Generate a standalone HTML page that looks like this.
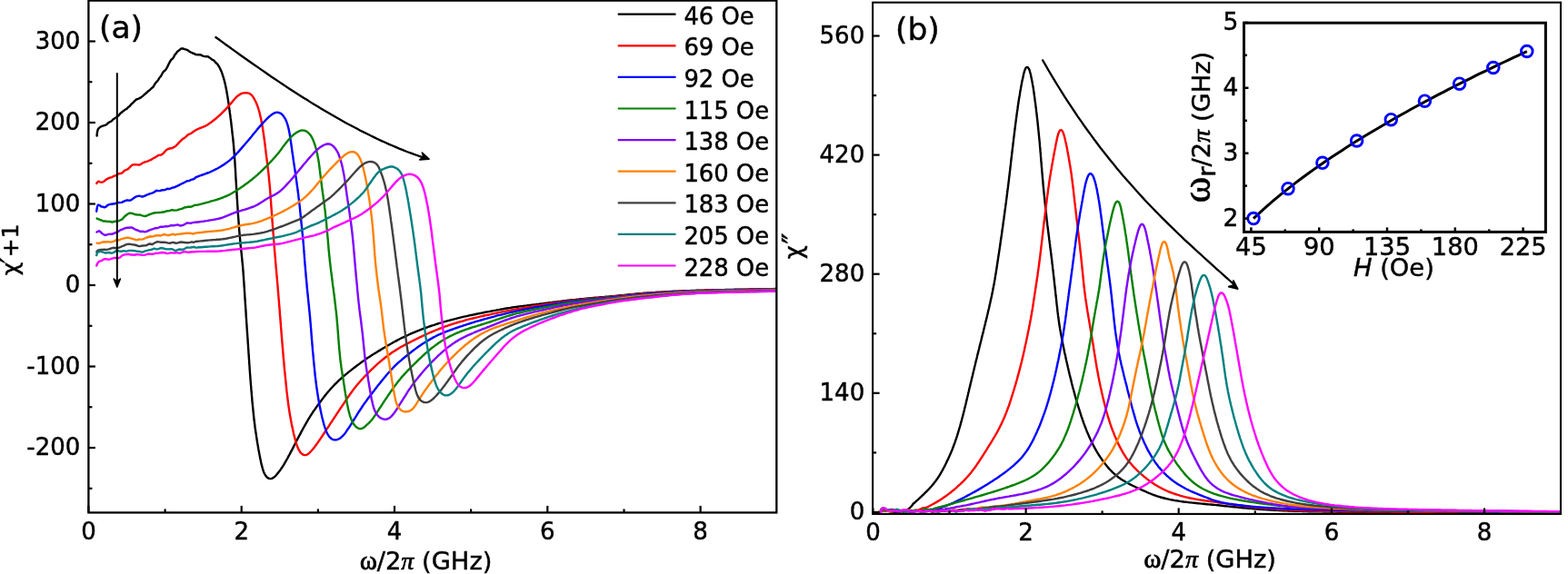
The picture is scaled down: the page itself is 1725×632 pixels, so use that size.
<!DOCTYPE html>
<html><head><meta charset="utf-8"><title>Susceptibility spectra</title>
<style>html,body{margin:0;padding:0;background:#fff;overflow:hidden}svg{display:block}text{fill:#000;stroke:#000;stroke-width:0.45px}</style>
</head><body>
<svg width="1725" height="632" viewBox="0 0 1725 632" font-family="'DejaVu Sans', Verdana, sans-serif">
<rect width="1725" height="632" fill="#fff"/>
<path d="M106.6,149.6 106.7,148.1 106.9,146.1 107.3,144.2 107.8,142.3 108.8,141.1 110.2,139.9 112.0,139.0 113.8,138.3 115.6,137.8 117.4,137.0 119.2,135.1 120.9,134.2 122.6,133.5 124.3,131.6 125.9,130.6 127.5,129.4 129.1,128.3 130.7,127.0 132.2,125.0 133.8,123.7 135.3,122.5 136.7,121.5 138.2,120.4 139.7,119.6 141.1,118.0 142.6,117.0 144.0,115.2 145.5,113.8 147.0,112.4 148.5,110.9 150.1,109.5 151.8,108.9 153.6,108.1 155.3,107.1 156.9,105.9 158.6,104.3 160.2,103.0 161.7,101.6 163.3,100.1 164.7,99.3 166.1,97.8 167.3,96.7 168.5,95.8 169.7,93.7 170.8,91.8 171.9,90.6 173.1,89.3 174.3,87.6 175.5,85.5 176.8,84.2 178.0,82.0 179.2,79.8 180.4,78.4 181.6,77.6 182.7,76.2 183.8,74.4 184.9,71.9 185.9,70.0 187.0,67.9 188.0,66.1 189.0,65.3 190.1,64.4 191.2,62.6 192.3,60.4 193.6,59.0 194.8,57.2 196.2,56.0 197.7,54.9 199.4,53.5 201.3,53.5 203.1,54.1 204.9,54.6 206.7,55.4 208.4,56.7 210.1,57.6 211.9,58.5 213.7,59.1 215.5,60.1 217.4,60.2 219.3,60.3 221.3,60.5 223.2,61.7 225.1,62.1 227.0,62.3 228.8,62.3 230.5,63.4 232.1,64.6 233.6,65.9 235.1,66.3 236.5,68.0 237.9,69.6 239.1,70.4 240.2,72.2 241.2,73.8 242.1,75.5 242.9,77.3 243.7,79.1 244.4,80.9 245.0,82.8 245.6,84.7 246.2,86.6 246.7,88.5 247.2,90.4 247.7,92.4 248.1,94.3 248.5,96.3 248.9,98.2 249.3,100.2 249.6,102.2 249.9,104.1 250.3,106.1 250.6,108.1 250.9,110.1 251.2,112.0 251.5,114.0 251.7,116.0 252.0,118.0 252.3,120.0 252.6,121.9 252.8,123.9 253.1,125.9 253.4,127.9 253.6,129.9 253.9,131.9 254.1,133.8 254.4,135.8 254.6,137.8 254.8,139.8 255.1,141.8 255.3,143.8 255.5,145.8 255.7,147.7 256.0,149.7 256.2,151.7 256.4,153.7 256.6,155.7 256.8,157.7 257.0,159.7 257.1,161.7 257.3,163.7 257.5,165.7 257.6,167.7 257.8,169.6 257.9,171.6 258.1,173.6 258.2,175.6 258.4,177.6 258.5,179.6 258.6,181.6 258.7,183.6 258.9,185.6 259.0,187.6 259.1,189.6 259.2,191.6 259.3,193.6 259.4,195.6 259.5,197.6 259.7,199.6 259.8,201.6 259.9,203.6 260.0,205.6 260.1,207.6 260.3,209.6 260.4,211.6 260.5,213.6 260.6,215.6 260.7,217.6 260.9,219.5 261.0,221.5 261.1,223.5 261.2,225.5 261.4,227.5 261.5,229.5 261.6,231.5 261.8,233.5 261.9,235.5 262.0,237.5 262.2,239.5 262.3,241.5 262.5,243.5 262.6,245.5 262.8,247.5 262.9,249.5 263.1,251.5 263.2,253.5 263.4,255.5 263.6,257.5 263.7,259.4 263.9,261.4 264.1,263.4 264.3,265.4 264.4,267.4 264.6,269.4 264.8,271.4 265.0,273.4 265.3,275.4 265.5,277.4 265.7,279.3 265.9,281.3 266.1,283.3 266.3,285.3 266.5,287.3 266.7,289.3 266.9,291.3 267.1,293.3 267.2,295.3 267.4,297.3 267.6,299.3 267.7,301.2 267.8,303.2 268.0,305.2 268.1,307.2 268.2,309.2 268.4,311.2 268.5,313.2 268.6,315.2 268.8,317.2 268.9,319.2 269.0,321.2 269.2,323.2 269.3,325.2 269.4,327.2 269.5,329.2 269.7,331.2 269.8,333.2 269.9,335.2 270.1,337.2 270.2,339.2 270.3,341.2 270.5,343.2 270.6,345.2 270.7,347.1 270.8,349.1 271.0,351.1 271.1,353.1 271.2,355.1 271.4,357.1 271.5,359.1 271.6,361.1 271.8,363.1 271.9,365.1 272.0,367.1 272.2,369.1 272.3,371.1 272.5,373.1 272.6,375.1 272.7,377.1 272.9,379.1 273.0,381.1 273.1,383.1 273.3,385.1 273.4,387.1 273.5,389.1 273.7,391.0 273.8,393.0 273.9,395.0 274.1,397.0 274.2,399.0 274.3,401.0 274.5,403.0 274.6,405.0 274.7,407.0 274.9,409.0 275.0,411.0 275.2,413.0 275.3,415.0 275.5,417.0 275.6,419.0 275.8,421.0 275.9,423.0 276.1,425.0 276.3,427.0 276.4,428.9 276.6,430.9 276.8,432.9 276.9,434.9 277.1,436.9 277.3,438.9 277.4,440.9 277.6,442.9 277.8,444.9 278.0,446.9 278.2,448.9 278.4,450.9 278.6,452.9 278.8,454.8 279.0,456.8 279.2,458.8 279.4,460.8 279.6,462.8 279.9,464.8 280.1,466.8 280.4,468.7 280.6,470.7 280.9,472.7 281.2,474.7 281.5,476.7 281.8,478.6 282.1,480.6 282.4,482.6 282.7,484.6 283.0,486.5 283.3,488.5 283.7,490.5 284.0,492.5 284.3,494.4 284.7,496.4 285.1,498.4 285.4,500.3 285.8,502.3 286.2,504.3 286.6,506.2 287.0,508.2 287.4,510.1 287.9,512.1 288.4,514.0 288.9,515.9 289.5,517.8 290.1,519.7 291.0,521.5 291.9,523.2 293.1,524.8 294.5,526.1 296.1,526.9 297.7,527.1 299.4,526.8 301.0,525.8 302.5,524.6 303.8,523.2 305.1,521.6 306.4,520.1 307.6,518.5 308.8,516.9 309.9,515.2 311.0,513.6 312.1,511.9 313.1,510.2 314.1,508.4 315.1,506.7 316.1,505.0 317.0,503.2 318.0,501.4 318.9,499.7 319.8,497.9 320.8,496.1 321.7,494.4 322.6,492.6 323.5,490.8 324.4,489.0 325.3,487.2 326.2,485.5 327.2,483.7 328.1,481.9 329.0,480.1 330.0,478.4 330.9,476.6 331.8,474.8 332.8,473.1 333.7,471.3 334.7,469.6 335.7,467.8 336.7,466.1 337.7,464.4 338.7,462.6 339.7,460.9 340.8,459.2 341.8,457.5 342.9,455.9 344.0,454.2 345.1,452.5 346.3,450.9 347.4,449.3 348.6,447.6 349.7,446.0 350.9,444.4 352.1,442.8 353.3,441.2 354.5,439.6 355.7,438.0 356.9,436.4 358.2,434.9 359.4,433.3 360.7,431.8 362.0,430.3 363.3,428.7 364.6,427.3 366.0,425.8 367.4,424.3 368.7,422.9 370.2,421.5 371.6,420.1 373.0,418.7 374.5,417.4 376.0,416.0 377.5,414.7 379.0,413.4 380.5,412.1 382.1,410.9 383.6,409.6 385.2,408.4 386.8,407.1 388.3,405.9 389.9,404.7 391.5,403.5 393.1,402.3 394.7,401.1 396.3,399.9 397.9,398.7 399.6,397.5 401.2,396.4 402.8,395.2 404.5,394.1 406.2,393.0 407.8,391.9 409.5,390.8 411.2,389.8 412.9,388.7 414.6,387.7 416.3,386.6 418.0,385.6 419.7,384.6 421.4,383.5 423.2,382.5 424.9,381.5 426.6,380.5 428.3,379.5 430.1,378.5 431.8,377.5 433.5,376.5 435.3,375.6 437.1,374.6 438.8,373.7 440.6,372.8 442.4,371.9 444.2,371.1 446.0,370.2 447.8,369.4 449.7,368.5 451.5,367.7 453.3,366.9 455.2,366.1 457.0,365.4 458.8,364.6 460.7,363.9 462.6,363.1 464.4,362.4 466.3,361.7 468.2,361.0 470.0,360.3 471.9,359.7 473.8,359.0 475.7,358.4 477.6,357.8 479.5,357.1 481.4,356.5 483.3,355.9 485.2,355.4 487.2,354.8 489.1,354.2 491.0,353.7 492.9,353.1 494.9,352.6 496.8,352.1 498.7,351.6 500.7,351.1 502.6,350.6 504.5,350.1 506.5,349.6 508.4,349.2 510.4,348.7 512.3,348.3 514.3,347.9 516.2,347.4 518.2,347.0 520.1,346.6 522.1,346.2 524.1,345.8 526.0,345.4 528.0,345.0 529.9,344.6 531.9,344.2 533.9,343.8 535.8,343.4 537.8,343.1 539.8,342.7 541.7,342.3 543.7,341.9 545.7,341.6 547.6,341.2 549.6,340.9 551.6,340.5 553.5,340.2 555.5,339.8 557.5,339.5 559.4,339.2 561.4,338.9 563.4,338.5 565.4,338.2 567.3,338.0 569.3,337.7 571.3,337.4 573.3,337.1 575.3,336.9 577.3,336.6 579.2,336.4 581.2,336.1 583.2,335.9 585.2,335.6 587.2,335.4 589.2,335.2 591.2,334.9 593.1,334.7 595.1,334.4 597.1,334.2 599.1,333.9 601.1,333.7 603.1,333.5 605.0,333.2 607.0,333.0 609.0,332.7 611.0,332.4 613.0,332.2 615.0,331.9 617.0,331.7 618.9,331.4 620.9,331.2 622.9,331.0 624.9,330.7 626.9,330.5 628.9,330.3 630.9,330.1 632.8,329.9 634.8,329.6 636.8,329.5 638.8,329.3 640.8,329.1 642.8,328.9 644.8,328.7 646.8,328.5 648.8,328.4 650.8,328.2 652.8,328.0 654.7,327.8 656.7,327.6 658.7,327.5 660.7,327.3 662.7,327.1 664.7,327.0 666.7,326.8 668.7,326.6 670.7,326.4 672.7,326.2 674.7,326.1 676.7,325.9 678.7,325.7 680.6,325.5 682.6,325.3 684.6,325.1 686.6,324.9 688.6,324.7 690.6,324.5 692.6,324.3 694.6,324.1 696.6,323.9 698.6,323.7 700.5,323.5 702.5,323.3 704.5,323.1 706.5,323.0 708.5,322.8 710.5,322.7 712.5,322.5 714.5,322.4 716.5,322.2 718.5,322.1 720.5,322.0 722.5,321.8 724.5,321.7 726.5,321.6 728.5,321.5 730.5,321.4 732.5,321.2 734.5,321.1 736.5,321.0 738.4,320.9 740.4,320.8 742.4,320.7 744.4,320.6 746.4,320.6 748.4,320.5 750.4,320.4 752.4,320.3 754.4,320.2 756.4,320.1 758.4,320.1 760.4,320.0 762.4,319.9 764.4,319.9 766.4,319.8 768.4,319.7 770.4,319.7 772.4,319.6 774.4,319.6 776.4,319.5 778.4,319.5 780.4,319.4 782.4,319.4 784.4,319.3 786.4,319.3 788.4,319.2 790.4,319.2 792.4,319.1 794.4,319.1 796.4,319.1 798.4,319.0 800.4,319.0 802.4,318.9 804.4,318.9 806.4,318.9 808.4,318.8 810.4,318.8 812.4,318.7 814.4,318.7 816.4,318.7 818.4,318.6 820.4,318.6 822.4,318.6 824.4,318.5 826.4,318.5 828.4,318.5 830.4,318.4 832.4,318.4 834.4,318.3 836.4,318.3 838.4,318.3 840.4,318.2 842.4,318.2 844.4,318.2 846.4,318.1 848.4,318.1 850.4,318.1 852.2,318.0 852.9,318.0" stroke="#000000" stroke-width="2.4" fill="none" stroke-linejoin="round" stroke-linecap="round"/>
<path d="M106.3,201.9 107.1,200.6 108.3,199.7 109.9,200.4 111.5,200.6 113.0,200.5 114.3,199.8 115.8,198.5 117.4,197.3 119.3,196.4 121.2,195.5 123.2,195.1 125.1,193.9 126.9,193.4 128.8,192.5 130.5,191.3 132.3,191.0 134.0,190.7 135.7,189.0 137.5,187.5 139.1,186.9 140.8,186.2 142.3,184.7 143.8,183.1 145.5,181.6 147.2,181.3 149.1,181.2 151.0,181.4 153.0,181.5 155.0,180.8 156.9,179.5 158.8,178.7 160.6,178.1 162.3,177.6 164.1,176.7 165.8,176.2 167.5,175.0 169.2,174.0 171.0,173.2 172.8,171.9 174.5,170.8 176.3,170.9 178.0,170.1 179.8,168.7 181.5,166.7 183.2,165.0 185.0,164.0 186.7,163.5 188.4,163.3 190.1,162.6 191.8,161.8 193.4,160.8 195.0,159.1 196.6,157.4 198.1,155.8 199.6,154.3 201.1,152.9 202.6,152.1 204.2,150.9 205.8,149.3 207.4,148.0 209.0,147.4 210.7,146.7 212.4,145.2 214.1,144.0 215.8,143.0 217.6,142.1 219.4,141.3 221.3,140.6 223.2,139.9 225.0,139.1 226.8,138.2 228.5,137.2 230.2,136.1 231.8,135.0 233.4,133.8 235.0,132.5 236.6,131.3 238.1,130.0 239.6,128.7 241.1,127.3 242.6,126.0 244.0,124.6 245.4,123.2 246.8,121.8 248.2,120.4 249.6,118.9 251.0,117.4 252.3,115.9 253.6,114.4 254.9,112.9 256.2,111.3 257.5,109.8 258.8,108.3 260.1,106.9 261.6,105.5 263.2,104.4 264.9,103.4 266.7,102.7 268.6,102.3 270.5,102.2 272.4,102.4 274.2,102.9 275.8,103.8 277.2,105.1 278.3,106.6 279.4,108.3 280.3,110.1 281.2,111.8 282.1,113.7 282.8,115.5 283.5,117.4 284.2,119.2 284.7,121.1 285.3,123.1 285.8,125.0 286.2,126.9 286.6,128.9 287.1,130.8 287.5,132.8 287.8,134.8 288.2,136.7 288.6,138.7 288.9,140.7 289.2,142.6 289.5,144.6 289.8,146.6 290.1,148.6 290.4,150.5 290.6,152.5 290.9,154.5 291.2,156.5 291.4,158.5 291.7,160.5 291.9,162.4 292.2,164.4 292.4,166.4 292.6,168.4 292.9,170.4 293.1,172.4 293.4,174.4 293.6,176.3 293.9,178.3 294.1,180.3 294.4,182.3 294.6,184.3 294.8,186.3 295.1,188.3 295.3,190.2 295.5,192.2 295.7,194.2 295.9,196.2 296.1,198.2 296.3,200.2 296.5,202.2 296.7,204.2 296.9,206.2 297.0,208.2 297.2,210.1 297.3,212.1 297.5,214.1 297.6,216.1 297.8,218.1 297.9,220.1 298.1,222.1 298.2,224.1 298.3,226.1 298.5,228.1 298.6,230.1 298.8,232.1 298.9,234.1 299.1,236.1 299.2,238.1 299.3,240.1 299.5,242.1 299.6,244.1 299.8,246.1 299.9,248.0 300.1,250.0 300.2,252.0 300.4,254.0 300.5,256.0 300.7,258.0 300.9,260.0 301.0,262.0 301.2,264.0 301.3,266.0 301.5,268.0 301.7,270.0 301.8,272.0 302.0,274.0 302.1,276.0 302.3,278.0 302.5,279.9 302.6,281.9 302.8,283.9 303.0,285.9 303.1,287.9 303.3,289.9 303.5,291.9 303.6,293.9 303.8,295.9 304.0,297.9 304.2,299.9 304.3,301.9 304.5,303.9 304.7,305.9 304.9,307.8 305.0,309.8 305.2,311.8 305.4,313.8 305.6,315.8 305.7,317.8 305.9,319.8 306.1,321.8 306.2,323.8 306.4,325.8 306.5,327.8 306.7,329.8 306.9,331.8 307.0,333.8 307.2,335.7 307.3,337.7 307.5,339.7 307.6,341.7 307.8,343.7 307.9,345.7 308.1,347.7 308.3,349.7 308.4,351.7 308.6,353.7 308.7,355.7 308.9,357.7 309.0,359.7 309.2,361.7 309.4,363.7 309.5,365.7 309.7,367.7 309.8,369.6 310.0,371.6 310.2,373.6 310.3,375.6 310.5,377.6 310.7,379.6 310.8,381.6 311.0,383.6 311.2,385.6 311.3,387.6 311.5,389.6 311.7,391.6 311.8,393.6 312.0,395.6 312.2,397.5 312.4,399.5 312.5,401.5 312.7,403.5 312.9,405.5 313.1,407.5 313.3,409.5 313.5,411.5 313.7,413.5 313.9,415.5 314.1,417.5 314.3,419.4 314.5,421.4 314.7,423.4 314.9,425.4 315.1,427.4 315.3,429.4 315.5,431.4 315.8,433.4 316.0,435.4 316.2,437.3 316.5,439.3 316.7,441.3 317.0,443.3 317.2,445.3 317.5,447.3 317.8,449.2 318.1,451.2 318.4,453.2 318.7,455.2 319.0,457.1 319.4,459.1 319.7,461.1 320.1,463.0 320.5,465.0 320.8,467.0 321.2,468.9 321.7,470.9 322.1,472.8 322.5,474.8 322.9,476.7 323.4,478.7 323.9,480.6 324.4,482.6 324.9,484.5 325.4,486.4 326.0,488.3 326.6,490.2 327.3,492.1 328.1,493.9 329.0,495.7 330.0,497.4 331.2,498.9 332.6,500.1 334.2,500.9 335.9,501.1 337.6,500.6 339.2,499.7 340.7,498.4 342.0,497.0 343.4,495.5 344.6,494.0 345.9,492.4 347.1,490.8 348.2,489.2 349.4,487.6 350.6,485.9 351.7,484.3 352.8,482.6 353.9,481.0 355.0,479.3 356.1,477.7 357.2,476.0 358.3,474.3 359.4,472.6 360.5,471.0 361.6,469.3 362.7,467.6 363.8,465.9 364.9,464.3 366.0,462.6 367.1,460.9 368.2,459.3 369.3,457.6 370.4,455.9 371.5,454.3 372.6,452.6 373.7,450.9 374.8,449.3 376.0,447.6 377.1,445.9 378.2,444.3 379.3,442.6 380.4,440.9 381.5,439.3 382.6,437.6 383.8,436.0 384.9,434.3 386.1,432.7 387.2,431.1 388.4,429.5 389.6,427.9 390.9,426.3 392.1,424.8 393.4,423.3 394.7,421.7 396.0,420.2 397.3,418.7 398.7,417.3 400.0,415.8 401.4,414.3 402.8,412.9 404.2,411.5 405.6,410.0 407.0,408.6 408.4,407.2 409.9,405.8 411.3,404.4 412.8,403.1 414.2,401.7 415.7,400.4 417.2,399.1 418.8,397.8 420.3,396.5 421.8,395.3 423.4,394.0 425.0,392.8 426.6,391.6 428.2,390.4 429.8,389.3 431.5,388.1 433.1,387.0 434.8,385.9 436.5,384.9 438.2,383.8 439.9,382.8 441.6,381.8 443.4,380.9 445.1,379.9 446.9,379.0 448.7,378.0 450.4,377.1 452.2,376.2 454.0,375.3 455.8,374.4 457.6,373.5 459.4,372.6 461.2,371.7 463.0,370.9 464.8,370.0 466.6,369.2 468.4,368.3 470.2,367.5 472.0,366.7 473.9,365.9 475.7,365.1 477.5,364.3 479.4,363.5 481.2,362.8 483.1,362.0 485.0,361.3 486.8,360.6 488.7,359.9 490.6,359.2 492.5,358.6 494.4,357.9 496.3,357.3 498.2,356.7 500.1,356.1 502.0,355.5 503.9,354.9 505.8,354.3 507.7,353.8 509.7,353.3 511.6,352.7 513.5,352.2 515.4,351.7 517.4,351.2 519.3,350.7 521.3,350.3 523.2,349.8 525.2,349.3 527.1,348.9 529.1,348.4 531.0,348.0 533.0,347.5 534.9,347.1 536.9,346.7 538.8,346.3 540.8,345.8 542.7,345.4 544.7,345.0 546.6,344.6 548.6,344.2 550.6,343.8 552.5,343.4 554.5,343.0 556.4,342.6 558.4,342.3 560.4,341.9 562.3,341.5 564.3,341.1 566.3,340.8 568.2,340.4 570.2,340.0 572.2,339.7 574.1,339.3 576.1,339.0 578.1,338.6 580.1,338.3 582.0,338.0 584.0,337.7 586.0,337.3 587.9,337.0 589.9,336.7 591.9,336.4 593.9,336.1 595.8,335.8 597.8,335.5 599.8,335.2 601.8,334.9 603.8,334.6 605.7,334.3 607.7,334.0 609.7,333.7 611.7,333.4 613.7,333.1 615.6,332.8 617.6,332.6 619.6,332.3 621.6,332.0 623.6,331.8 625.5,331.5 627.5,331.3 629.5,331.0 631.5,330.8 633.5,330.6 635.5,330.4 637.5,330.1 639.5,329.9 641.4,329.7 643.4,329.5 645.4,329.3 647.4,329.2 649.4,329.0 651.4,328.8 653.4,328.6 655.4,328.4 657.4,328.2 659.4,328.0 661.4,327.8 663.3,327.7 665.3,327.5 667.3,327.3 669.3,327.1 671.3,326.9 673.3,326.7 675.3,326.5 677.3,326.3 679.3,326.1 681.3,325.9 683.2,325.7 685.2,325.5 687.2,325.3 689.2,325.1 691.2,324.9 693.2,324.7 695.2,324.5 697.2,324.3 699.2,324.1 701.2,323.9 703.1,323.7 705.1,323.5 707.1,323.4 709.1,323.2 711.1,323.0 713.1,322.9 715.1,322.7 717.1,322.6 719.1,322.4 721.1,322.3 723.1,322.2 725.1,322.0 727.1,321.9 729.1,321.8 731.1,321.7 733.1,321.6 735.1,321.4 737.1,321.3 739.1,321.2 741.1,321.1 743.0,321.0 745.0,320.9 747.0,320.8 749.0,320.7 751.0,320.6 753.0,320.6 755.0,320.5 757.0,320.4 759.0,320.3 761.0,320.2 763.0,320.2 765.0,320.1 767.0,320.0 769.0,320.0 771.0,319.9 773.0,319.9 775.0,319.8 777.0,319.7 779.0,319.7 781.0,319.6 783.0,319.6 785.0,319.5 787.0,319.5 789.0,319.4 791.0,319.4 793.0,319.4 795.0,319.3 797.0,319.3 799.0,319.2 801.0,319.2 803.0,319.2 805.0,319.1 807.0,319.1 809.0,319.0 811.0,319.0 813.0,319.0 815.0,318.9 817.0,318.9 819.0,318.8 821.0,318.8 823.0,318.8 825.0,318.7 827.0,318.7 829.0,318.7 831.0,318.6 833.0,318.6 835.0,318.6 837.0,318.5 839.0,318.5 841.0,318.5 843.0,318.4 845.0,318.4 847.0,318.3 849.0,318.3 850.9,318.3 852.5,318.2" stroke="#ff0000" stroke-width="2.4" fill="none" stroke-linejoin="round" stroke-linecap="round"/>
<path d="M106.2,232.7 106.4,231.2 106.7,229.2 107.1,227.3 107.8,225.8 108.9,225.7 110.1,226.4 111.4,227.5 113.0,227.6 114.8,228.4 116.6,227.7 118.4,225.8 120.3,225.1 122.3,224.7 124.2,224.5 126.2,224.4 128.1,223.5 130.1,223.0 132.0,223.1 133.9,222.9 135.9,221.9 137.8,221.1 139.7,220.3 141.6,220.7 143.5,220.6 145.4,219.4 147.3,218.0 149.2,216.7 151.1,216.2 153.0,215.7 155.0,216.2 156.9,216.5 158.9,215.9 160.8,214.9 162.7,214.2 164.7,213.3 166.5,212.8 168.4,212.2 170.3,211.1 172.2,209.8 174.1,210.1 176.1,210.0 178.1,209.3 180.0,209.3 182.0,208.9 184.0,207.8 185.9,208.1 187.9,207.4 189.8,206.6 191.7,206.3 193.6,205.4 195.4,204.6 197.3,203.6 199.1,202.7 200.9,201.8 202.7,201.0 204.5,200.0 206.2,199.2 208.0,199.1 209.8,198.2 211.6,197.5 213.4,197.1 215.2,195.4 217.0,194.6 218.9,193.8 220.8,193.2 222.7,192.5 224.6,191.9 226.4,191.2 228.3,190.5 230.2,189.8 232.0,189.0 233.8,188.2 235.6,187.3 237.4,186.4 239.2,185.5 240.9,184.5 242.6,183.5 244.3,182.4 246.0,181.4 247.7,180.2 249.3,179.1 250.9,177.9 252.5,176.7 254.0,175.4 255.5,174.0 257.0,172.7 258.4,171.2 259.8,169.8 261.1,168.3 262.5,166.9 263.8,165.4 265.1,163.9 266.4,162.4 267.8,160.8 269.1,159.3 270.4,157.8 271.7,156.3 273.0,154.8 274.3,153.3 275.5,151.7 276.8,150.2 278.1,148.6 279.3,147.1 280.6,145.5 281.9,144.0 283.1,142.4 284.4,140.9 285.7,139.4 287.0,137.9 288.4,136.4 289.7,134.9 291.1,133.5 292.5,132.0 293.9,130.6 295.4,129.2 296.8,127.9 298.4,126.6 300.0,125.5 301.7,124.5 303.5,123.9 305.3,123.8 307.1,124.1 308.8,124.8 310.3,126.0 311.6,127.5 312.7,129.1 313.8,130.8 314.6,132.6 315.4,134.4 316.0,136.3 316.6,138.2 317.1,140.1 317.6,142.1 318.0,144.0 318.4,146.0 318.7,147.9 319.0,149.9 319.3,151.9 319.6,153.9 319.9,155.8 320.2,157.8 320.5,159.8 320.8,161.8 321.1,163.8 321.3,165.7 321.6,167.7 321.9,169.7 322.2,171.7 322.5,173.7 322.7,175.6 323.0,177.6 323.3,179.6 323.6,181.6 323.9,183.6 324.2,185.5 324.5,187.5 324.8,189.5 325.1,191.5 325.3,193.4 325.6,195.4 325.9,197.4 326.2,199.4 326.5,201.4 326.7,203.3 327.0,205.3 327.3,207.3 327.5,209.3 327.8,211.3 328.1,213.3 328.3,215.2 328.5,217.2 328.8,219.2 329.0,221.2 329.2,223.2 329.5,225.2 329.7,227.2 329.9,229.2 330.1,231.1 330.3,233.1 330.5,235.1 330.7,237.1 330.9,239.1 331.1,241.1 331.3,243.1 331.5,245.1 331.7,247.1 331.9,249.0 332.1,251.0 332.3,253.0 332.5,255.0 332.7,257.0 332.9,259.0 333.1,261.0 333.3,263.0 333.5,265.0 333.7,267.0 333.8,269.0 334.0,271.0 334.2,272.9 334.3,274.9 334.5,276.9 334.6,278.9 334.8,280.9 334.9,282.9 335.1,284.9 335.2,286.9 335.4,288.9 335.5,290.9 335.7,292.9 335.9,294.9 336.0,296.9 336.2,298.9 336.4,300.9 336.5,302.8 336.7,304.8 336.9,306.8 337.1,308.8 337.3,310.8 337.5,312.8 337.6,314.8 337.8,316.8 338.0,318.8 338.2,320.8 338.4,322.8 338.6,324.7 338.8,326.7 339.0,328.7 339.2,330.7 339.4,332.7 339.6,334.7 339.8,336.7 340.0,338.7 340.2,340.7 340.4,342.7 340.6,344.6 340.8,346.6 341.0,348.6 341.2,350.6 341.3,352.6 341.5,354.6 341.7,356.6 341.8,358.6 342.0,360.6 342.2,362.6 342.3,364.6 342.5,366.6 342.6,368.6 342.8,370.6 342.9,372.5 343.1,374.5 343.3,376.5 343.4,378.5 343.6,380.5 343.8,382.5 343.9,384.5 344.1,386.5 344.3,388.5 344.5,390.5 344.7,392.5 344.8,394.5 345.0,396.5 345.2,398.4 345.4,400.4 345.6,402.4 345.8,404.4 346.0,406.4 346.2,408.4 346.4,410.4 346.6,412.4 346.8,414.4 347.1,416.4 347.3,418.3 347.5,420.3 347.8,422.3 348.0,424.3 348.3,426.3 348.6,428.3 348.9,430.2 349.2,432.2 349.5,434.2 349.8,436.2 350.1,438.1 350.4,440.1 350.8,442.1 351.1,444.0 351.5,446.0 351.9,448.0 352.3,449.9 352.7,451.9 353.1,453.8 353.5,455.8 354.0,457.7 354.4,459.7 354.9,461.6 355.4,463.6 355.9,465.5 356.4,467.4 357.0,469.3 357.6,471.2 358.3,473.1 359.0,475.0 359.8,476.8 360.8,478.6 361.8,480.2 363.1,481.7 364.5,483.0 366.1,483.9 367.8,484.4 369.7,484.3 371.5,483.8 373.3,483.0 374.9,481.9 376.4,480.6 377.8,479.2 379.1,477.7 380.3,476.1 381.4,474.4 382.5,472.8 383.7,471.1 384.8,469.4 385.8,467.8 386.9,466.1 388.0,464.4 389.0,462.7 390.1,461.0 391.1,459.3 392.2,457.6 393.2,455.9 394.3,454.2 395.4,452.5 396.5,450.8 397.6,449.2 398.7,447.5 399.8,445.9 400.9,444.2 402.1,442.6 403.3,441.0 404.4,439.4 405.6,437.8 406.8,436.2 408.1,434.6 409.3,433.0 410.5,431.4 411.7,429.9 412.9,428.3 414.1,426.7 415.4,425.1 416.6,423.6 417.9,422.0 419.1,420.4 420.4,418.9 421.6,417.3 422.9,415.8 424.2,414.2 425.4,412.7 426.7,411.2 428.0,409.7 429.4,408.2 430.7,406.7 432.1,405.3 433.5,403.8 434.9,402.4 436.3,401.1 437.8,399.7 439.3,398.4 440.8,397.1 442.3,395.8 443.8,394.5 445.4,393.2 446.9,392.0 448.5,390.7 450.0,389.5 451.6,388.2 453.2,387.0 454.8,385.8 456.4,384.6 458.0,383.4 459.6,382.2 461.2,381.1 462.9,379.9 464.5,378.8 466.2,377.7 467.9,376.7 469.6,375.6 471.3,374.6 473.0,373.6 474.8,372.6 476.5,371.6 478.3,370.7 480.1,369.8 481.8,368.9 483.7,368.1 485.5,367.3 487.3,366.5 489.2,365.8 491.0,365.0 492.9,364.3 494.8,363.6 496.6,363.0 498.5,362.3 500.4,361.6 502.3,361.0 504.2,360.3 506.1,359.7 508.0,359.1 509.9,358.4 511.8,357.8 513.7,357.2 515.6,356.6 517.5,356.0 519.4,355.4 521.3,354.8 523.2,354.2 525.1,353.6 527.1,353.1 529.0,352.5 530.9,352.0 532.8,351.4 534.8,350.9 536.7,350.3 538.6,349.8 540.5,349.3 542.5,348.8 544.4,348.3 546.3,347.7 548.3,347.2 550.2,346.8 552.2,346.3 554.1,345.8 556.0,345.3 558.0,344.8 559.9,344.4 561.9,343.9 563.8,343.5 565.8,343.1 567.7,342.6 569.7,342.2 571.6,341.8 573.6,341.4 575.6,341.0 577.5,340.6 579.5,340.2 581.4,339.8 583.4,339.4 585.4,339.1 587.3,338.7 589.3,338.3 591.3,338.0 593.2,337.6 595.2,337.3 597.2,336.9 599.1,336.6 601.1,336.2 603.1,335.9 605.1,335.6 607.0,335.2 609.0,334.9 611.0,334.6 613.0,334.3 614.9,334.0 616.9,333.6 618.9,333.3 620.9,333.0 622.8,332.7 624.8,332.5 626.8,332.2 628.8,331.9 630.8,331.7 632.7,331.5 634.7,331.2 636.7,331.0 638.7,330.8 640.7,330.6 642.7,330.4 644.7,330.2 646.7,329.9 648.7,329.7 650.6,329.6 652.6,329.4 654.6,329.2 656.6,329.0 658.6,328.8 660.6,328.6 662.6,328.4 664.6,328.2 666.6,328.0 668.6,327.8 670.6,327.6 672.5,327.4 674.5,327.2 676.5,327.0 678.5,326.8 680.5,326.6 682.5,326.4 684.5,326.2 686.5,326.0 688.5,325.8 690.4,325.6 692.4,325.3 694.4,325.1 696.4,324.9 698.4,324.7 700.4,324.5 702.4,324.3 704.4,324.1 706.4,323.9 708.4,323.8 710.3,323.6 712.3,323.4 714.3,323.3 716.3,323.1 718.3,323.0 720.3,322.8 722.3,322.7 724.3,322.6 726.3,322.4 728.3,322.3 730.3,322.2 732.3,322.0 734.3,321.9 736.3,321.8 738.3,321.7 740.3,321.5 742.3,321.4 744.3,321.3 746.3,321.2 748.3,321.1 750.3,321.0 752.3,320.9 754.3,320.8 756.3,320.8 758.3,320.7 760.3,320.6 762.2,320.5 764.2,320.4 766.2,320.4 768.2,320.3 770.2,320.2 772.2,320.2 774.2,320.1 776.2,320.1 778.2,320.0 780.2,319.9 782.2,319.9 784.2,319.8 786.2,319.8 788.2,319.7 790.2,319.7 792.2,319.7 794.2,319.6 796.2,319.6 798.2,319.5 800.2,319.5 802.2,319.4 804.2,319.4 806.2,319.4 808.2,319.3 810.2,319.3 812.2,319.2 814.2,319.2 816.2,319.2 818.2,319.1 820.2,319.1 822.2,319.1 824.2,319.0 826.2,319.0 828.2,318.9 830.2,318.9 832.2,318.9 834.2,318.8 836.2,318.8 838.2,318.8 840.2,318.7 842.2,318.7 844.2,318.7 846.2,318.6 848.2,318.6 850.2,318.5 852.0,318.5 852.7,318.5" stroke="#0000ff" stroke-width="2.4" fill="none" stroke-linejoin="round" stroke-linecap="round"/>
<path d="M106.6,240.6 108.0,241.2 109.8,241.9 111.6,242.5 113.5,243.5 115.4,243.4 117.4,243.8 119.3,244.0 121.3,244.0 123.3,244.7 125.3,244.0 127.3,243.6 129.2,243.6 131.0,243.2 132.7,242.1 134.3,241.6 135.8,239.8 137.2,238.2 138.7,237.0 140.4,235.8 142.2,234.7 144.2,234.6 146.2,235.2 148.1,236.0 150.0,236.3 151.8,236.6 153.6,236.4 155.6,237.1 157.5,237.6 159.5,238.0 161.5,237.5 163.4,236.5 165.3,235.8 167.3,235.1 169.2,234.5 171.2,234.3 173.2,234.1 175.2,234.0 177.2,233.9 179.1,233.5 181.1,233.3 183.1,232.4 185.1,232.3 187.0,231.9 189.0,231.1 191.0,231.5 192.9,231.6 194.9,231.4 196.9,230.6 198.8,230.2 200.8,229.6 202.7,228.5 204.7,228.3 206.7,227.6 208.6,227.7 210.6,227.6 212.5,226.7 214.4,225.7 216.4,225.9 218.3,225.4 220.3,224.9 222.2,224.4 224.1,223.8 226.1,223.3 228.0,222.8 229.9,222.3 231.8,221.7 233.8,221.2 235.7,220.7 237.6,220.1 239.5,219.5 241.4,218.9 243.3,218.2 245.2,217.5 247.0,216.7 248.9,216.0 250.7,215.1 252.5,214.3 254.3,213.3 256.0,212.3 257.7,211.3 259.4,210.2 261.1,209.2 262.8,208.1 264.4,207.0 266.1,205.8 267.7,204.7 269.3,203.5 271.0,202.3 272.6,201.2 274.2,199.9 275.7,198.7 277.3,197.5 278.8,196.2 280.4,194.9 281.9,193.6 283.4,192.3 284.8,190.9 286.3,189.6 287.8,188.2 289.2,186.8 290.6,185.4 292.1,184.0 293.5,182.6 294.9,181.1 296.2,179.7 297.6,178.2 299.0,176.8 300.4,175.3 301.7,173.8 303.0,172.4 304.3,170.8 305.6,169.3 306.9,167.7 308.1,166.1 309.3,164.5 310.4,162.9 311.6,161.3 312.8,159.7 314.0,158.1 315.3,156.6 316.5,155.0 317.8,153.5 319.1,152.0 320.5,150.5 321.9,149.2 323.5,147.9 325.1,146.7 326.7,145.6 328.5,144.7 330.3,143.9 332.1,143.5 334.0,143.6 335.8,144.0 337.5,144.9 339.0,146.1 340.4,147.5 341.7,149.0 342.8,150.7 343.7,152.4 344.5,154.2 345.2,156.1 345.9,158.0 346.6,159.9 347.1,161.8 347.7,163.7 348.2,165.6 348.6,167.6 349.1,169.5 349.4,171.5 349.8,173.4 350.2,175.4 350.5,177.4 350.8,179.3 351.1,181.3 351.3,183.3 351.6,185.3 351.8,187.2 352.1,189.2 352.3,191.2 352.6,193.2 352.8,195.2 353.0,197.2 353.3,199.2 353.5,201.1 353.8,203.1 354.0,205.1 354.3,207.1 354.6,209.1 354.8,211.1 355.1,213.0 355.4,215.0 355.7,217.0 355.9,219.0 356.2,221.0 356.5,222.9 356.7,224.9 357.0,226.9 357.2,228.9 357.5,230.9 357.7,232.9 357.9,234.9 358.1,236.8 358.3,238.8 358.6,240.8 358.8,242.8 359.0,244.8 359.2,246.8 359.3,248.8 359.5,250.8 359.7,252.8 359.9,254.8 360.1,256.7 360.2,258.7 360.4,260.7 360.6,262.7 360.8,264.7 360.9,266.7 361.1,268.7 361.3,270.7 361.4,272.7 361.6,274.7 361.8,276.7 362.0,278.7 362.2,280.7 362.4,282.6 362.6,284.6 362.8,286.6 363.0,288.6 363.3,290.6 363.5,292.6 363.7,294.6 364.0,296.6 364.2,298.5 364.5,300.5 364.7,302.5 365.0,304.5 365.2,306.5 365.5,308.5 365.7,310.4 366.0,312.4 366.2,314.4 366.5,316.4 366.8,318.4 367.0,320.4 367.3,322.3 367.5,324.3 367.8,326.3 368.0,328.3 368.3,330.3 368.5,332.3 368.7,334.3 369.0,336.2 369.2,338.2 369.4,340.2 369.7,342.2 369.9,344.2 370.1,346.2 370.3,348.2 370.5,350.2 370.7,352.1 370.8,354.1 371.0,356.1 371.2,358.1 371.4,360.1 371.5,362.1 371.7,364.1 371.8,366.1 372.0,368.1 372.1,370.1 372.3,372.1 372.4,374.1 372.6,376.1 372.7,378.1 372.9,380.1 373.1,382.0 373.2,384.0 373.4,386.0 373.6,388.0 373.8,390.0 374.0,392.0 374.2,394.0 374.4,396.0 374.6,398.0 374.9,399.9 375.2,401.9 375.4,403.9 375.7,405.9 376.0,407.9 376.3,409.8 376.6,411.8 376.9,413.8 377.2,415.8 377.6,417.7 377.9,419.7 378.2,421.7 378.5,423.7 378.8,425.6 379.1,427.6 379.4,429.6 379.7,431.6 380.0,433.5 380.4,435.5 380.7,437.5 381.0,439.5 381.4,441.4 381.7,443.4 382.1,445.4 382.5,447.3 382.9,449.3 383.3,451.2 383.8,453.2 384.3,455.1 384.8,457.0 385.4,458.9 386.1,460.8 386.8,462.6 387.7,464.5 388.6,466.2 389.8,467.8 391.0,469.3 392.5,470.6 394.1,471.6 395.8,472.1 397.6,472.0 399.2,471.4 400.8,470.3 402.3,469.0 403.7,467.6 405.2,466.3 406.6,465.0 408.0,463.5 409.3,462.0 410.5,460.4 411.6,458.8 412.8,457.1 413.9,455.5 414.9,453.8 416.0,452.1 417.1,450.4 418.2,448.8 419.3,447.1 420.4,445.4 421.5,443.7 422.5,442.1 423.6,440.4 424.8,438.7 425.9,437.1 427.0,435.4 428.1,433.8 429.2,432.1 430.4,430.5 431.5,428.8 432.7,427.2 433.9,425.6 435.1,424.0 436.3,422.4 437.5,420.8 438.7,419.2 440.0,417.7 441.2,416.1 442.5,414.6 443.9,413.1 445.2,411.6 446.6,410.2 447.9,408.7 449.3,407.3 450.7,405.9 452.1,404.4 453.5,403.0 454.9,401.6 456.4,400.2 457.8,398.8 459.2,397.4 460.6,396.0 462.1,394.6 463.5,393.3 465.0,391.9 466.5,390.5 468.0,389.2 469.5,387.9 471.0,386.6 472.5,385.3 474.0,384.0 475.6,382.8 477.2,381.6 478.8,380.4 480.4,379.2 482.0,378.0 483.6,376.9 485.3,375.8 487.0,374.8 488.7,373.8 490.4,372.8 492.2,371.8 493.9,370.9 495.7,369.9 497.5,369.1 499.3,368.2 501.1,367.4 502.9,366.5 504.8,365.8 506.6,365.0 508.5,364.3 510.3,363.6 512.2,362.9 514.1,362.3 516.0,361.6 517.9,361.0 519.8,360.4 521.7,359.8 523.6,359.3 525.6,358.7 527.5,358.1 529.4,357.5 531.3,356.9 533.2,356.3 535.1,355.7 537.0,355.1 538.9,354.5 540.8,353.8 542.7,353.2 544.6,352.6 546.5,351.9 548.4,351.3 550.3,350.6 552.2,350.0 554.1,349.4 556.0,348.8 557.9,348.2 559.8,347.6 561.7,347.0 563.6,346.5 565.5,345.9 567.5,345.4 569.4,344.9 571.4,344.5 573.3,344.0 575.2,343.5 577.2,343.1 579.2,342.7 581.1,342.2 583.1,341.8 585.0,341.4 587.0,341.0 588.9,340.6 590.9,340.2 592.8,339.8 594.8,339.4 596.8,339.0 598.7,338.6 600.7,338.2 602.6,337.8 604.6,337.4 606.6,337.0 608.5,336.6 610.5,336.3 612.5,335.9 614.4,335.5 616.4,335.2 618.4,334.8 620.3,334.5 622.3,334.2 624.3,333.8 626.3,333.5 628.2,333.2 630.2,333.0 632.2,332.7 634.2,332.4 636.2,332.2 638.1,331.9 640.1,331.7 642.1,331.4 644.1,331.2 646.1,331.0 648.1,330.7 650.1,330.5 652.1,330.3 654.0,330.1 656.0,329.8 658.0,329.6 660.0,329.4 662.0,329.2 664.0,329.0 666.0,328.7 668.0,328.5 669.9,328.3 671.9,328.1 673.9,327.9 675.9,327.6 677.9,327.4 679.9,327.2 681.9,327.0 683.9,326.7 685.8,326.5 687.8,326.3 689.8,326.1 691.8,325.9 693.8,325.6 695.8,325.4 697.8,325.2 699.8,325.0 701.7,324.8 703.7,324.6 705.7,324.4 707.7,324.3 709.7,324.1 711.7,323.9 713.7,323.7 715.7,323.6 717.7,323.4 719.7,323.3 721.7,323.1 723.7,323.0 725.7,322.8 727.7,322.7 729.7,322.6 731.7,322.4 733.6,322.3 735.6,322.2 737.6,322.0 739.6,321.9 741.6,321.8 743.6,321.7 745.6,321.6 747.6,321.5 749.6,321.3 751.6,321.2 753.6,321.2 755.6,321.1 757.6,321.0 759.6,320.9 761.6,320.8 763.6,320.7 765.6,320.6 767.6,320.6 769.6,320.5 771.6,320.4 773.6,320.4 775.6,320.3 777.6,320.3 779.6,320.2 781.6,320.1 783.6,320.1 785.6,320.0 787.6,320.0 789.6,319.9 791.6,319.9 793.6,319.9 795.6,319.8 797.6,319.8 799.6,319.7 801.6,319.7 803.6,319.6 805.6,319.6 807.6,319.6 809.6,319.5 811.6,319.5 813.6,319.4 815.6,319.4 817.6,319.4 819.6,319.3 821.6,319.3 823.6,319.2 825.6,319.2 827.6,319.2 829.6,319.1 831.6,319.1 833.6,319.1 835.6,319.0 837.6,319.0 839.6,319.0 841.6,318.9 843.6,318.9 845.6,318.8 847.6,318.8 849.6,318.8 851.5,318.7 853.1,318.7" stroke="#008000" stroke-width="2.4" fill="none" stroke-linejoin="round" stroke-linecap="round"/>
<path d="M106.5,255.5 107.7,254.7 109.3,254.3 110.7,255.5 112.2,256.9 113.8,258.1 115.7,259.0 117.7,258.4 119.6,257.9 121.6,257.7 123.6,257.7 125.5,256.8 127.3,256.1 129.1,255.6 130.8,254.5 132.5,253.1 134.3,252.8 136.1,251.8 137.9,251.1 139.9,250.7 141.8,250.8 143.8,250.4 145.7,250.7 147.6,251.9 149.4,253.0 151.3,253.5 153.1,254.4 155.0,255.0 157.0,254.7 158.9,255.3 160.9,255.1 162.8,254.1 164.7,253.3 166.6,252.7 168.5,252.2 170.3,251.3 172.3,251.2 174.2,250.8 176.2,249.7 178.2,249.8 180.2,249.6 182.2,249.3 184.1,249.3 186.1,248.8 188.1,248.1 190.1,248.2 192.1,248.2 194.1,247.6 196.1,247.5 198.0,248.5 200.0,248.3 202.0,247.6 204.0,246.5 205.9,245.4 207.9,245.6 209.9,245.8 211.9,245.2 213.8,244.8 215.8,244.8 217.8,244.5 219.8,244.2 221.8,243.9 223.7,243.7 225.7,243.4 227.7,243.1 229.7,242.7 231.7,242.4 233.6,242.1 235.6,241.8 237.6,241.4 239.5,241.0 241.5,240.5 243.4,240.0 245.3,239.4 247.2,238.7 249.0,237.9 250.9,237.2 252.7,236.4 254.6,235.6 256.4,234.9 258.3,234.2 260.2,233.5 262.1,232.9 264.0,232.3 265.9,231.7 267.8,231.1 269.7,230.6 271.6,230.0 273.5,229.4 275.4,228.7 277.3,228.0 279.2,227.3 281.0,226.5 282.8,225.6 284.5,224.6 286.2,223.6 287.9,222.5 289.6,221.4 291.3,220.3 293.0,219.3 294.7,218.3 296.5,217.3 298.2,216.4 300.0,215.5 301.8,214.6 303.5,213.6 305.2,212.6 306.9,211.4 308.4,210.2 309.9,208.9 311.4,207.5 312.8,206.1 314.2,204.6 315.5,203.1 316.9,201.7 318.2,200.2 319.6,198.7 320.9,197.2 322.2,195.7 323.4,194.1 324.7,192.6 326.0,191.0 327.2,189.5 328.5,188.0 329.8,186.4 331.1,184.9 332.4,183.3 333.6,181.8 334.9,180.2 336.2,178.7 337.5,177.2 338.7,175.6 340.1,174.2 341.4,172.7 342.7,171.2 344.1,169.7 345.4,168.2 346.8,166.8 348.3,165.4 349.8,164.1 351.3,162.8 352.9,161.7 354.6,160.6 356.4,159.7 358.2,159.0 360.0,158.5 361.9,158.5 363.6,159.0 365.3,159.9 366.8,161.1 368.1,162.6 369.3,164.1 370.4,165.8 371.4,167.5 372.2,169.3 373.0,171.2 373.6,173.1 374.2,174.9 374.8,176.9 375.4,178.8 375.9,180.7 376.4,182.6 376.8,184.6 377.2,186.5 377.6,188.5 378.0,190.5 378.4,192.4 378.7,194.4 379.0,196.4 379.4,198.3 379.7,200.3 379.9,202.3 380.2,204.3 380.5,206.3 380.7,208.2 381.0,210.2 381.3,212.2 381.5,214.2 381.8,216.2 382.1,218.1 382.4,220.1 382.7,222.1 383.0,224.1 383.3,226.1 383.6,228.0 383.9,230.0 384.2,232.0 384.5,234.0 384.8,235.9 385.0,237.9 385.3,239.9 385.6,241.9 385.9,243.9 386.1,245.8 386.4,247.8 386.7,249.8 386.9,251.8 387.1,253.8 387.4,255.8 387.6,257.8 387.8,259.7 388.0,261.7 388.2,263.7 388.4,265.7 388.6,267.7 388.8,269.7 389.0,271.7 389.1,273.7 389.3,275.7 389.5,277.7 389.6,279.7 389.8,281.6 390.0,283.6 390.2,285.6 390.3,287.6 390.5,289.6 390.7,291.6 390.8,293.6 391.0,295.6 391.2,297.6 391.4,299.6 391.6,301.6 391.7,303.6 391.9,305.6 392.1,307.5 392.3,309.5 392.5,311.5 392.7,313.5 392.9,315.5 393.0,317.5 393.2,319.5 393.4,321.5 393.6,323.5 393.8,325.5 394.0,327.5 394.2,329.4 394.4,331.4 394.6,333.4 394.9,335.4 395.1,337.4 395.3,339.4 395.5,341.4 395.8,343.4 396.0,345.3 396.3,347.3 396.6,349.3 396.8,351.3 397.1,353.3 397.3,355.3 397.6,357.2 397.8,359.2 398.1,361.2 398.3,363.2 398.6,365.2 398.8,367.2 399.0,369.2 399.2,371.1 399.4,373.1 399.6,375.1 399.8,377.1 400.0,379.1 400.2,381.1 400.4,383.1 400.6,385.1 400.8,387.1 401.0,389.1 401.2,391.0 401.4,393.0 401.7,395.0 401.9,397.0 402.2,399.0 402.5,401.0 402.7,402.9 403.0,404.9 403.3,406.9 403.6,408.9 404.0,410.8 404.3,412.8 404.6,414.8 404.9,416.8 405.2,418.7 405.6,420.7 405.9,422.7 406.2,424.7 406.5,426.6 406.9,428.6 407.2,430.6 407.6,432.5 407.9,434.5 408.3,436.5 408.6,438.4 409.0,440.4 409.5,442.3 409.9,444.3 410.4,446.2 410.9,448.1 411.5,450.0 412.2,451.9 413.1,453.7 414.0,455.4 415.2,457.0 416.5,458.5 418.0,459.7 419.7,460.7 421.4,461.4 423.3,461.7 425.2,461.6 426.9,461.0 428.6,460.1 430.1,458.9 431.5,457.4 432.8,455.9 434.0,454.3 435.1,452.7 436.2,451.0 437.3,449.3 438.3,447.6 439.4,445.9 440.5,444.2 441.5,442.5 442.6,440.8 443.7,439.1 444.7,437.5 445.8,435.8 446.9,434.1 447.9,432.4 449.0,430.7 450.1,429.0 451.3,427.4 452.4,425.7 453.5,424.1 454.7,422.5 455.9,420.9 457.1,419.3 458.3,417.7 459.6,416.2 460.8,414.6 462.1,413.1 463.4,411.6 464.7,410.0 466.0,408.5 467.3,407.0 468.6,405.5 470.0,404.0 471.3,402.6 472.7,401.1 474.1,399.6 475.4,398.2 476.8,396.8 478.3,395.4 479.7,394.0 481.1,392.6 482.6,391.2 484.1,389.9 485.6,388.5 487.1,387.2 488.6,385.9 490.1,384.6 491.6,383.4 493.2,382.1 494.8,380.9 496.4,379.8 498.0,378.6 499.7,377.5 501.3,376.4 503.0,375.4 504.7,374.3 506.5,373.4 508.2,372.4 510.0,371.5 511.8,370.6 513.6,369.7 515.4,368.9 517.2,368.1 519.0,367.3 520.9,366.5 522.7,365.7 524.6,365.0 526.4,364.2 528.3,363.5 530.1,362.7 532.0,362.0 533.9,361.3 535.7,360.5 537.6,359.8 539.4,359.1 541.3,358.3 543.2,357.6 545.0,356.8 546.9,356.1 548.7,355.4 550.6,354.6 552.5,353.9 554.3,353.2 556.2,352.5 558.1,351.8 560.0,351.2 561.9,350.5 563.7,349.9 565.7,349.3 567.6,348.7 569.5,348.1 571.4,347.6 573.3,347.1 575.3,346.6 577.2,346.1 579.1,345.6 581.1,345.1 583.0,344.6 585.0,344.2 586.9,343.7 588.9,343.2 590.8,342.8 592.8,342.3 594.7,341.9 596.7,341.5 598.6,341.0 600.6,340.6 602.5,340.1 604.5,339.7 606.4,339.3 608.4,338.9 610.3,338.4 612.3,338.0 614.2,337.6 616.2,337.2 618.2,336.8 620.1,336.4 622.1,336.0 624.0,335.7 626.0,335.3 628.0,335.0 630.0,334.6 631.9,334.3 633.9,334.0 635.9,333.7 637.9,333.4 639.8,333.1 641.8,332.8 643.8,332.5 645.8,332.3 647.8,332.0 649.7,331.7 651.7,331.5 653.7,331.2 655.7,330.9 657.7,330.7 659.6,330.4 661.6,330.1 663.6,329.9 665.6,329.6 667.6,329.4 669.6,329.1 671.6,328.9 673.5,328.6 675.5,328.4 677.5,328.1 679.5,327.9 681.5,327.6 683.5,327.4 685.4,327.1 687.4,326.9 689.4,326.7 691.4,326.4 693.4,326.2 695.4,326.0 697.4,325.8 699.4,325.6 701.3,325.4 703.3,325.2 705.3,325.0 707.3,324.8 709.3,324.6 711.3,324.5 713.3,324.3 715.3,324.1 717.3,323.9 719.3,323.8 721.3,323.6 723.3,323.5 725.3,323.3 727.2,323.2 729.2,323.0 731.2,322.9 733.2,322.7 735.2,322.6 737.2,322.5 739.2,322.3 741.2,322.2 743.2,322.1 745.2,322.0 747.2,321.8 749.2,321.7 751.2,321.6 753.2,321.5 755.2,321.4 757.2,321.3 759.2,321.2 761.2,321.1 763.2,321.1 765.2,321.0 767.2,320.9 769.2,320.8 771.2,320.8 773.2,320.7 775.2,320.6 777.2,320.6 779.2,320.5 781.2,320.4 783.2,320.4 785.2,320.3 787.2,320.3 789.2,320.2 791.2,320.2 793.2,320.1 795.2,320.1 797.2,320.1 799.2,320.0 801.2,320.0 803.2,319.9 805.2,319.9 807.2,319.8 809.2,319.8 811.2,319.8 813.2,319.7 815.2,319.7 817.2,319.6 819.2,319.6 821.2,319.6 823.2,319.5 825.2,319.5 827.2,319.4 829.2,319.4 831.2,319.4 833.2,319.3 835.2,319.3 837.2,319.3 839.2,319.2 841.2,319.2 843.2,319.2 845.2,319.1 847.2,319.1 849.1,319.0 851.1,319.0 852.6,319.0" stroke="#8000ff" stroke-width="2.4" fill="none" stroke-linejoin="round" stroke-linecap="round"/>
<path d="M106.6,267.6 108.1,267.9 110.0,267.7 112.0,266.7 113.9,266.3 115.9,266.5 117.9,266.2 119.9,266.4 121.9,266.5 123.9,266.1 125.9,265.4 127.9,264.3 129.8,264.6 131.8,264.0 133.7,263.2 135.6,262.7 137.6,262.1 139.6,261.8 141.6,261.8 143.6,262.4 145.5,262.8 147.5,263.4 149.5,264.2 151.5,264.0 153.4,263.4 155.4,263.6 157.3,263.4 159.2,262.5 161.1,261.7 163.1,261.0 165.0,260.3 166.9,260.5 168.9,260.1 170.9,259.5 172.9,259.2 174.8,259.2 176.8,259.5 178.8,258.7 180.8,258.0 182.8,258.6 184.8,259.0 186.8,258.8 188.8,258.1 190.8,257.8 192.8,258.6 194.8,257.9 196.8,257.8 198.8,257.6 200.8,257.2 202.8,257.0 204.8,256.7 206.8,256.6 208.8,256.7 210.8,257.1 212.8,257.5 214.8,256.6 216.7,256.4 218.7,256.2 220.7,256.0 222.7,255.8 224.7,255.5 226.7,255.3 228.7,255.1 230.7,254.9 232.7,254.7 234.7,254.6 236.7,254.4 238.6,254.2 240.6,254.0 242.6,253.8 244.6,253.5 246.6,253.1 248.5,252.7 250.5,252.3 252.4,251.8 254.3,251.2 256.2,250.7 258.2,250.1 260.1,249.5 262.0,249.0 263.9,248.5 265.9,248.0 267.8,247.6 269.8,247.3 271.8,247.0 273.8,246.7 275.8,246.4 277.7,246.1 279.7,245.6 281.6,245.1 283.5,244.6 285.4,243.9 287.3,243.3 289.2,242.6 291.0,241.8 292.9,241.1 294.8,240.4 296.6,239.6 298.5,238.8 300.3,238.0 302.1,237.2 303.9,236.4 305.7,235.5 307.5,234.7 309.3,233.8 311.1,232.9 312.9,231.9 314.6,231.0 316.4,230.0 318.1,229.0 319.8,228.0 321.6,227.0 323.3,225.9 325.0,224.9 326.7,223.8 328.3,222.7 330.0,221.6 331.6,220.4 333.2,219.2 334.7,217.9 336.2,216.6 337.7,215.2 339.1,213.8 340.5,212.4 341.9,210.9 343.2,209.5 344.6,208.0 345.9,206.5 347.2,204.9 348.4,203.4 349.7,201.8 351.0,200.3 352.3,198.8 353.5,197.2 354.8,195.7 356.1,194.2 357.5,192.7 358.8,191.2 360.1,189.7 361.4,188.2 362.8,186.7 364.2,185.3 365.6,183.9 367.0,182.5 368.4,181.0 369.8,179.6 371.2,178.2 372.7,176.8 374.1,175.4 375.5,174.0 377.0,172.7 378.5,171.3 380.0,170.1 381.7,169.0 383.4,168.1 385.2,167.4 387.1,167.1 388.9,167.2 390.7,167.9 392.2,168.9 393.5,170.3 394.6,171.9 395.6,173.6 396.5,175.4 397.2,177.3 397.9,179.2 398.5,181.1 399.1,183.0 399.6,184.9 400.1,186.8 400.5,188.8 401.0,190.7 401.4,192.7 401.8,194.6 402.2,196.6 402.6,198.5 403.0,200.5 403.4,202.5 403.7,204.4 404.1,206.4 404.4,208.4 404.8,210.3 405.1,212.3 405.4,214.3 405.8,216.3 406.1,218.2 406.4,220.2 406.7,222.2 407.0,224.2 407.2,226.2 407.5,228.1 407.8,230.1 408.0,232.1 408.3,234.1 408.5,236.1 408.8,238.1 409.0,240.0 409.2,242.0 409.4,244.0 409.6,246.0 409.8,248.0 410.0,250.0 410.2,252.0 410.3,254.0 410.5,256.0 410.7,258.0 410.8,260.0 411.0,261.9 411.1,263.9 411.3,265.9 411.4,267.9 411.6,269.9 411.7,271.9 411.8,273.9 412.0,275.9 412.1,277.9 412.3,279.9 412.4,281.9 412.6,283.9 412.8,285.9 412.9,287.9 413.1,289.9 413.3,291.9 413.5,293.8 413.7,295.8 413.9,297.8 414.2,299.8 414.4,301.8 414.6,303.8 414.8,305.8 415.1,307.8 415.3,309.7 415.6,311.7 415.8,313.7 416.1,315.7 416.3,317.7 416.6,319.6 416.9,321.6 417.2,323.6 417.5,325.6 417.8,327.6 418.1,329.5 418.4,331.5 418.7,333.5 418.9,335.5 419.2,337.5 419.5,339.4 419.7,341.4 420.0,343.4 420.2,345.4 420.4,347.4 420.7,349.4 420.9,351.3 421.1,353.3 421.3,355.3 421.6,357.3 421.8,359.3 422.0,361.3 422.3,363.3 422.6,365.2 422.9,367.2 423.1,369.2 423.5,371.2 423.8,373.2 424.1,375.1 424.4,377.1 424.7,379.1 425.1,381.0 425.4,383.0 425.7,385.0 426.1,387.0 426.4,388.9 426.7,390.9 427.1,392.9 427.4,394.8 427.7,396.8 428.1,398.8 428.4,400.8 428.7,402.7 429.0,404.7 429.3,406.7 429.7,408.7 430.0,410.6 430.3,412.6 430.6,414.6 430.9,416.6 431.2,418.5 431.5,420.5 431.9,422.5 432.2,424.5 432.5,426.4 432.8,428.4 433.2,430.4 433.5,432.3 433.9,434.3 434.2,436.3 434.7,438.2 435.1,440.2 435.6,442.1 436.2,444.0 436.9,445.8 437.8,447.6 438.9,449.3 440.2,450.7 441.6,451.9 443.3,452.8 445.1,453.2 447.1,453.3 449.0,453.0 450.8,452.4 452.4,451.4 453.9,450.2 455.3,448.7 456.4,447.1 457.6,445.5 458.6,443.8 459.7,442.1 460.7,440.4 461.7,438.7 462.8,437.0 463.9,435.3 465.0,433.6 466.1,432.0 467.2,430.3 468.4,428.7 469.6,427.1 470.7,425.5 471.9,423.9 473.1,422.3 474.3,420.7 475.5,419.1 476.8,417.5 478.0,415.9 479.2,414.3 480.4,412.7 481.7,411.2 482.9,409.6 484.2,408.0 485.4,406.5 486.7,405.0 488.0,403.5 489.3,402.0 490.7,400.5 492.0,399.0 493.4,397.6 494.8,396.1 496.2,394.7 497.6,393.3 499.0,391.9 500.4,390.5 501.9,389.1 503.3,387.7 504.8,386.3 506.2,385.0 507.7,383.6 509.2,382.3 510.7,381.0 512.2,379.7 513.8,378.5 515.4,377.2 516.9,376.0 518.5,374.8 520.2,373.7 521.8,372.5 523.5,371.4 525.2,370.4 526.9,369.3 528.6,368.3 530.3,367.3 532.1,366.4 533.8,365.5 535.6,364.6 537.4,363.7 539.2,362.9 541.1,362.2 542.9,361.4 544.8,360.7 546.7,360.0 548.6,359.4 550.4,358.7 552.3,358.1 554.2,357.5 556.1,356.9 558.0,356.2 559.9,355.6 561.9,355.0 563.8,354.4 565.7,353.8 567.6,353.2 569.5,352.6 571.4,351.9 573.3,351.3 575.2,350.7 577.1,350.1 579.0,349.5 580.9,348.9 582.8,348.3 584.7,347.8 586.6,347.2 588.6,346.7 590.5,346.1 592.4,345.6 594.4,345.1 596.3,344.6 598.2,344.1 600.2,343.6 602.1,343.1 604.1,342.7 606.0,342.2 607.9,341.7 609.9,341.3 611.8,340.8 613.8,340.3 615.7,339.9 617.7,339.4 619.6,339.0 621.6,338.6 623.5,338.1 625.5,337.7 627.4,337.3 629.4,337.0 631.4,336.6 633.3,336.2 635.3,335.9 637.3,335.5 639.2,335.2 641.2,334.9 643.2,334.5 645.2,334.2 647.1,333.9 649.1,333.6 651.1,333.3 653.1,332.9 655.0,332.6 657.0,332.3 659.0,332.0 661.0,331.7 662.9,331.4 664.9,331.1 666.9,330.8 668.9,330.5 670.9,330.2 672.8,330.0 674.8,329.7 676.8,329.4 678.8,329.1 680.8,328.8 682.7,328.6 684.7,328.3 686.7,328.0 688.7,327.8 690.7,327.5 692.7,327.3 694.6,327.1 696.6,326.8 698.6,326.6 700.6,326.4 702.6,326.2 704.6,326.0 706.6,325.8 708.6,325.6 710.6,325.4 712.6,325.3 714.5,325.1 716.5,324.9 718.5,324.7 720.5,324.6 722.5,324.4 724.5,324.2 726.5,324.0 728.5,323.9 730.5,323.7 732.5,323.6 734.5,323.4 736.5,323.2 738.5,323.1 740.5,323.0 742.5,322.8 744.4,322.7 746.4,322.5 748.4,322.4 750.4,322.3 752.4,322.2 754.4,322.1 756.4,322.0 758.4,321.9 760.4,321.8 762.4,321.7 764.4,321.6 766.4,321.5 768.4,321.4 770.4,321.3 772.4,321.3 774.4,321.2 776.4,321.1 778.4,321.1 780.4,321.0 782.4,320.9 784.4,320.9 786.4,320.8 788.4,320.8 790.4,320.7 792.4,320.7 794.4,320.6 796.4,320.6 798.4,320.5 800.4,320.5 802.4,320.4 804.4,320.4 806.4,320.3 808.4,320.3 810.4,320.3 812.4,320.2 814.4,320.2 816.4,320.1 818.4,320.1 820.4,320.1 822.4,320.0 824.4,320.0 826.4,319.9 828.4,319.9 830.4,319.9 832.4,319.8 834.4,319.8 836.4,319.8 838.4,319.7 840.4,319.7 842.4,319.6 844.4,319.6 846.4,319.6 848.4,319.5 850.4,319.5 852.2,319.4 852.9,319.4" stroke="#ff8000" stroke-width="2.4" fill="none" stroke-linejoin="round" stroke-linecap="round"/>
<path d="M106.3,277.3 107.1,276.1 108.7,275.4 110.6,275.0 112.5,275.0 114.5,274.6 116.5,275.0 118.5,274.6 120.5,274.1 122.5,273.3 124.5,272.8 126.4,273.0 128.4,273.2 130.3,272.8 132.2,272.2 134.1,271.2 136.0,270.6 137.9,269.7 139.8,268.9 141.8,268.8 143.8,268.9 145.7,269.4 147.7,269.5 149.7,270.0 151.6,270.7 153.6,271.1 155.6,270.8 157.5,270.5 159.5,270.4 161.5,270.0 163.4,268.8 165.3,268.5 167.2,269.2 169.2,268.0 171.1,267.0 173.1,266.1 175.1,266.4 177.1,266.7 179.1,266.6 181.1,266.8 183.1,267.1 185.1,267.6 187.1,267.8 189.1,267.0 191.1,267.0 193.1,267.7 195.1,267.6 197.1,266.9 199.1,266.5 201.1,266.7 203.1,267.0 205.1,267.3 207.1,267.3 209.0,266.9 211.0,266.3 213.0,266.9 215.0,266.0 217.0,265.8 219.0,265.6 221.0,265.4 223.0,265.2 225.0,265.0 227.0,264.8 229.0,264.6 230.9,264.4 232.9,264.3 234.9,264.1 236.9,264.0 238.9,263.8 240.9,263.7 242.9,263.5 244.9,263.3 246.9,263.0 248.8,262.7 250.8,262.3 252.8,261.9 254.7,261.5 256.7,261.0 258.6,260.6 260.6,260.1 262.5,259.7 264.5,259.4 266.5,259.1 268.5,258.8 270.4,258.6 272.4,258.4 274.4,258.3 276.4,258.1 278.4,257.9 280.4,257.6 282.4,257.3 284.3,257.0 286.3,256.6 288.3,256.2 290.2,255.8 292.2,255.3 294.1,254.8 296.0,254.2 297.9,253.6 299.8,253.0 301.7,252.3 303.6,251.6 305.5,250.9 307.3,250.2 309.2,249.5 311.1,248.8 312.9,248.1 314.8,247.3 316.6,246.6 318.5,245.8 320.3,245.1 322.2,244.3 324.1,243.6 325.9,242.9 327.8,242.2 329.6,241.4 331.4,240.4 333.1,239.4 334.7,238.2 336.3,237.1 337.9,235.9 339.5,234.7 341.1,233.5 342.7,232.3 344.4,231.1 346.0,230.0 347.6,228.8 349.2,227.6 350.9,226.5 352.5,225.3 354.1,224.1 355.7,223.0 357.4,221.8 359.0,220.6 360.6,219.5 362.2,218.3 363.8,217.1 365.3,215.7 366.8,214.4 368.2,213.0 369.6,211.6 371.1,210.2 372.5,208.8 373.9,207.4 375.3,206.0 376.7,204.5 378.1,203.1 379.5,201.7 380.9,200.2 382.3,198.8 383.6,197.3 385.0,195.8 386.2,194.3 387.6,192.8 388.9,191.3 390.3,189.8 391.6,188.3 392.9,186.9 394.3,185.4 395.7,184.0 397.2,182.7 398.8,181.4 400.4,180.3 402.1,179.3 403.9,178.6 405.8,178.1 407.7,178.0 409.7,178.2 411.5,178.8 413.1,179.7 414.5,181.0 415.7,182.5 416.7,184.2 417.5,186.0 418.3,187.8 419.0,189.7 419.7,191.6 420.4,193.4 421.0,195.3 421.6,197.2 422.2,199.2 422.8,201.1 423.3,203.0 423.8,204.9 424.2,206.9 424.7,208.8 425.1,210.8 425.5,212.7 425.9,214.7 426.2,216.7 426.6,218.6 426.9,220.6 427.2,222.6 427.5,224.6 427.8,226.5 428.1,228.5 428.4,230.5 428.7,232.5 428.9,234.5 429.2,236.4 429.5,238.4 429.8,240.4 430.0,242.4 430.3,244.4 430.6,246.3 430.9,248.3 431.1,250.3 431.4,252.3 431.7,254.3 431.9,256.2 432.2,258.2 432.5,260.2 432.7,262.2 433.0,264.2 433.2,266.2 433.5,268.1 433.7,270.1 434.0,272.1 434.2,274.1 434.5,276.1 434.7,278.1 435.0,280.1 435.2,282.0 435.5,284.0 435.7,286.0 436.0,288.0 436.2,290.0 436.5,292.0 436.7,293.9 437.0,295.9 437.3,297.9 437.5,299.9 437.8,301.9 438.0,303.9 438.3,305.8 438.6,307.8 438.8,309.8 439.1,311.8 439.4,313.8 439.6,315.8 439.9,317.7 440.1,319.7 440.4,321.7 440.6,323.7 440.9,325.7 441.1,327.7 441.4,329.6 441.6,331.6 441.8,333.6 442.1,335.6 442.3,337.6 442.5,339.6 442.8,341.6 443.0,343.5 443.2,345.5 443.4,347.5 443.7,349.5 443.9,351.5 444.1,353.5 444.4,355.5 444.6,357.5 444.8,359.4 445.1,361.4 445.3,363.4 445.6,365.4 445.8,367.4 446.1,369.4 446.3,371.3 446.6,373.3 446.9,375.3 447.1,377.3 447.4,379.3 447.7,381.2 448.0,383.2 448.3,385.2 448.6,387.2 448.9,389.2 449.3,391.1 449.6,393.1 449.9,395.1 450.3,397.0 450.7,399.0 451.0,401.0 451.4,402.9 451.8,404.9 452.2,406.9 452.6,408.8 453.0,410.8 453.4,412.7 453.8,414.7 454.2,416.6 454.6,418.6 455.1,420.6 455.5,422.5 456.0,424.4 456.4,426.4 456.9,428.3 457.4,430.3 458.0,432.2 458.6,434.0 459.4,435.9 460.3,437.7 461.4,439.3 462.6,440.8 464.1,441.9 465.8,442.8 467.6,443.1 469.5,443.1 471.3,442.6 473.0,441.7 474.7,440.6 476.2,439.3 477.6,438.0 479.1,436.5 480.4,435.1 481.7,433.6 483.0,432.1 484.3,430.5 485.6,429.0 486.8,427.4 488.0,425.8 489.2,424.2 490.4,422.6 491.6,421.0 492.8,419.4 493.9,417.7 495.1,416.1 496.2,414.5 497.4,412.9 498.5,411.2 499.7,409.6 500.9,408.0 502.0,406.3 503.2,404.7 504.4,403.1 505.6,401.6 506.9,400.0 508.1,398.4 509.4,396.9 510.7,395.4 512.0,393.9 513.3,392.4 514.7,390.9 516.1,389.5 517.4,388.0 518.8,386.6 520.2,385.1 521.6,383.7 523.0,382.3 524.5,381.0 526.0,379.6 527.4,378.3 529.0,377.0 530.5,375.7 532.1,374.5 533.7,373.3 535.3,372.2 536.9,371.1 538.6,370.0 540.3,369.0 542.0,368.0 543.8,367.0 545.6,366.1 547.3,365.2 549.1,364.3 550.9,363.5 552.7,362.6 554.5,361.8 556.3,360.9 558.2,360.1 560.0,359.3 561.8,358.5 563.7,357.8 565.5,357.0 567.4,356.3 569.3,355.6 571.1,354.9 573.0,354.3 574.9,353.6 576.8,353.0 578.7,352.4 580.6,351.8 582.5,351.2 584.4,350.6 586.4,350.0 588.3,349.4 590.2,348.9 592.1,348.3 594.0,347.8 596.0,347.2 597.9,346.7 599.8,346.2 601.7,345.6 603.7,345.1 605.6,344.6 607.5,344.1 609.5,343.5 611.4,343.0 613.3,342.5 615.3,342.0 617.2,341.5 619.1,341.0 621.1,340.6 623.0,340.1 625.0,339.7 626.9,339.2 628.9,338.8 630.8,338.4 632.8,338.0 634.8,337.6 636.7,337.2 638.7,336.9 640.7,336.5 642.6,336.2 644.6,335.8 646.6,335.5 648.5,335.1 650.5,334.8 652.5,334.4 654.4,334.1 656.4,333.8 658.4,333.5 660.4,333.1 662.3,332.8 664.3,332.5 666.3,332.2 668.3,331.8 670.2,331.5 672.2,331.2 674.2,330.9 676.2,330.6 678.1,330.3 680.1,330.0 682.1,329.7 684.1,329.5 686.1,329.2 688.0,328.9 690.0,328.7 692.0,328.4 694.0,328.2 696.0,327.9 698.0,327.7 700.0,327.5 701.9,327.3 703.9,327.1 705.9,326.8 707.9,326.6 709.9,326.5 711.9,326.3 713.9,326.1 715.9,325.9 717.9,325.7 719.9,325.5 721.8,325.3 723.8,325.1 725.8,324.9 727.8,324.7 729.8,324.6 731.8,324.4 733.8,324.2 735.8,324.0 737.8,323.9 739.8,323.7 741.8,323.6 743.8,323.4 745.8,323.3 747.8,323.1 749.7,323.0 751.7,322.8 753.7,322.7 755.7,322.6 757.7,322.5 759.7,322.4 761.7,322.3 763.7,322.2 765.7,322.1 767.7,322.0 769.7,321.9 771.7,321.8 773.7,321.8 775.7,321.7 777.7,321.6 779.7,321.5 781.7,321.5 783.7,321.4 785.7,321.4 787.7,321.3 789.7,321.3 791.7,321.2 793.7,321.1 795.7,321.1 797.7,321.0 799.7,321.0 801.7,321.0 803.7,320.9 805.7,320.9 807.7,320.8 809.7,320.8 811.7,320.7 813.7,320.7 815.7,320.6 817.7,320.6 819.7,320.6 821.7,320.5 823.7,320.5 825.7,320.4 827.7,320.4 829.7,320.4 831.7,320.3 833.7,320.3 835.7,320.2 837.7,320.2 839.7,320.2 841.7,320.1 843.7,320.1 845.7,320.1 847.7,320.0 849.7,320.0 851.6,319.9 853.2,319.9" stroke="#404040" stroke-width="2.4" fill="none" stroke-linejoin="round" stroke-linecap="round"/>
<path d="M106.2,281.1 106.6,279.6 107.3,277.9 108.7,277.4 110.5,276.6 112.3,277.3 114.3,277.9 116.2,278.7 118.2,278.2 120.2,278.0 122.2,278.7 124.2,278.4 126.2,277.2 128.1,276.1 130.1,276.1 132.1,276.8 134.1,276.7 136.1,276.1 138.1,276.7 140.1,276.4 142.1,275.9 144.1,275.9 146.1,276.0 148.1,276.1 150.0,276.7 152.0,276.8 154.0,277.1 156.0,277.6 158.0,277.2 159.9,276.2 161.9,275.9 163.8,275.3 165.7,275.1 167.6,274.5 169.5,273.7 171.5,274.2 173.5,274.4 175.5,273.7 177.5,273.0 179.5,273.4 181.5,274.0 183.4,274.3 185.4,274.4 187.4,274.1 189.4,274.3 191.4,275.3 193.4,276.0 195.4,275.1 197.4,274.5 199.4,274.7 201.4,274.8 203.4,273.7 205.4,272.4 207.4,272.6 209.3,272.6 211.3,272.2 213.3,271.9 215.3,272.6 217.3,272.5 219.3,272.3 221.3,272.2 223.3,272.0 225.3,271.8 227.3,271.7 229.3,271.6 231.3,271.4 233.3,271.3 235.3,271.3 237.3,271.1 239.3,271.0 241.2,270.7 243.2,270.5 245.2,270.2 247.2,269.9 249.2,269.6 251.1,269.3 253.1,269.0 255.1,268.7 257.1,268.4 259.1,268.1 261.0,267.9 263.0,267.7 265.0,267.5 267.0,267.4 269.0,267.2 271.0,267.0 273.0,266.9 275.0,266.7 277.0,266.5 279.0,266.3 281.0,266.0 282.9,265.7 284.9,265.3 286.8,264.9 288.8,264.5 290.8,264.1 292.7,263.6 294.7,263.2 296.6,262.8 298.6,262.5 300.6,262.1 302.5,261.7 304.5,261.3 306.4,260.9 308.4,260.5 310.3,260.1 312.3,259.6 314.2,259.2 316.2,258.7 318.1,258.2 320.1,257.7 322.0,257.1 323.9,256.5 325.7,255.8 327.6,255.0 329.4,254.2 331.2,253.4 333.1,252.6 334.9,251.8 336.7,251.0 338.6,250.1 340.4,249.3 342.2,248.5 344.1,247.8 345.9,247.1 347.8,246.4 349.7,245.6 351.5,244.8 353.3,243.9 355.1,243.0 356.9,242.2 358.7,241.3 360.4,240.3 362.2,239.4 364.0,238.5 365.7,237.5 367.5,236.6 369.2,235.6 371.0,234.7 372.8,233.7 374.5,232.7 376.2,231.7 377.9,230.6 379.5,229.5 381.2,228.3 382.8,227.1 384.3,225.9 385.9,224.6 387.5,223.4 389.0,222.1 390.5,220.8 392.0,219.5 393.5,218.1 395.0,216.8 396.4,215.4 397.8,213.9 399.2,212.5 400.5,211.0 401.7,209.4 402.9,207.8 404.1,206.2 405.1,204.4 406.2,202.8 407.4,201.2 408.5,199.6 409.7,197.9 410.8,196.3 412.0,194.7 413.2,193.1 414.4,191.6 415.8,190.1 417.2,188.8 418.8,187.6 420.5,186.6 422.3,185.8 424.1,185.1 426.0,184.4 427.9,183.8 429.7,183.5 431.6,183.5 433.5,184.0 435.2,184.8 436.9,185.8 438.4,187.0 439.8,188.5 440.9,190.1 441.8,191.8 442.6,193.6 443.3,195.5 443.9,197.4 444.4,199.3 444.9,201.2 445.4,203.2 445.9,205.1 446.3,207.1 446.7,209.0 447.1,211.0 447.5,213.0 447.8,214.9 448.2,216.9 448.6,218.8 448.9,220.8 449.3,222.8 449.6,224.8 449.9,226.7 450.3,228.7 450.6,230.7 450.9,232.6 451.2,234.6 451.5,236.6 451.9,238.6 452.2,240.5 452.5,242.5 452.8,244.5 453.1,246.5 453.4,248.5 453.7,250.4 454.0,252.4 454.3,254.4 454.6,256.4 454.8,258.3 455.1,260.3 455.4,262.3 455.7,264.3 455.9,266.3 456.2,268.3 456.5,270.2 456.7,272.2 457.0,274.2 457.2,276.2 457.5,278.2 457.7,280.2 458.0,282.1 458.2,284.1 458.5,286.1 458.7,288.1 459.0,290.1 459.2,292.1 459.5,294.0 459.7,296.0 460.0,298.0 460.3,300.0 460.5,302.0 460.8,304.0 461.1,305.9 461.4,307.9 461.6,309.9 461.9,311.9 462.1,313.9 462.4,315.8 462.6,317.8 462.8,319.8 463.1,321.8 463.3,323.8 463.5,325.8 463.6,327.8 463.8,329.8 464.0,331.8 464.2,333.8 464.3,335.7 464.5,337.7 464.7,339.7 464.9,341.7 465.1,343.7 465.3,345.7 465.5,347.7 465.7,349.7 465.9,351.7 466.2,353.6 466.4,355.6 466.7,357.6 466.9,359.6 467.1,361.6 467.4,363.6 467.7,365.6 467.9,367.5 468.2,369.5 468.5,371.5 468.8,373.5 469.1,375.5 469.4,377.4 469.7,379.4 470.0,381.4 470.3,383.3 470.7,385.3 471.0,387.3 471.4,389.3 471.8,391.2 472.1,393.2 472.5,395.1 472.9,397.1 473.3,399.1 473.7,401.0 474.2,403.0 474.6,404.9 475.0,406.9 475.5,408.8 475.9,410.8 476.4,412.7 476.9,414.6 477.4,416.6 478.0,418.5 478.6,420.4 479.2,422.3 479.9,424.1 480.7,426.0 481.6,427.8 482.6,429.5 483.8,431.1 485.1,432.5 486.5,433.8 488.2,434.8 489.9,435.3 491.8,435.4 493.6,435.0 495.3,434.1 496.9,433.0 498.4,431.7 499.8,430.3 501.1,428.8 502.3,427.2 503.5,425.6 504.7,424.0 505.9,422.4 507.0,420.8 508.2,419.1 509.3,417.5 510.5,415.9 511.7,414.3 512.9,412.7 514.2,411.1 515.4,409.6 516.7,408.1 518.0,406.5 519.3,405.0 520.6,403.5 521.9,402.0 523.2,400.5 524.6,399.0 526.0,397.6 527.3,396.1 528.7,394.7 530.1,393.2 531.5,391.8 532.9,390.3 534.3,388.9 535.7,387.5 537.1,386.1 538.5,384.7 539.9,383.3 541.3,381.9 542.8,380.5 544.2,379.1 545.7,377.7 547.2,376.4 548.7,375.1 550.2,373.8 551.7,372.5 553.3,371.3 554.9,370.1 556.5,369.0 558.1,367.9 559.8,366.8 561.5,365.8 563.3,364.8 565.0,363.9 566.8,363.0 568.6,362.2 570.4,361.4 572.3,360.6 574.1,359.8 575.9,359.0 577.8,358.3 579.7,357.6 581.5,356.8 583.4,356.1 585.2,355.4 587.1,354.7 589.0,354.0 590.9,353.3 592.7,352.6 594.6,351.9 596.5,351.3 598.4,350.6 600.3,350.0 602.2,349.3 604.1,348.7 606.0,348.1 607.9,347.5 609.8,346.9 611.7,346.3 613.6,345.7 615.6,345.2 617.5,344.6 619.4,344.1 621.3,343.6 623.3,343.1 625.2,342.6 627.1,342.1 629.1,341.6 631.0,341.1 633.0,340.6 634.9,340.1 636.8,339.7 638.8,339.2 640.7,338.8 642.7,338.3 644.6,337.9 646.6,337.5 648.6,337.1 650.5,336.7 652.5,336.3 654.4,335.9 656.4,335.5 658.4,335.2 660.3,334.8 662.3,334.5 664.3,334.1 666.3,333.8 668.2,333.5 670.2,333.1 672.2,332.8 674.1,332.5 676.1,332.2 678.1,331.9 680.1,331.6 682.1,331.3 684.0,331.1 686.0,330.8 688.0,330.5 690.0,330.2 692.0,330.0 694.0,329.7 695.9,329.5 697.9,329.2 699.9,329.0 701.9,328.8 703.9,328.5 705.9,328.3 707.9,328.1 709.8,327.9 711.8,327.6 713.8,327.4 715.8,327.2 717.8,327.0 719.8,326.8 721.8,326.6 723.8,326.4 725.7,326.1 727.7,325.9 729.7,325.7 731.7,325.5 733.7,325.3 735.7,325.1 737.7,324.9 739.7,324.8 741.7,324.6 743.7,324.4 745.7,324.2 747.6,324.1 749.6,323.9 751.6,323.8 753.6,323.6 755.6,323.5 757.6,323.4 759.6,323.2 761.6,323.1 763.6,323.0 765.6,322.9 767.6,322.8 769.6,322.7 771.6,322.6 773.6,322.5 775.6,322.5 777.6,322.4 779.6,322.3 781.6,322.2 783.6,322.2 785.6,322.1 787.6,322.1 789.6,322.0 791.6,321.9 793.6,321.9 795.6,321.8 797.6,321.8 799.6,321.7 801.6,321.7 803.6,321.6 805.6,321.6 807.6,321.5 809.6,321.5 811.6,321.4 813.6,321.4 815.6,321.4 817.6,321.3 819.6,321.3 821.6,321.2 823.6,321.2 825.6,321.1 827.6,321.1 829.6,321.1 831.6,321.0 833.6,321.0 835.6,321.0 837.6,320.9 839.6,320.9 841.6,320.8 843.6,320.8 845.6,320.8 847.6,320.7 849.6,320.7 851.5,320.6 853.1,320.6" stroke="#008080" stroke-width="2.4" fill="none" stroke-linejoin="round" stroke-linecap="round"/>
<path d="M106.3,292.5 106.7,291.1 107.6,289.4 109.0,287.9 110.7,287.3 112.6,286.6 114.5,285.2 116.4,285.1 118.4,285.5 120.4,285.7 122.4,284.7 124.3,284.4 126.3,283.9 128.3,284.1 130.2,284.3 132.2,283.3 134.1,281.5 136.0,280.7 138.0,280.2 139.9,280.0 141.9,279.8 143.8,280.5 145.8,280.4 147.8,280.7 149.8,280.3 151.8,280.2 153.8,280.4 155.8,280.7 157.8,280.9 159.8,280.6 161.7,279.9 163.7,279.5 165.7,279.7 167.7,279.8 169.7,279.3 171.6,278.7 173.6,278.9 175.6,278.4 177.6,278.0 179.6,278.3 181.6,278.3 183.6,279.1 185.6,278.9 187.6,278.4 189.6,278.4 191.6,278.6 193.6,278.3 195.6,278.4 197.6,278.9 199.6,278.2 201.6,277.4 203.6,277.0 205.6,277.6 207.6,277.8 209.6,277.5 211.6,277.2 213.6,277.4 215.6,277.0 217.6,277.0 219.6,276.9 221.6,276.9 223.6,276.9 225.6,276.9 227.6,276.8 229.6,276.8 231.6,276.8 233.6,276.8 235.6,276.8 237.6,276.7 239.6,276.6 241.6,276.5 243.5,276.3 245.5,276.1 247.5,275.9 249.5,275.6 251.5,275.4 253.5,275.2 255.5,275.0 257.5,274.8 259.5,274.6 261.4,274.4 263.4,274.2 265.4,274.0 267.4,273.8 269.4,273.7 271.4,273.5 273.4,273.3 275.4,273.1 277.4,272.9 279.4,272.7 281.3,272.4 283.3,272.0 285.3,271.6 287.2,271.2 289.2,270.8 291.1,270.4 293.1,270.0 295.1,269.7 297.1,269.5 299.1,269.3 301.0,269.1 303.0,268.9 305.0,268.7 307.0,268.5 309.0,268.2 310.9,267.8 312.9,267.3 314.8,266.9 316.8,266.4 318.7,265.9 320.6,265.3 322.6,264.8 324.5,264.3 326.4,263.9 328.4,263.4 330.3,262.9 332.3,262.4 334.2,261.9 336.1,261.4 338.1,260.9 340.0,260.5 342.0,260.0 343.9,259.6 345.9,259.1 347.8,258.5 349.7,257.9 351.6,257.3 353.5,256.6 355.4,255.9 357.2,255.2 359.1,254.5 360.9,253.6 362.6,252.7 364.4,251.7 366.2,250.8 368.0,249.9 369.8,249.1 371.6,248.3 373.5,247.5 375.3,246.7 377.1,245.9 378.9,245.1 380.7,244.2 382.5,243.4 384.4,242.5 386.2,241.7 388.0,240.8 389.8,240.0 391.6,239.1 393.4,238.2 395.1,237.2 396.9,236.2 398.6,235.2 400.2,234.1 401.9,233.0 403.5,231.8 405.1,230.6 406.7,229.4 408.3,228.2 409.9,227.0 411.4,225.7 413.0,224.4 414.5,223.1 416.0,221.8 417.5,220.4 418.9,219.1 420.4,217.7 421.8,216.3 423.1,214.8 424.5,213.3 425.6,211.7 426.9,210.2 428.3,208.7 429.6,207.2 430.9,205.6 432.2,204.1 433.5,202.6 434.8,201.1 436.2,199.7 437.6,198.3 439.1,196.9 440.6,195.7 442.3,194.6 444.0,193.6 445.8,192.8 447.7,192.2 449.6,191.8 451.5,191.8 453.4,192.1 455.3,192.7 457.0,193.6 458.6,194.7 460.0,196.0 461.3,197.5 462.4,199.2 463.3,200.9 464.2,202.7 464.9,204.6 465.6,206.5 466.2,208.3 466.7,210.3 467.3,212.2 467.7,214.1 468.2,216.1 468.6,218.0 469.0,220.0 469.4,221.9 469.8,223.9 470.2,225.8 470.6,227.8 470.9,229.8 471.3,231.7 471.6,233.7 471.9,235.7 472.2,237.7 472.6,239.6 472.8,241.6 473.1,243.6 473.4,245.6 473.7,247.6 474.0,249.5 474.2,251.5 474.5,253.5 474.8,255.5 475.0,257.5 475.3,259.5 475.5,261.4 475.8,263.4 476.0,265.4 476.3,267.4 476.5,269.4 476.8,271.4 477.0,273.3 477.3,275.3 477.5,277.3 477.8,279.3 478.0,281.3 478.3,283.3 478.5,285.3 478.8,287.2 479.0,289.2 479.3,291.2 479.6,293.2 479.8,295.2 480.1,297.2 480.4,299.1 480.6,301.1 480.9,303.1 481.2,305.1 481.4,307.1 481.7,309.0 482.0,311.0 482.2,313.0 482.5,315.0 482.7,317.0 482.9,319.0 483.2,320.9 483.4,322.9 483.6,324.9 483.8,326.9 483.9,328.9 484.1,330.9 484.3,332.9 484.5,334.9 484.6,336.9 484.8,338.9 485.0,340.9 485.2,342.8 485.4,344.8 485.6,346.8 485.8,348.8 486.0,350.8 486.2,352.8 486.5,354.8 486.7,356.8 486.9,358.7 487.2,360.7 487.4,362.7 487.7,364.7 487.9,366.7 488.2,368.7 488.4,370.7 488.7,372.6 489.0,374.6 489.3,376.6 489.6,378.6 489.9,380.5 490.3,382.5 490.6,384.5 491.0,386.4 491.5,388.4 491.9,390.3 492.4,392.2 492.9,394.2 493.4,396.1 494.0,398.0 494.5,400.0 495.1,401.9 495.6,403.8 496.2,405.7 496.8,407.6 497.5,409.5 498.1,411.4 498.8,413.3 499.5,415.1 500.3,416.9 501.2,418.8 502.1,420.5 503.1,422.2 504.3,423.8 505.6,425.2 507.2,426.2 508.9,426.9 510.8,427.1 512.7,426.8 514.5,426.1 516.2,425.2 517.7,424.0 519.2,422.7 520.5,421.2 521.9,419.7 523.2,418.2 524.4,416.6 525.7,415.1 527.0,413.6 528.3,412.0 529.5,410.5 530.8,408.9 532.1,407.4 533.4,405.9 534.7,404.3 536.0,402.8 537.3,401.3 538.6,399.8 539.9,398.3 541.2,396.8 542.5,395.3 543.8,393.8 545.1,392.2 546.4,390.7 547.7,389.2 549.0,387.7 550.4,386.2 551.7,384.7 553.0,383.2 554.3,381.7 555.7,380.3 557.1,378.8 558.5,377.4 559.9,376.1 561.4,374.7 562.9,373.4 564.4,372.1 566.0,370.9 567.6,369.7 569.2,368.6 570.9,367.5 572.5,366.4 574.2,365.4 576.0,364.4 577.7,363.5 579.5,362.6 581.3,361.7 583.1,360.8 584.9,359.9 586.7,359.1 588.5,358.3 590.3,357.5 592.2,356.7 594.0,355.9 595.9,355.1 597.7,354.3 599.5,353.6 601.4,352.8 603.3,352.1 605.1,351.4 607.0,350.7 608.9,350.0 610.7,349.3 612.6,348.6 614.5,347.9 616.4,347.2 618.3,346.6 620.2,346.0 622.1,345.3 624.0,344.7 625.9,344.1 627.8,343.5 629.7,342.9 631.6,342.4 633.5,341.8 635.5,341.3 637.4,340.7 639.3,340.2 641.3,339.7 643.2,339.3 645.1,338.8 647.1,338.4 649.0,337.9 651.0,337.5 653.0,337.1 654.9,336.7 656.9,336.3 658.8,336.0 660.8,335.6 662.8,335.2 664.7,334.8 666.7,334.4 668.7,334.1 670.6,333.7 672.6,333.3 674.6,333.0 676.5,332.6 678.5,332.3 680.5,332.0 682.4,331.6 684.4,331.3 686.4,331.1 688.4,330.8 690.4,330.5 692.3,330.2 694.3,330.0 696.3,329.7 698.3,329.5 700.3,329.2 702.3,329.0 704.3,328.8 706.2,328.5 708.2,328.3 710.2,328.1 712.2,327.9 714.2,327.6 716.2,327.4 718.2,327.2 720.2,327.0 722.1,326.8 724.1,326.5 726.1,326.3 728.1,326.1 730.1,325.9 732.1,325.7 734.1,325.5 736.1,325.3 738.1,325.1 740.0,324.9 742.0,324.7 744.0,324.6 746.0,324.4 748.0,324.2 750.0,324.1 752.0,323.9 754.0,323.8 756.0,323.6 758.0,323.5 760.0,323.4 762.0,323.3 764.0,323.2 766.0,323.0 768.0,322.9 770.0,322.9 772.0,322.8 774.0,322.7 776.0,322.6 778.0,322.5 780.0,322.4 782.0,322.4 784.0,322.3 786.0,322.3 788.0,322.2 790.0,322.1 792.0,322.1 794.0,322.0 796.0,322.0 798.0,321.9 799.9,321.9 801.9,321.8 803.9,321.8 805.9,321.7 807.9,321.7 809.9,321.6 811.9,321.6 813.9,321.5 815.9,321.5 817.9,321.4 819.9,321.4 821.9,321.4 823.9,321.3 825.9,321.3 827.9,321.2 829.9,321.2 831.9,321.2 833.9,321.1 835.9,321.1 837.9,321.0 839.9,321.0 841.9,321.0 843.9,320.9 845.9,320.9 847.9,320.8 849.9,320.8 851.7,320.7 852.4,320.7" stroke="#ff00ff" stroke-width="2.4" fill="none" stroke-linejoin="round" stroke-linecap="round"/>
<rect x="97.4" y="0.6" width="756.9" height="563.8" fill="none" stroke="#000" stroke-width="2.3"/>
<line x1="97.4" y1="45.5" x2="104.9" y2="45.5" stroke="#000" stroke-width="2.2"/>
<text x="88.3" y="53.5" text-anchor="end" font-size="26" >300</text>
<line x1="97.4" y1="135.0" x2="104.9" y2="135.0" stroke="#000" stroke-width="2.2"/>
<text x="88.3" y="143.0" text-anchor="end" font-size="26" >200</text>
<line x1="97.4" y1="224.5" x2="104.9" y2="224.5" stroke="#000" stroke-width="2.2"/>
<text x="88.3" y="232.5" text-anchor="end" font-size="26" >100</text>
<line x1="97.4" y1="314.0" x2="104.9" y2="314.0" stroke="#000" stroke-width="2.2"/>
<text x="88.3" y="322.0" text-anchor="end" font-size="26" >0</text>
<line x1="97.4" y1="403.5" x2="104.9" y2="403.5" stroke="#000" stroke-width="2.2"/>
<text x="88.3" y="411.5" text-anchor="end" font-size="26" >-100</text>
<line x1="97.4" y1="493.0" x2="104.9" y2="493.0" stroke="#000" stroke-width="2.2"/>
<text x="88.3" y="501.0" text-anchor="end" font-size="26" >-200</text>
<line x1="97.4" y1="90.2" x2="101.4" y2="90.2" stroke="#000" stroke-width="2.2"/>
<line x1="97.4" y1="179.8" x2="101.4" y2="179.8" stroke="#000" stroke-width="2.2"/>
<line x1="97.4" y1="269.2" x2="101.4" y2="269.2" stroke="#000" stroke-width="2.2"/>
<line x1="97.4" y1="358.8" x2="101.4" y2="358.8" stroke="#000" stroke-width="2.2"/>
<line x1="97.4" y1="448.2" x2="101.4" y2="448.2" stroke="#000" stroke-width="2.2"/>
<line x1="97.4" y1="537.8" x2="101.4" y2="537.8" stroke="#000" stroke-width="2.2"/>
<line x1="97.4" y1="564.4" x2="97.4" y2="556.9" stroke="#000" stroke-width="2.2"/>
<text x="97.4" y="594.0" text-anchor="middle" font-size="26" >0</text>
<line x1="265.7" y1="564.4" x2="265.7" y2="556.9" stroke="#000" stroke-width="2.2"/>
<text x="265.7" y="594.0" text-anchor="middle" font-size="26" >2</text>
<line x1="434.0" y1="564.4" x2="434.0" y2="556.9" stroke="#000" stroke-width="2.2"/>
<text x="434.0" y="594.0" text-anchor="middle" font-size="26" >4</text>
<line x1="602.3" y1="564.4" x2="602.3" y2="556.9" stroke="#000" stroke-width="2.2"/>
<text x="602.3" y="594.0" text-anchor="middle" font-size="26" >6</text>
<line x1="770.6" y1="564.4" x2="770.6" y2="556.9" stroke="#000" stroke-width="2.2"/>
<text x="770.6" y="594.0" text-anchor="middle" font-size="26" >8</text>
<line x1="181.6" y1="564.4" x2="181.6" y2="560.4" stroke="#000" stroke-width="2.2"/>
<line x1="349.9" y1="564.4" x2="349.9" y2="560.4" stroke="#000" stroke-width="2.2"/>
<line x1="518.1" y1="564.4" x2="518.1" y2="560.4" stroke="#000" stroke-width="2.2"/>
<line x1="686.5" y1="564.4" x2="686.5" y2="560.4" stroke="#000" stroke-width="2.2"/>
<text x="109.0" y="41.8" text-anchor="start" font-size="34.5" >(a)</text>
<text x="396" y="627" font-size="27.3"><tspan font-family="'Liberation Serif', serif" font-size="28.5" style="stroke-width:0.9px">ω</tspan>/2<tspan font-family="'Liberation Serif', serif" font-style="italic" font-size="28" style="stroke-width:0.7px">π</tspan> (GHz)</text>
<text transform="translate(20.3,303.3) rotate(-90)" font-size="25.2">χ<tspan font-size="28" dx="-1.2" dy="1">′</tspan><tspan dy="-1">+1</tspan></text>
<line x1="128.8" y1="80.2" x2="128.8" y2="310.0" stroke="#000" stroke-width="2"/>
<polygon points="128.8,316.0 125.2,307.0 128.8,310.0 132.4,307.0" fill="#000" stroke="#000" stroke-width="1.6" stroke-linejoin="round"/>
<path d="M236.6,40.5 240.5,43.3 244.4,46.2 248.3,49.0 252.2,51.8 256.1,54.6 260.0,57.4 263.9,60.2 267.8,63.0 271.7,65.7 275.6,68.5 279.5,71.2 283.4,73.9 287.3,76.6 291.2,79.3 295.0,82.0 298.9,84.7 302.8,87.3 306.7,89.9 310.6,92.5 314.5,95.1 318.4,97.7 322.3,100.2 326.2,102.7 330.1,105.2 334.0,107.7 337.9,110.1 341.8,112.6 345.7,115.0 349.6,117.3 353.5,119.7 357.4,122.0 361.3,124.3 365.2,126.6 369.1,128.8 373.0,131.0 376.9,133.2 380.8,135.4 384.7,137.5 388.6,139.6 392.5,141.6 396.4,143.7 400.3,145.6 404.2,147.6 408.1,149.5 411.9,151.4 415.8,153.3 419.7,155.1 423.6,156.8 427.5,158.6 431.4,160.3 435.3,161.9 439.2,163.6 443.1,165.1 447.0,166.7 450.9,168.2 454.8,169.6 458.7,171.0 462.6,172.4 466.5,173.7" stroke="#000" stroke-width="2.3" fill="none"/>
<polygon points="472.0,175.1 461.7,176.0 465.9,173.0 464.4,168.1" fill="#000" stroke="#000" stroke-width="1.6" stroke-linejoin="round"/>
<line x1="679.7" y1="15.7" x2="743.5" y2="15.7" stroke="#000000" stroke-width="2.2"/>
<text x="752.4" y="26.7" text-anchor="start" font-size="25.8" >46 Oe</text>
<line x1="679.7" y1="50.3" x2="743.5" y2="50.3" stroke="#ff0000" stroke-width="2.2"/>
<text x="752.4" y="61.3" text-anchor="start" font-size="25.8" >69 Oe</text>
<line x1="679.7" y1="84.9" x2="743.5" y2="84.9" stroke="#0000ff" stroke-width="2.2"/>
<text x="752.4" y="95.9" text-anchor="start" font-size="25.8" >92 Oe</text>
<line x1="679.7" y1="119.5" x2="743.5" y2="119.5" stroke="#008000" stroke-width="2.2"/>
<text x="752.4" y="130.5" text-anchor="start" font-size="25.8" >115 Oe</text>
<line x1="679.7" y1="154.1" x2="743.5" y2="154.1" stroke="#8000ff" stroke-width="2.2"/>
<text x="752.4" y="165.1" text-anchor="start" font-size="25.8" >138 Oe</text>
<line x1="679.7" y1="188.7" x2="743.5" y2="188.7" stroke="#ff8000" stroke-width="2.2"/>
<text x="752.4" y="199.7" text-anchor="start" font-size="25.8" >160 Oe</text>
<line x1="679.7" y1="223.3" x2="743.5" y2="223.3" stroke="#404040" stroke-width="2.2"/>
<text x="752.4" y="234.3" text-anchor="start" font-size="25.8" >183 Oe</text>
<line x1="679.7" y1="257.9" x2="743.5" y2="257.9" stroke="#008080" stroke-width="2.2"/>
<text x="752.4" y="268.9" text-anchor="start" font-size="25.8" >205 Oe</text>
<line x1="679.7" y1="292.5" x2="743.5" y2="292.5" stroke="#ff00ff" stroke-width="2.2"/>
<text x="752.4" y="303.5" text-anchor="start" font-size="25.8" >228 Oe</text>
<path d="M969.2,562.6 970.5,562.5 972.3,562.6 974.3,562.6 976.2,562.4 978.2,563.1 980.2,563.4 982.2,563.5 984.2,563.7 986.2,564.1 988.2,564.3 990.2,563.4 992.2,563.4 994.2,563.5 996.0,562.2 997.7,561.5 999.3,560.4 1000.7,559.4 1002.1,558.0 1003.4,556.5 1004.6,554.7 1006.1,553.5 1007.6,552.2 1009.0,550.9 1010.5,549.6 1012.0,548.2 1013.4,546.9 1014.8,545.5 1016.3,544.1 1017.7,542.7 1019.1,541.3 1020.5,539.9 1021.9,538.5 1023.2,537.0 1024.6,535.5 1025.9,534.0 1027.1,532.5 1028.3,530.9 1029.5,529.4 1030.7,527.8 1031.8,526.1 1032.9,524.5 1033.9,522.8 1034.9,521.1 1035.9,519.3 1036.9,517.6 1037.8,515.8 1038.8,514.1 1039.7,512.3 1040.6,510.5 1041.4,508.7 1042.3,506.9 1043.2,505.1 1044.0,503.3 1044.8,501.5 1045.6,499.7 1046.4,497.8 1047.2,496.0 1047.9,494.1 1048.6,492.3 1049.3,490.4 1050.0,488.5 1050.7,486.6 1051.3,484.7 1052.0,482.9 1052.6,481.0 1053.2,479.1 1053.8,477.1 1054.4,475.2 1054.9,473.3 1055.5,471.4 1056.1,469.5 1056.6,467.6 1057.1,465.6 1057.7,463.7 1058.2,461.8 1058.7,459.8 1059.2,457.9 1059.7,456.0 1060.2,454.0 1060.7,452.1 1061.1,450.1 1061.6,448.2 1062.1,446.3 1062.6,444.3 1063.0,442.4 1063.5,440.4 1063.9,438.5 1064.4,436.5 1064.9,434.6 1065.3,432.6 1065.8,430.7 1066.2,428.7 1066.7,426.8 1067.2,424.9 1067.6,422.9 1068.1,421.0 1068.6,419.0 1069.0,417.1 1069.5,415.1 1070.0,413.2 1070.4,411.2 1070.9,409.3 1071.4,407.3 1071.8,405.4 1072.3,403.5 1072.8,401.5 1073.2,399.6 1073.7,397.6 1074.2,395.7 1074.7,393.7 1075.1,391.8 1075.6,389.9 1076.1,387.9 1076.6,386.0 1077.1,384.0 1077.5,382.1 1078.0,380.1 1078.5,378.2 1079.0,376.3 1079.5,374.3 1079.9,372.4 1080.4,370.4 1080.9,368.5 1081.4,366.6 1081.9,364.6 1082.3,362.7 1082.8,360.7 1083.3,358.8 1083.8,356.8 1084.2,354.9 1084.7,353.0 1085.2,351.0 1085.7,349.1 1086.1,347.1 1086.6,345.2 1087.0,343.2 1087.5,341.3 1088.0,339.3 1088.4,337.4 1088.8,335.4 1089.3,333.5 1089.7,331.5 1090.1,329.6 1090.6,327.6 1091.0,325.7 1091.4,323.7 1091.8,321.8 1092.2,319.8 1092.5,317.8 1092.9,315.9 1093.3,313.9 1093.7,311.9 1094.0,310.0 1094.4,308.0 1094.7,306.0 1095.0,304.1 1095.4,302.1 1095.7,300.1 1096.0,298.1 1096.3,296.2 1096.6,294.2 1096.9,292.2 1097.2,290.2 1097.5,288.3 1097.8,286.3 1098.1,284.3 1098.4,282.3 1098.7,280.3 1099.0,278.4 1099.3,276.4 1099.6,274.4 1099.9,272.4 1100.2,270.5 1100.5,268.5 1100.7,266.5 1101.0,264.5 1101.3,262.5 1101.6,260.6 1101.9,258.6 1102.2,256.6 1102.4,254.6 1102.7,252.6 1103.0,250.7 1103.3,248.7 1103.5,246.7 1103.8,244.7 1104.1,242.7 1104.4,240.7 1104.6,238.8 1104.9,236.8 1105.2,234.8 1105.4,232.8 1105.7,230.8 1106.0,228.9 1106.2,226.9 1106.5,224.9 1106.8,222.9 1107.0,220.9 1107.3,218.9 1107.5,217.0 1107.8,215.0 1108.0,213.0 1108.3,211.0 1108.5,209.0 1108.8,207.0 1109.0,205.1 1109.3,203.1 1109.5,201.1 1109.8,199.1 1110.0,197.1 1110.2,195.1 1110.5,193.1 1110.7,191.1 1110.9,189.2 1111.2,187.2 1111.4,185.2 1111.6,183.2 1111.9,181.2 1112.1,179.2 1112.3,177.2 1112.5,175.3 1112.8,173.3 1113.0,171.3 1113.2,169.3 1113.5,167.3 1113.7,165.3 1113.9,163.3 1114.2,161.4 1114.4,159.4 1114.6,157.4 1114.9,155.4 1115.1,153.4 1115.3,151.4 1115.6,149.4 1115.8,147.4 1116.1,145.5 1116.3,143.5 1116.6,141.5 1116.8,139.5 1117.1,137.5 1117.3,135.5 1117.6,133.6 1117.8,131.6 1118.1,129.6 1118.4,127.6 1118.6,125.6 1118.9,123.6 1119.2,121.7 1119.5,119.7 1119.7,117.7 1120.0,115.7 1120.3,113.8 1120.6,111.8 1120.9,109.8 1121.2,107.8 1121.6,105.8 1121.9,103.9 1122.2,101.9 1122.5,99.9 1122.9,98.0 1123.2,96.0 1123.6,94.0 1124.0,92.1 1124.3,90.1 1124.7,88.1 1125.2,86.2 1125.6,84.2 1126.0,82.3 1126.5,80.3 1127.0,78.4 1127.7,76.5 1128.5,74.9 1129.6,73.9 1130.8,74.2 1131.8,75.6 1132.6,77.3 1133.1,79.3 1133.7,81.2 1134.1,83.1 1134.5,85.1 1134.9,87.0 1135.3,89.0 1135.7,91.0 1136.0,92.9 1136.4,94.9 1136.7,96.9 1137.0,98.9 1137.3,100.8 1137.6,102.8 1137.8,104.8 1138.1,106.8 1138.4,108.8 1138.6,110.7 1138.9,112.7 1139.2,114.7 1139.4,116.7 1139.7,118.7 1139.9,120.7 1140.1,122.7 1140.4,124.6 1140.6,126.6 1140.8,128.6 1141.1,130.6 1141.3,132.6 1141.5,134.6 1141.7,136.6 1141.9,138.6 1142.1,140.5 1142.3,142.5 1142.5,144.5 1142.7,146.5 1142.9,148.5 1143.1,150.5 1143.3,152.5 1143.5,154.5 1143.7,156.5 1143.9,158.5 1144.0,160.4 1144.2,162.4 1144.4,164.4 1144.5,166.4 1144.7,168.4 1144.9,170.4 1145.0,172.4 1145.2,174.4 1145.3,176.4 1145.5,178.4 1145.7,180.4 1145.8,182.4 1146.0,184.4 1146.2,186.4 1146.3,188.4 1146.5,190.3 1146.7,192.3 1146.8,194.3 1147.0,196.3 1147.2,198.3 1147.4,200.3 1147.5,202.3 1147.7,204.3 1147.9,206.3 1148.1,208.3 1148.3,210.3 1148.5,212.3 1148.7,214.2 1148.9,216.2 1149.1,218.2 1149.3,220.2 1149.5,222.2 1149.7,224.2 1149.9,226.2 1150.1,228.2 1150.3,230.2 1150.5,232.2 1150.7,234.1 1151.0,236.1 1151.2,238.1 1151.4,240.1 1151.6,242.1 1151.9,244.1 1152.1,246.1 1152.3,248.0 1152.6,250.0 1152.8,252.0 1153.1,254.0 1153.3,256.0 1153.6,258.0 1153.8,260.0 1154.1,261.9 1154.3,263.9 1154.6,265.9 1154.8,267.9 1155.1,269.9 1155.3,271.9 1155.6,273.8 1155.8,275.8 1156.1,277.8 1156.3,279.8 1156.6,281.8 1156.8,283.8 1157.1,285.8 1157.3,287.7 1157.5,289.7 1157.8,291.7 1158.0,293.7 1158.2,295.7 1158.5,297.7 1158.7,299.7 1158.9,301.6 1159.1,303.6 1159.4,305.6 1159.6,307.6 1159.8,309.6 1160.0,311.6 1160.2,313.6 1160.5,315.6 1160.7,317.5 1160.9,319.5 1161.1,321.5 1161.3,323.5 1161.5,325.5 1161.8,327.5 1162.0,329.5 1162.2,331.5 1162.4,333.5 1162.6,335.4 1162.9,337.4 1163.1,339.4 1163.3,341.4 1163.5,343.4 1163.8,345.4 1164.0,347.4 1164.3,349.3 1164.6,351.3 1164.8,353.3 1165.1,355.3 1165.4,357.3 1165.7,359.2 1166.0,361.2 1166.4,363.2 1166.7,365.1 1167.0,367.1 1167.4,369.1 1167.8,371.1 1168.1,373.0 1168.5,375.0 1168.9,376.9 1169.3,378.9 1169.7,380.9 1170.1,382.8 1170.5,384.8 1170.9,386.7 1171.3,388.7 1171.8,390.6 1172.2,392.6 1172.6,394.6 1173.0,396.5 1173.5,398.5 1173.9,400.4 1174.4,402.4 1174.8,404.3 1175.3,406.3 1175.7,408.2 1176.2,410.1 1176.6,412.1 1177.1,414.0 1177.6,416.0 1178.1,417.9 1178.6,419.9 1179.0,421.8 1179.5,423.7 1180.0,425.7 1180.5,427.6 1181.1,429.5 1181.6,431.5 1182.1,433.4 1182.6,435.3 1183.2,437.3 1183.7,439.2 1184.3,441.1 1184.8,443.0 1185.4,444.9 1186.0,446.9 1186.6,448.8 1187.2,450.7 1187.8,452.6 1188.4,454.5 1189.0,456.4 1189.6,458.3 1190.3,460.2 1190.9,462.1 1191.6,464.0 1192.2,465.8 1192.9,467.7 1193.6,469.6 1194.4,471.4 1195.1,473.3 1195.8,475.2 1196.6,477.0 1197.4,478.8 1198.2,480.7 1199.0,482.5 1199.8,484.3 1200.7,486.1 1201.6,487.9 1202.5,489.7 1203.4,491.4 1204.3,493.2 1205.3,494.9 1206.3,496.7 1207.3,498.4 1208.4,500.1 1209.4,501.8 1210.5,503.4 1211.7,505.1 1212.8,506.7 1214.0,508.3 1215.2,509.9 1216.4,511.5 1217.6,513.0 1218.9,514.6 1220.2,516.1 1221.5,517.5 1222.9,518.9 1224.3,520.3 1225.8,521.7 1227.2,523.0 1228.8,524.2 1230.3,525.5 1231.9,526.6 1233.5,527.7 1235.2,528.8 1236.9,529.8 1238.6,530.8 1240.3,531.8 1242.1,532.7 1243.8,533.6 1245.6,534.5 1247.4,535.3 1249.2,536.2 1251.0,537.1 1252.8,537.9 1254.6,538.7 1256.5,539.6 1258.3,540.4 1260.1,541.2 1261.9,542.0 1263.8,542.8 1265.6,543.5 1267.5,544.3 1269.3,545.0 1271.2,545.6 1273.1,546.3 1275.0,546.9 1276.9,547.5 1278.8,548.0 1280.7,548.5 1282.7,549.0 1284.6,549.4 1286.5,549.9 1288.5,550.3 1290.5,550.6 1292.4,551.0 1294.4,551.3 1296.4,551.6 1298.3,551.9 1300.3,552.2 1302.3,552.5 1304.3,552.7 1306.3,552.9 1308.3,553.2 1310.2,553.4 1312.2,553.6 1314.2,553.8 1316.2,554.0 1318.2,554.2 1320.2,554.4 1322.2,554.6 1324.2,554.8 1326.2,555.0 1328.2,555.2 1330.2,555.4 1332.1,555.5 1334.1,555.7 1336.1,555.9 1338.1,556.1 1340.1,556.3 1342.1,556.5 1344.1,556.7 1346.1,557.0 1348.1,557.2 1350.0,557.4 1352.0,557.6 1354.0,557.8 1356.0,558.0 1358.0,558.2 1360.0,558.4 1362.0,558.6 1364.0,558.8 1366.0,559.0 1368.0,559.2 1369.9,559.4 1371.9,559.6 1373.9,559.8 1375.9,559.9 1377.9,560.1 1379.9,560.3 1381.9,560.4 1383.9,560.6 1385.9,560.7 1387.9,560.9 1389.9,561.0 1391.9,561.1 1393.9,561.3 1395.9,561.4 1397.9,561.5 1399.9,561.6 1401.9,561.7 1403.8,561.8 1405.8,561.9 1407.8,562.0 1409.8,562.1 1411.8,562.2 1413.8,562.3 1415.8,562.4 1417.8,562.5 1419.8,562.6 1421.8,562.6 1423.8,562.7 1425.8,562.8 1427.8,562.8 1429.8,562.9 1431.8,562.9 1433.8,563.0 1435.8,563.1 1437.8,563.1 1439.8,563.2 1441.8,563.2 1443.8,563.2 1445.8,563.3 1447.8,563.3 1449.8,563.4 1451.8,563.4 1453.8,563.4 1455.8,563.5 1457.8,563.5 1459.8,563.5 1461.8,563.5 1463.8,563.6 1465.8,563.6 1467.8,563.6 1469.8,563.6 1471.8,563.7 1473.8,563.7 1475.8,563.7 1477.8,563.7 1479.8,563.7 1481.8,563.8 1483.8,563.8 1485.8,563.8 1487.8,563.8 1489.8,563.8 1491.8,563.8 1493.8,563.8 1495.8,563.9 1497.8,563.9 1499.8,563.9 1501.8,563.9 1503.8,563.9 1505.8,563.9 1507.8,563.9 1509.8,563.9 1511.8,563.9 1513.8,564.0 1515.8,564.0 1517.8,564.0 1519.8,564.0 1521.8,564.0 1523.8,564.0 1525.8,564.0 1527.8,564.0 1529.8,564.0 1531.8,564.0 1533.8,564.0 1535.8,564.0 1537.8,564.0 1539.8,564.0 1541.8,564.0 1543.8,564.1 1545.8,564.1 1547.8,564.1 1549.8,564.1 1551.8,564.1 1553.8,564.1 1555.8,564.1 1557.8,564.1 1559.8,564.1 1561.8,564.1 1563.8,564.1 1565.8,564.1 1567.8,564.1 1569.8,564.1 1571.8,564.1 1573.8,564.1 1575.8,564.1 1577.8,564.1 1579.8,564.1 1581.8,564.1 1583.8,564.1 1585.8,564.1 1587.8,564.1 1589.8,564.1 1591.8,564.1 1593.8,564.1 1595.8,564.1 1597.8,564.1 1599.8,564.1 1601.8,564.1 1603.8,564.1 1605.8,564.1 1607.8,564.1 1609.8,564.1 1611.8,564.1 1613.8,564.1 1615.8,564.1 1617.8,564.1 1619.8,564.1 1621.8,564.1 1623.8,564.1 1625.8,564.1 1627.8,564.1 1629.8,564.1 1631.8,564.1 1633.8,564.1 1635.8,564.1 1637.8,564.1 1639.8,564.1 1641.8,564.1 1643.8,564.0 1645.8,564.0 1647.8,564.0 1649.8,564.0 1651.8,564.0 1653.8,564.0 1655.8,564.0 1657.8,564.0 1659.8,564.0 1661.8,564.0 1663.8,564.0 1665.8,564.0 1667.8,564.0 1669.8,564.0 1671.8,564.0 1673.8,564.0 1675.8,564.0 1677.8,564.0 1679.8,564.0 1681.8,564.0 1683.8,564.0 1685.8,564.0 1687.8,564.0 1689.8,564.0 1691.8,564.0 1693.8,564.0 1695.8,564.0 1697.8,564.0 1699.8,564.0 1701.8,564.0 1703.8,564.0 1705.8,564.0 1707.8,564.0 1709.8,564.0 1711.8,564.0 1713.7,564.0 1715.3,564.0" stroke="#000000" stroke-width="2.4" fill="none" stroke-linejoin="round" stroke-linecap="round"/>
<path d="M968.9,562.3 969.8,561.5 971.6,562.1 973.6,562.4 975.6,562.2 977.6,562.6 979.6,563.3 981.6,563.3 983.6,563.2 985.6,563.0 987.6,562.8 989.6,563.0 991.6,562.5 993.6,562.7 995.6,562.7 997.6,562.5 999.6,563.2 1001.6,563.8 1003.6,563.0 1005.6,562.4 1007.4,561.7 1009.3,561.7 1011.2,561.1 1013.1,560.3 1015.0,559.4 1016.8,559.3 1018.7,558.8 1020.5,558.2 1022.3,557.2 1024.1,556.2 1025.9,555.3 1027.6,554.4 1029.4,553.4 1031.1,552.4 1032.8,551.4 1034.5,550.3 1036.2,549.2 1037.8,548.1 1039.4,547.0 1041.1,545.8 1042.7,544.6 1044.3,543.4 1045.8,542.2 1047.4,540.9 1048.9,539.7 1050.5,538.4 1052.0,537.1 1053.5,535.7 1054.9,534.4 1056.4,533.1 1057.8,531.7 1059.3,530.3 1060.7,528.9 1062.1,527.4 1063.4,526.0 1064.7,524.5 1066.0,523.0 1067.3,521.5 1068.6,519.9 1069.8,518.3 1071.0,516.8 1072.2,515.2 1073.4,513.5 1074.5,511.9 1075.6,510.2 1076.7,508.6 1077.8,506.9 1078.9,505.2 1080.0,503.6 1081.1,501.9 1082.2,500.2 1083.2,498.5 1084.3,496.8 1085.4,495.1 1086.4,493.4 1087.5,491.7 1088.5,490.0 1089.6,488.3 1090.6,486.6 1091.7,484.9 1092.7,483.2 1093.7,481.5 1094.7,479.8 1095.7,478.0 1096.7,476.3 1097.7,474.5 1098.6,472.8 1099.5,471.0 1100.4,469.2 1101.3,467.4 1102.2,465.6 1103.0,463.8 1103.8,462.0 1104.6,460.2 1105.4,458.3 1106.1,456.5 1106.9,454.6 1107.6,452.8 1108.3,450.9 1109.0,449.0 1109.7,447.1 1110.3,445.3 1111.0,443.4 1111.6,441.5 1112.2,439.6 1112.8,437.7 1113.4,435.8 1114.0,433.9 1114.6,431.9 1115.2,430.0 1115.8,428.1 1116.3,426.2 1116.9,424.3 1117.5,422.4 1118.0,420.4 1118.6,418.5 1119.1,416.6 1119.6,414.7 1120.2,412.7 1120.7,410.8 1121.2,408.9 1121.7,406.9 1122.2,405.0 1122.7,403.1 1123.2,401.1 1123.7,399.2 1124.2,397.2 1124.6,395.3 1125.1,393.4 1125.5,391.4 1126.0,389.5 1126.4,387.5 1126.9,385.6 1127.3,383.6 1127.7,381.6 1128.1,379.7 1128.6,377.7 1129.0,375.8 1129.4,373.8 1129.8,371.9 1130.2,369.9 1130.6,368.0 1131.0,366.0 1131.4,364.0 1131.8,362.1 1132.2,360.1 1132.6,358.1 1133.0,356.2 1133.3,354.2 1133.7,352.3 1134.1,350.3 1134.4,348.3 1134.8,346.3 1135.1,344.4 1135.4,342.4 1135.8,340.4 1136.1,338.5 1136.4,336.5 1136.7,334.5 1137.0,332.5 1137.3,330.6 1137.6,328.6 1137.9,326.6 1138.2,324.6 1138.5,322.6 1138.8,320.7 1139.1,318.7 1139.4,316.7 1139.7,314.7 1140.0,312.8 1140.3,310.8 1140.6,308.8 1140.9,306.8 1141.2,304.8 1141.5,302.9 1141.7,300.9 1142.0,298.9 1142.3,296.9 1142.6,294.9 1142.8,293.0 1143.1,291.0 1143.4,289.0 1143.6,287.0 1143.9,285.0 1144.1,283.0 1144.4,281.1 1144.6,279.1 1144.8,277.1 1145.1,275.1 1145.3,273.1 1145.5,271.1 1145.8,269.1 1146.0,267.2 1146.2,265.2 1146.5,263.2 1146.7,261.2 1146.9,259.2 1147.2,257.2 1147.4,255.2 1147.6,253.3 1147.8,251.3 1148.1,249.3 1148.3,247.3 1148.5,245.3 1148.8,243.3 1149.0,241.3 1149.2,239.3 1149.5,237.4 1149.7,235.4 1150.0,233.4 1150.2,231.4 1150.4,229.4 1150.7,227.4 1150.9,225.5 1151.2,223.5 1151.5,221.5 1151.7,219.5 1152.0,217.5 1152.2,215.5 1152.5,213.5 1152.8,211.6 1153.0,209.6 1153.3,207.6 1153.6,205.6 1153.9,203.6 1154.1,201.7 1154.4,199.7 1154.7,197.7 1155.0,195.7 1155.3,193.8 1155.7,191.8 1156.0,189.8 1156.3,187.8 1156.7,185.9 1157.0,183.9 1157.3,181.9 1157.7,180.0 1158.0,178.0 1158.4,176.0 1158.8,174.1 1159.1,172.1 1159.5,170.1 1159.8,168.2 1160.2,166.2 1160.6,164.2 1161.0,162.3 1161.3,160.3 1161.7,158.3 1162.1,156.4 1162.5,154.4 1162.9,152.5 1163.4,150.5 1163.9,148.6 1164.5,146.7 1165.2,144.9 1166.2,143.5 1167.4,143.1 1168.5,144.0 1169.4,145.6 1170.1,147.5 1170.7,149.4 1171.2,151.3 1171.7,153.3 1172.1,155.2 1172.6,157.2 1173.0,159.1 1173.4,161.1 1173.8,163.0 1174.2,165.0 1174.5,167.0 1174.9,168.9 1175.3,170.9 1175.6,172.9 1175.9,174.8 1176.3,176.8 1176.6,178.8 1176.9,180.8 1177.3,182.7 1177.6,184.7 1177.9,186.7 1178.2,188.7 1178.5,190.6 1178.8,192.6 1179.0,194.6 1179.3,196.6 1179.6,198.6 1179.8,200.5 1180.0,202.5 1180.3,204.5 1180.5,206.5 1180.8,208.5 1181.0,210.5 1181.2,212.5 1181.4,214.4 1181.7,216.4 1181.9,218.4 1182.1,220.4 1182.3,222.4 1182.6,224.4 1182.8,226.4 1183.0,228.4 1183.3,230.3 1183.5,232.3 1183.7,234.3 1183.9,236.3 1184.2,238.3 1184.4,240.3 1184.6,242.3 1184.9,244.2 1185.1,246.2 1185.3,248.2 1185.6,250.2 1185.8,252.2 1186.0,254.2 1186.3,256.2 1186.5,258.2 1186.7,260.1 1186.9,262.1 1187.2,264.1 1187.4,266.1 1187.6,268.1 1187.9,270.1 1188.1,272.1 1188.3,274.0 1188.5,276.0 1188.7,278.0 1189.0,280.0 1189.2,282.0 1189.4,284.0 1189.6,286.0 1189.8,288.0 1190.0,290.0 1190.2,291.9 1190.4,293.9 1190.6,295.9 1190.8,297.9 1191.0,299.9 1191.2,301.9 1191.4,303.9 1191.6,305.9 1191.8,307.9 1192.0,309.9 1192.2,311.8 1192.4,313.8 1192.6,315.8 1192.9,317.8 1193.1,319.8 1193.3,321.8 1193.6,323.8 1193.9,325.7 1194.1,327.7 1194.4,329.7 1194.7,331.7 1195.0,333.7 1195.3,335.6 1195.6,337.6 1195.9,339.6 1196.2,341.6 1196.5,343.5 1196.9,345.5 1197.2,347.5 1197.5,349.5 1197.9,351.4 1198.2,353.4 1198.5,355.4 1198.9,357.3 1199.2,359.3 1199.5,361.3 1199.9,363.3 1200.2,365.2 1200.5,367.2 1200.9,369.2 1201.2,371.1 1201.5,373.1 1201.8,375.1 1202.2,377.1 1202.5,379.0 1202.8,381.0 1203.1,383.0 1203.4,385.0 1203.7,386.9 1204.0,388.9 1204.4,390.9 1204.7,392.9 1205.0,394.8 1205.3,396.8 1205.6,398.8 1206.0,400.8 1206.3,402.7 1206.6,404.7 1207.0,406.7 1207.3,408.6 1207.7,410.6 1208.1,412.6 1208.4,414.5 1208.8,416.5 1209.2,418.5 1209.6,420.4 1210.0,422.4 1210.4,424.3 1210.8,426.3 1211.3,428.3 1211.7,430.2 1212.1,432.2 1212.6,434.1 1213.0,436.1 1213.5,438.0 1213.9,439.9 1214.4,441.9 1214.9,443.8 1215.4,445.8 1215.9,447.7 1216.4,449.6 1216.9,451.6 1217.4,453.5 1218.0,455.4 1218.5,457.3 1219.1,459.3 1219.7,461.2 1220.3,463.1 1220.9,465.0 1221.5,466.9 1222.2,468.8 1222.8,470.6 1223.5,472.5 1224.2,474.4 1225.0,476.2 1225.7,478.1 1226.4,480.0 1227.2,481.8 1228.0,483.6 1228.8,485.4 1229.7,487.3 1230.5,489.1 1231.4,490.9 1232.3,492.6 1233.2,494.4 1234.2,496.1 1235.1,497.9 1236.2,499.6 1237.2,501.3 1238.3,502.9 1239.4,504.6 1240.6,506.2 1241.8,507.7 1243.0,509.3 1244.3,510.8 1245.6,512.3 1246.9,513.8 1248.3,515.2 1249.7,516.6 1251.1,518.0 1252.5,519.4 1254.0,520.7 1255.5,522.1 1257.0,523.4 1258.5,524.7 1260.1,525.9 1261.6,527.2 1263.2,528.4 1264.8,529.6 1266.4,530.7 1268.1,531.8 1269.7,532.9 1271.4,534.0 1273.1,535.0 1274.8,536.0 1276.6,537.0 1278.3,537.9 1280.1,538.8 1281.9,539.7 1283.7,540.5 1285.5,541.3 1287.4,542.0 1289.2,542.7 1291.1,543.4 1293.0,544.0 1294.9,544.7 1296.8,545.2 1298.7,545.8 1300.6,546.3 1302.6,546.8 1304.5,547.3 1306.4,547.8 1308.4,548.2 1310.3,548.6 1312.3,549.0 1314.3,549.4 1316.2,549.7 1318.2,550.1 1320.2,550.4 1322.1,550.7 1324.1,551.0 1326.1,551.3 1328.1,551.5 1330.1,551.8 1332.0,552.1 1334.0,552.4 1336.0,552.6 1338.0,552.9 1340.0,553.2 1341.9,553.5 1343.9,553.7 1345.9,554.0 1347.9,554.3 1349.9,554.6 1351.8,554.9 1353.8,555.1 1355.8,555.4 1357.8,555.7 1359.8,556.0 1361.7,556.2 1363.7,556.5 1365.7,556.8 1367.7,557.0 1369.7,557.3 1371.7,557.5 1373.6,557.7 1375.6,558.0 1377.6,558.2 1379.6,558.4 1381.6,558.6 1383.6,558.8 1385.6,559.0 1387.6,559.2 1389.6,559.4 1391.6,559.6 1393.5,559.7 1395.5,559.9 1397.5,560.1 1399.5,560.2 1401.5,560.4 1403.5,560.5 1405.5,560.7 1407.5,560.8 1409.5,560.9 1411.5,561.0 1413.5,561.2 1415.5,561.3 1417.5,561.4 1419.5,561.5 1421.5,561.6 1423.5,561.7 1425.5,561.8 1427.5,561.9 1429.5,562.0 1431.5,562.0 1433.5,562.1 1435.5,562.2 1437.5,562.3 1439.5,562.3 1441.5,562.4 1443.5,562.5 1445.5,562.5 1447.5,562.6 1449.5,562.6 1451.5,562.7 1453.5,562.7 1455.5,562.8 1457.5,562.8 1459.5,562.9 1461.5,562.9 1463.5,562.9 1465.5,563.0 1467.5,563.0 1469.5,563.0 1471.5,563.1 1473.5,563.1 1475.5,563.1 1477.5,563.2 1479.5,563.2 1481.5,563.2 1483.5,563.2 1485.5,563.3 1487.5,563.3 1489.5,563.3 1491.5,563.3 1493.5,563.4 1495.5,563.4 1497.5,563.4 1499.5,563.4 1501.5,563.4 1503.5,563.5 1505.5,563.5 1507.5,563.5 1509.5,563.5 1511.4,563.5 1513.4,563.5 1515.4,563.6 1517.4,563.6 1519.4,563.6 1521.4,563.6 1523.4,563.6 1525.4,563.6 1527.4,563.6 1529.4,563.6 1531.4,563.7 1533.4,563.7 1535.4,563.7 1537.4,563.7 1539.4,563.7 1541.4,563.7 1543.4,563.7 1545.4,563.7 1547.4,563.7 1549.4,563.7 1551.4,563.8 1553.4,563.8 1555.4,563.8 1557.4,563.8 1559.4,563.8 1561.4,563.8 1563.4,563.8 1565.4,563.8 1567.4,563.8 1569.4,563.8 1571.4,563.8 1573.4,563.8 1575.4,563.8 1577.4,563.8 1579.4,563.8 1581.4,563.9 1583.4,563.9 1585.4,563.9 1587.4,563.9 1589.4,563.9 1591.4,563.9 1593.4,563.9 1595.4,563.9 1597.4,563.9 1599.4,563.9 1601.4,563.9 1603.4,563.9 1605.4,563.9 1607.4,563.9 1609.4,563.9 1611.4,563.9 1613.4,563.9 1615.4,563.9 1617.4,563.9 1619.4,563.9 1621.4,563.9 1623.4,563.9 1625.4,563.9 1627.4,563.9 1629.4,563.9 1631.4,563.9 1633.4,563.9 1635.4,563.9 1637.4,563.9 1639.4,563.9 1641.4,563.9 1643.4,563.9 1645.4,563.9 1647.4,563.9 1649.4,563.9 1651.4,563.9 1653.4,563.9 1655.4,563.9 1657.4,563.9 1659.4,563.9 1661.4,563.9 1663.4,563.9 1665.4,563.9 1667.4,563.9 1669.4,563.9 1671.4,563.9 1673.4,563.9 1675.4,563.9 1677.4,563.9 1679.4,563.9 1681.4,563.9 1683.4,563.9 1685.4,563.9 1687.4,563.9 1689.4,563.9 1691.4,563.9 1693.4,563.9 1695.4,563.9 1697.4,563.9 1699.4,563.9 1701.4,564.0 1703.4,564.0 1705.4,564.0 1707.4,564.0 1709.4,564.0 1711.4,564.0 1713.4,564.0 1714.9,564.0" stroke="#ff0000" stroke-width="2.4" fill="none" stroke-linejoin="round" stroke-linecap="round"/>
<path d="M968.6,563.8 969.0,563.5 970.7,562.6 972.7,561.7 974.7,561.8 976.7,562.4 978.6,562.4 980.6,562.5 982.6,562.1 984.6,563.3 986.6,563.3 988.6,562.3 990.6,562.3 992.6,562.4 994.6,562.7 996.6,563.2 998.6,562.8 1000.6,562.7 1002.6,563.5 1004.6,563.8 1006.6,563.1 1008.6,562.8 1010.6,562.5 1012.6,563.4 1014.6,563.9 1016.6,563.1 1018.5,562.1 1020.5,561.2 1022.5,561.1 1024.4,560.8 1026.4,561.4 1028.3,561.8 1030.2,561.2 1032.2,560.1 1034.1,559.3 1036.0,558.5 1037.9,558.0 1039.7,557.4 1041.6,556.6 1043.4,555.9 1045.3,555.1 1047.1,554.3 1048.9,553.5 1050.7,552.7 1052.6,551.8 1054.3,550.9 1056.1,550.0 1057.9,549.1 1059.7,548.2 1061.5,547.3 1063.2,546.4 1065.0,545.4 1066.7,544.5 1068.5,543.5 1070.2,542.5 1072.0,541.6 1073.7,540.6 1075.5,539.6 1077.2,538.6 1078.9,537.6 1080.7,536.6 1082.4,535.5 1084.1,534.5 1085.8,533.5 1087.5,532.4 1089.2,531.3 1090.9,530.3 1092.5,529.2 1094.2,528.1 1095.9,527.0 1097.5,525.9 1099.2,524.7 1100.8,523.6 1102.4,522.4 1104.1,521.2 1105.7,520.1 1107.3,518.9 1108.8,517.6 1110.4,516.4 1111.9,515.1 1113.5,513.9 1115.0,512.6 1116.5,511.2 1117.9,509.9 1119.4,508.5 1120.8,507.1 1122.1,505.7 1123.5,504.2 1124.8,502.7 1126.0,501.2 1127.2,499.6 1128.4,498.0 1129.6,496.4 1130.7,494.8 1131.7,493.1 1132.8,491.4 1133.7,489.7 1134.7,487.9 1135.7,486.2 1136.6,484.4 1137.5,482.6 1138.3,480.8 1139.2,479.0 1140.0,477.2 1140.8,475.4 1141.6,473.6 1142.4,471.7 1143.2,469.9 1144.0,468.0 1144.7,466.2 1145.4,464.3 1146.1,462.5 1146.8,460.6 1147.5,458.7 1148.2,456.8 1148.9,454.9 1149.5,453.1 1150.2,451.2 1150.8,449.3 1151.4,447.4 1152.0,445.5 1152.6,443.5 1153.2,441.6 1153.7,439.7 1154.3,437.8 1154.8,435.9 1155.4,433.9 1155.9,432.0 1156.4,430.1 1156.9,428.2 1157.5,426.2 1157.9,424.3 1158.4,422.3 1158.9,420.4 1159.4,418.5 1159.8,416.5 1160.3,414.6 1160.8,412.6 1161.2,410.7 1161.6,408.7 1162.1,406.8 1162.5,404.8 1162.9,402.9 1163.3,400.9 1163.7,398.9 1164.2,397.0 1164.6,395.0 1165.0,393.1 1165.4,391.1 1165.7,389.1 1166.1,387.2 1166.5,385.2 1166.9,383.3 1167.3,381.3 1167.6,379.3 1168.0,377.4 1168.3,375.4 1168.7,373.4 1169.0,371.4 1169.4,369.5 1169.7,367.5 1170.0,365.5 1170.3,363.6 1170.6,361.6 1170.9,359.6 1171.2,357.6 1171.5,355.6 1171.8,353.7 1172.1,351.7 1172.3,349.7 1172.6,347.7 1172.9,345.7 1173.1,343.8 1173.4,341.8 1173.7,339.8 1173.9,337.8 1174.2,335.8 1174.4,333.8 1174.7,331.9 1175.0,329.9 1175.2,327.9 1175.5,325.9 1175.7,323.9 1176.0,321.9 1176.3,320.0 1176.5,318.0 1176.8,316.0 1177.1,314.0 1177.4,312.0 1177.6,310.1 1177.9,308.1 1178.2,306.1 1178.4,304.1 1178.7,302.1 1179.0,300.1 1179.2,298.2 1179.5,296.2 1179.8,294.2 1180.0,292.2 1180.3,290.2 1180.5,288.3 1180.8,286.3 1181.1,284.3 1181.3,282.3 1181.6,280.3 1181.8,278.3 1182.1,276.4 1182.3,274.4 1182.6,272.4 1182.9,270.4 1183.1,268.4 1183.4,266.4 1183.7,264.5 1183.9,262.5 1184.2,260.5 1184.5,258.5 1184.8,256.5 1185.1,254.6 1185.4,252.6 1185.7,250.6 1186.0,248.6 1186.3,246.7 1186.6,244.7 1186.9,242.7 1187.3,240.7 1187.6,238.8 1187.9,236.8 1188.2,234.8 1188.6,232.8 1188.9,230.9 1189.3,228.9 1189.6,226.9 1190.0,225.0 1190.3,223.0 1190.7,221.0 1191.0,219.1 1191.4,217.1 1191.7,215.1 1192.1,213.1 1192.4,211.2 1192.8,209.2 1193.2,207.3 1193.6,205.3 1194.0,203.3 1194.5,201.4 1195.0,199.5 1195.6,197.6 1196.2,195.7 1197.0,193.8 1197.9,192.2 1199.1,191.1 1200.4,191.3 1201.6,192.5 1202.6,194.1 1203.3,196.0 1204.0,197.9 1204.6,199.8 1205.1,201.7 1205.6,203.6 1206.0,205.6 1206.5,207.5 1206.9,209.5 1207.2,211.5 1207.6,213.4 1208.0,215.4 1208.3,217.4 1208.6,219.3 1209.0,221.3 1209.3,223.3 1209.6,225.3 1209.9,227.2 1210.2,229.2 1210.5,231.2 1210.7,233.2 1211.0,235.2 1211.3,237.1 1211.5,239.1 1211.8,241.1 1212.1,243.1 1212.3,245.1 1212.5,247.1 1212.8,249.0 1213.0,251.0 1213.3,253.0 1213.5,255.0 1213.8,257.0 1214.0,259.0 1214.3,261.0 1214.5,262.9 1214.8,264.9 1215.1,266.9 1215.3,268.9 1215.6,270.9 1215.9,272.8 1216.1,274.8 1216.4,276.8 1216.7,278.8 1217.0,280.8 1217.2,282.8 1217.5,284.7 1217.8,286.7 1218.1,288.7 1218.3,290.7 1218.6,292.7 1218.9,294.6 1219.2,296.6 1219.4,298.6 1219.7,300.6 1220.0,302.6 1220.2,304.6 1220.5,306.5 1220.7,308.5 1221.0,310.5 1221.2,312.5 1221.5,314.5 1221.7,316.5 1222.0,318.4 1222.2,320.4 1222.4,322.4 1222.7,324.4 1222.9,326.4 1223.1,328.4 1223.3,330.4 1223.5,332.4 1223.7,334.3 1223.9,336.3 1224.1,338.3 1224.4,340.3 1224.6,342.3 1224.8,344.3 1225.0,346.3 1225.2,348.3 1225.4,350.3 1225.6,352.2 1225.8,354.2 1226.0,356.2 1226.3,358.2 1226.5,360.2 1226.7,362.2 1227.0,364.2 1227.2,366.1 1227.5,368.1 1227.8,370.1 1228.1,372.1 1228.4,374.1 1228.7,376.0 1229.0,378.0 1229.3,380.0 1229.6,382.0 1230.0,383.9 1230.4,385.9 1230.7,387.9 1231.1,389.8 1231.5,391.8 1231.9,393.7 1232.3,395.7 1232.8,397.6 1233.2,399.6 1233.6,401.5 1234.1,403.5 1234.6,405.4 1235.0,407.4 1235.5,409.3 1236.0,411.3 1236.4,413.2 1236.9,415.1 1237.4,417.1 1237.9,419.0 1238.4,421.0 1238.9,422.9 1239.4,424.8 1239.9,426.8 1240.3,428.7 1240.8,430.7 1241.3,432.6 1241.8,434.5 1242.3,436.5 1242.8,438.4 1243.3,440.4 1243.8,442.3 1244.3,444.2 1244.8,446.2 1245.3,448.1 1245.8,450.0 1246.4,451.9 1246.9,453.9 1247.5,455.8 1248.0,457.7 1248.6,459.6 1249.1,461.6 1249.7,463.5 1250.3,465.4 1251.0,467.3 1251.6,469.2 1252.3,471.0 1252.9,472.9 1253.6,474.8 1254.3,476.7 1255.1,478.5 1255.8,480.4 1256.6,482.2 1257.4,484.0 1258.2,485.9 1259.0,487.7 1259.9,489.5 1260.7,491.3 1261.6,493.1 1262.5,494.9 1263.4,496.6 1264.4,498.4 1265.4,500.1 1266.4,501.8 1267.4,503.5 1268.5,505.2 1269.5,506.9 1270.6,508.6 1271.8,510.2 1273.0,511.8 1274.2,513.4 1275.4,514.9 1276.7,516.4 1278.0,517.9 1279.3,519.4 1280.7,520.8 1282.1,522.2 1283.5,523.6 1285.0,524.9 1286.5,526.2 1288.1,527.5 1289.6,528.7 1291.2,529.9 1292.8,531.0 1294.5,532.2 1296.1,533.3 1297.8,534.3 1299.5,535.3 1301.2,536.3 1303.0,537.3 1304.7,538.2 1306.5,539.1 1308.3,540.0 1310.1,540.8 1311.9,541.6 1313.7,542.4 1315.6,543.2 1317.4,543.9 1319.2,544.7 1321.0,545.4 1322.9,546.1 1324.7,546.8 1326.5,547.5 1328.3,548.2 1330.1,548.9 1331.9,549.6 1333.7,550.3 1335.5,550.9 1337.3,551.5 1339.2,552.0 1341.0,552.5 1342.9,553.0 1344.8,553.4 1346.7,553.8 1348.7,554.1 1350.6,554.5 1352.6,554.8 1354.5,555.0 1356.5,555.3 1358.5,555.6 1360.4,555.8 1362.4,556.1 1364.4,556.3 1366.4,556.5 1368.4,556.8 1370.4,557.0 1372.4,557.2 1374.4,557.4 1376.3,557.6 1378.3,557.8 1380.3,557.9 1382.3,558.1 1384.3,558.3 1386.3,558.4 1388.3,558.6 1390.3,558.7 1392.3,558.9 1394.3,559.0 1396.3,559.2 1398.3,559.3 1400.3,559.4 1402.3,559.5 1404.3,559.6 1406.3,559.7 1408.3,559.8 1410.3,559.9 1412.3,560.0 1414.2,560.1 1416.2,560.2 1418.2,560.3 1420.2,560.4 1422.2,560.5 1424.2,560.6 1426.2,560.6 1428.2,560.7 1430.2,560.8 1432.2,560.8 1434.2,560.9 1436.2,561.0 1438.2,561.0 1440.2,561.1 1442.2,561.1 1444.2,561.2 1446.2,561.2 1448.2,561.3 1450.2,561.3 1452.2,561.4 1454.2,561.4 1456.2,561.5 1458.2,561.5 1460.2,561.5 1462.2,561.6 1464.2,561.6 1466.2,561.6 1468.2,561.7 1470.2,561.7 1472.2,561.8 1474.2,561.8 1476.2,561.8 1478.2,561.9 1480.2,561.9 1482.2,561.9 1484.2,561.9 1486.2,562.0 1488.2,562.0 1490.2,562.0 1492.2,562.1 1494.2,562.1 1496.2,562.1 1498.2,562.1 1500.2,562.2 1502.2,562.2 1504.2,562.2 1506.2,562.2 1508.2,562.3 1510.2,562.3 1512.2,562.3 1514.2,562.3 1516.2,562.4 1518.2,562.4 1520.2,562.4 1522.2,562.4 1524.2,562.4 1526.2,562.5 1528.2,562.5 1530.2,562.5 1532.2,562.5 1534.2,562.6 1536.2,562.6 1538.2,562.6 1540.2,562.6 1542.2,562.6 1544.2,562.7 1546.2,562.7 1548.2,562.7 1550.2,562.7 1552.2,562.7 1554.2,562.7 1556.2,562.8 1558.2,562.8 1560.2,562.8 1562.2,562.8 1564.2,562.8 1566.2,562.9 1568.2,562.9 1570.2,562.9 1572.2,562.9 1574.2,562.9 1576.2,562.9 1578.2,563.0 1580.2,563.0 1582.2,563.0 1584.2,563.0 1586.2,563.0 1588.2,563.0 1590.2,563.1 1592.2,563.1 1594.2,563.1 1596.2,563.1 1598.2,563.1 1600.2,563.1 1602.2,563.1 1604.2,563.2 1606.2,563.2 1608.2,563.2 1610.2,563.2 1612.2,563.2 1614.2,563.2 1616.2,563.3 1618.2,563.3 1620.2,563.3 1622.2,563.3 1624.2,563.3 1626.2,563.3 1628.2,563.3 1630.2,563.4 1632.2,563.4 1634.2,563.4 1636.2,563.4 1638.2,563.4 1640.2,563.4 1642.2,563.4 1644.2,563.5 1646.2,563.5 1648.2,563.5 1650.2,563.5 1652.2,563.5 1654.2,563.5 1656.2,563.5 1658.2,563.6 1660.2,563.6 1662.2,563.6 1664.2,563.6 1666.2,563.6 1668.2,563.6 1670.2,563.6 1672.2,563.7 1674.2,563.7 1676.2,563.7 1678.2,563.7 1680.2,563.7 1682.2,563.7 1684.2,563.7 1686.2,563.8 1688.2,563.8 1690.2,563.8 1692.2,563.8 1694.2,563.8 1696.2,563.8 1698.2,563.8 1700.2,563.9 1702.2,563.9 1704.2,563.9 1706.2,563.9 1708.2,563.9 1710.2,563.9 1712.2,564.0 1714.0,564.0 1714.7,564.0" stroke="#0000ff" stroke-width="2.4" fill="none" stroke-linejoin="round" stroke-linecap="round"/>
<path d="M969.0,563.4 969.7,561.5 970.5,561.0 971.9,561.0 973.8,561.6 975.8,561.1 977.7,561.3 979.7,561.4 981.7,561.4 983.7,562.2 985.7,561.8 987.7,561.8 989.7,562.4 991.7,562.9 993.7,563.0 995.7,563.6 997.7,563.2 999.7,562.9 1001.7,563.0 1003.7,562.7 1005.7,561.9 1007.7,562.0 1009.7,562.4 1011.7,562.7 1013.6,562.2 1015.6,561.5 1017.6,560.5 1019.6,560.7 1021.6,561.0 1023.5,561.4 1025.5,561.1 1027.4,560.1 1029.4,559.5 1031.3,558.9 1033.3,558.3 1035.2,557.9 1037.2,557.4 1039.1,557.0 1041.0,556.5 1042.9,555.9 1044.9,555.4 1046.8,554.8 1048.7,554.3 1050.6,553.7 1052.6,553.2 1054.5,552.6 1056.4,552.1 1058.3,551.5 1060.3,551.0 1062.2,550.4 1064.1,549.9 1066.0,549.4 1068.0,548.8 1069.9,548.3 1071.8,547.7 1073.7,547.2 1075.6,546.6 1077.6,546.1 1079.5,545.5 1081.4,545.0 1083.3,544.4 1085.2,543.8 1087.2,543.2 1089.1,542.7 1091.0,542.1 1092.9,541.5 1094.8,540.9 1096.7,540.3 1098.6,539.7 1100.5,539.1 1102.4,538.4 1104.3,537.8 1106.2,537.2 1108.1,536.5 1110.0,535.9 1111.9,535.2 1113.8,534.5 1115.6,533.8 1117.5,533.1 1119.4,532.4 1121.2,531.7 1123.1,530.9 1124.9,530.1 1126.7,529.3 1128.5,528.5 1130.3,527.6 1132.1,526.7 1133.8,525.8 1135.5,524.8 1137.2,523.8 1138.8,522.7 1140.4,521.5 1142.0,520.4 1143.6,519.1 1145.1,517.9 1146.5,516.5 1147.9,515.2 1149.3,513.8 1150.7,512.3 1152.0,510.9 1153.4,509.4 1154.6,507.9 1155.9,506.3 1157.1,504.8 1158.3,503.2 1159.5,501.6 1160.7,500.0 1161.8,498.3 1162.9,496.7 1164.0,495.0 1165.0,493.3 1166.1,491.6 1167.0,489.9 1168.0,488.1 1168.9,486.3 1169.8,484.6 1170.6,482.8 1171.4,480.9 1172.2,479.1 1173.0,477.3 1173.7,475.4 1174.5,473.6 1175.2,471.7 1175.8,469.8 1176.5,467.9 1177.1,466.0 1177.8,464.1 1178.4,462.2 1179.0,460.3 1179.6,458.4 1180.2,456.5 1180.8,454.6 1181.3,452.7 1181.9,450.8 1182.5,448.9 1183.0,446.9 1183.6,445.0 1184.1,443.1 1184.7,441.2 1185.2,439.2 1185.7,437.3 1186.2,435.4 1186.7,433.4 1187.3,431.5 1187.8,429.6 1188.3,427.6 1188.7,425.7 1189.2,423.8 1189.7,421.8 1190.2,419.9 1190.6,417.9 1191.1,416.0 1191.5,414.0 1192.0,412.1 1192.4,410.1 1192.9,408.2 1193.3,406.2 1193.7,404.3 1194.1,402.3 1194.6,400.4 1195.0,398.4 1195.4,396.4 1195.8,394.5 1196.2,392.5 1196.6,390.6 1197.0,388.6 1197.3,386.6 1197.7,384.7 1198.1,382.7 1198.4,380.7 1198.8,378.8 1199.2,376.8 1199.5,374.8 1199.8,372.9 1200.2,370.9 1200.5,368.9 1200.8,366.9 1201.2,365.0 1201.5,363.0 1201.8,361.0 1202.1,359.1 1202.4,357.1 1202.8,355.1 1203.1,353.1 1203.4,351.2 1203.7,349.2 1204.1,347.2 1204.4,345.2 1204.8,343.3 1205.1,341.3 1205.5,339.3 1205.8,337.4 1206.2,335.4 1206.5,333.4 1206.9,331.5 1207.3,329.5 1207.6,327.5 1208.0,325.6 1208.3,323.6 1208.7,321.6 1209.0,319.7 1209.3,317.7 1209.6,315.7 1209.9,313.7 1210.1,311.8 1210.4,309.8 1210.7,307.8 1210.9,305.8 1211.2,303.8 1211.4,301.8 1211.7,299.9 1211.9,297.9 1212.2,295.9 1212.4,293.9 1212.7,291.9 1213.0,289.9 1213.3,288.0 1213.5,286.0 1213.8,284.0 1214.1,282.0 1214.5,280.1 1214.8,278.1 1215.1,276.1 1215.5,274.1 1215.8,272.2 1216.2,270.2 1216.5,268.2 1216.9,266.3 1217.3,264.3 1217.7,262.4 1218.1,260.4 1218.5,258.4 1218.9,256.5 1219.3,254.5 1219.7,252.6 1220.1,250.6 1220.5,248.6 1220.9,246.7 1221.3,244.7 1221.8,242.8 1222.2,240.8 1222.7,238.9 1223.1,236.9 1223.6,235.0 1224.1,233.1 1224.6,231.1 1225.2,229.2 1225.7,227.3 1226.4,225.4 1227.2,223.6 1228.3,222.2 1229.5,221.7 1230.8,222.5 1231.7,224.1 1232.3,225.9 1232.9,227.8 1233.3,229.8 1233.7,231.7 1234.1,233.7 1234.5,235.7 1234.9,237.6 1235.2,239.6 1235.6,241.6 1236.0,243.5 1236.3,245.5 1236.7,247.5 1237.0,249.4 1237.3,251.4 1237.6,253.4 1237.9,255.4 1238.2,257.3 1238.6,259.3 1238.9,261.3 1239.2,263.3 1239.4,265.2 1239.7,267.2 1240.0,269.2 1240.3,271.2 1240.6,273.2 1240.8,275.1 1241.1,277.1 1241.4,279.1 1241.6,281.1 1241.9,283.1 1242.2,285.1 1242.4,287.0 1242.7,289.0 1242.9,291.0 1243.2,293.0 1243.4,295.0 1243.7,297.0 1244.0,298.9 1244.2,300.9 1244.5,302.9 1244.8,304.9 1245.0,306.9 1245.3,308.8 1245.6,310.8 1245.8,312.8 1246.1,314.8 1246.4,316.8 1246.7,318.8 1247.0,320.7 1247.2,322.7 1247.5,324.7 1247.8,326.7 1248.1,328.6 1248.4,330.6 1248.7,332.6 1249.0,334.6 1249.3,336.6 1249.6,338.5 1249.9,340.5 1250.2,342.5 1250.5,344.5 1250.9,346.4 1251.2,348.4 1251.5,350.4 1251.8,352.4 1252.1,354.3 1252.4,356.3 1252.8,358.3 1253.1,360.3 1253.4,362.2 1253.8,364.2 1254.1,366.2 1254.4,368.1 1254.8,370.1 1255.1,372.1 1255.4,374.1 1255.8,376.0 1256.1,378.0 1256.5,380.0 1256.9,381.9 1257.2,383.9 1257.6,385.9 1258.0,387.8 1258.3,389.8 1258.7,391.8 1259.1,393.7 1259.5,395.7 1259.9,397.6 1260.2,399.6 1260.6,401.6 1261.0,403.5 1261.4,405.5 1261.8,407.5 1262.1,409.4 1262.5,411.4 1262.9,413.4 1263.2,415.3 1263.6,417.3 1264.0,419.3 1264.4,421.2 1264.7,423.2 1265.1,425.1 1265.5,427.1 1265.9,429.1 1266.3,431.0 1266.7,433.0 1267.1,434.9 1267.5,436.9 1267.9,438.9 1268.4,440.8 1268.8,442.8 1269.3,444.7 1269.7,446.7 1270.2,448.6 1270.6,450.5 1271.1,452.5 1271.6,454.4 1272.1,456.4 1272.6,458.3 1273.1,460.2 1273.6,462.2 1274.1,464.1 1274.6,466.0 1275.1,468.0 1275.7,469.9 1276.2,471.8 1276.7,473.7 1277.3,475.7 1277.9,477.6 1278.5,479.5 1279.2,481.3 1279.8,483.2 1280.5,485.1 1281.3,486.9 1282.1,488.7 1282.9,490.5 1283.7,492.3 1284.6,494.1 1285.5,495.9 1286.5,497.6 1287.5,499.4 1288.5,501.1 1289.5,502.8 1290.6,504.5 1291.7,506.1 1292.8,507.8 1293.9,509.5 1295.0,511.1 1296.2,512.7 1297.4,514.3 1298.6,515.9 1299.8,517.5 1301.1,519.0 1302.3,520.6 1303.6,522.1 1304.9,523.6 1306.3,525.0 1307.7,526.5 1309.1,527.8 1310.5,529.2 1312.0,530.5 1313.5,531.8 1315.1,533.0 1316.6,534.1 1318.3,535.2 1319.9,536.3 1321.6,537.3 1323.3,538.3 1325.1,539.2 1326.9,540.0 1328.7,540.9 1330.5,541.6 1332.3,542.4 1334.2,543.1 1336.1,543.8 1338.0,544.4 1339.8,545.0 1341.8,545.6 1343.7,546.2 1345.6,546.7 1347.5,547.2 1349.5,547.7 1351.4,548.1 1353.4,548.6 1355.3,549.0 1357.3,549.4 1359.2,549.7 1361.2,550.1 1363.2,550.5 1365.1,550.8 1367.1,551.2 1369.1,551.5 1371.0,551.9 1373.0,552.2 1375.0,552.5 1376.9,552.8 1378.9,553.1 1380.9,553.4 1382.9,553.7 1384.9,554.0 1386.8,554.3 1388.8,554.6 1390.8,554.8 1392.8,555.1 1394.8,555.3 1396.8,555.6 1398.7,555.8 1400.7,556.0 1402.7,556.3 1404.7,556.5 1406.7,556.7 1408.7,556.9 1410.7,557.1 1412.7,557.3 1414.6,557.5 1416.6,557.7 1418.6,557.9 1420.6,558.1 1422.6,558.2 1424.6,558.4 1426.6,558.5 1428.6,558.7 1430.6,558.8 1432.6,559.0 1434.6,559.1 1436.6,559.2 1438.6,559.4 1440.6,559.5 1442.6,559.6 1444.6,559.7 1446.6,559.8 1448.6,559.9 1450.6,560.0 1452.6,560.1 1454.5,560.2 1456.5,560.3 1458.5,560.4 1460.5,560.4 1462.5,560.5 1464.5,560.6 1466.5,560.7 1468.5,560.7 1470.5,560.8 1472.5,560.9 1474.5,561.0 1476.5,561.0 1478.5,561.1 1480.5,561.1 1482.5,561.2 1484.5,561.3 1486.5,561.3 1488.5,561.4 1490.5,561.4 1492.5,561.5 1494.5,561.5 1496.5,561.6 1498.5,561.6 1500.5,561.7 1502.5,561.7 1504.5,561.7 1506.5,561.8 1508.5,561.8 1510.5,561.9 1512.5,561.9 1514.5,561.9 1516.5,562.0 1518.5,562.0 1520.5,562.0 1522.5,562.1 1524.5,562.1 1526.5,562.1 1528.5,562.2 1530.5,562.2 1532.5,562.2 1534.5,562.3 1536.5,562.3 1538.5,562.3 1540.5,562.3 1542.5,562.4 1544.5,562.4 1546.5,562.4 1548.5,562.4 1550.5,562.5 1552.5,562.5 1554.5,562.5 1556.5,562.5 1558.5,562.5 1560.5,562.6 1562.5,562.6 1564.5,562.6 1566.5,562.6 1568.5,562.6 1570.5,562.7 1572.5,562.7 1574.5,562.7 1576.5,562.7 1578.5,562.7 1580.5,562.7 1582.5,562.8 1584.5,562.8 1586.5,562.8 1588.5,562.8 1590.5,562.8 1592.5,562.8 1594.5,562.9 1596.5,562.9 1598.5,562.9 1600.5,562.9 1602.5,562.9 1604.5,562.9 1606.5,563.0 1608.5,563.0 1610.5,563.0 1612.5,563.0 1614.5,563.0 1616.5,563.0 1618.5,563.0 1620.5,563.1 1622.5,563.1 1624.5,563.1 1626.5,563.1 1628.5,563.1 1630.5,563.1 1632.5,563.1 1634.5,563.2 1636.5,563.2 1638.5,563.2 1640.5,563.2 1642.5,563.2 1644.5,563.2 1646.5,563.2 1648.5,563.3 1650.5,563.3 1652.5,563.3 1654.5,563.3 1656.5,563.3 1658.5,563.3 1660.5,563.3 1662.5,563.3 1664.5,563.4 1666.5,563.4 1668.5,563.4 1670.5,563.4 1672.5,563.4 1674.5,563.4 1676.5,563.4 1678.5,563.4 1680.5,563.5 1682.5,563.5 1684.5,563.5 1686.5,563.5 1688.5,563.5 1690.5,563.5 1692.5,563.5 1694.5,563.6 1696.5,563.6 1698.5,563.6 1700.5,563.6 1702.5,563.6 1704.5,563.6 1706.5,563.6 1708.5,563.6 1710.5,563.7 1712.5,563.7 1714.3,563.7 1715.0,563.7" stroke="#008000" stroke-width="2.4" fill="none" stroke-linejoin="round" stroke-linecap="round"/>
<path d="M968.4,563.6 968.1,562.7 969.5,562.0 971.4,561.9 973.4,562.0 975.4,562.4 977.4,562.9 979.4,562.3 981.4,562.0 983.4,562.2 985.4,562.7 987.4,562.4 989.4,562.6 991.4,563.0 993.4,562.9 995.4,562.7 997.4,563.4 999.4,563.3 1001.4,563.4 1003.4,563.4 1005.4,563.5 1007.4,562.8 1009.4,562.6 1011.4,563.0 1013.4,563.3 1015.4,563.0 1017.4,563.2 1019.4,563.1 1021.4,562.3 1023.4,562.8 1025.4,562.7 1027.4,561.9 1029.4,561.6 1031.3,561.5 1033.3,561.5 1035.3,561.1 1037.3,561.2 1039.3,561.0 1041.2,559.9 1043.2,559.9 1045.2,559.6 1047.2,559.2 1049.1,559.0 1051.1,558.5 1053.1,557.9 1055.0,557.7 1057.0,557.4 1058.9,557.0 1060.9,556.6 1062.9,556.4 1064.8,555.9 1066.8,555.5 1068.7,555.0 1070.7,554.6 1072.6,554.2 1074.6,553.7 1076.5,553.3 1078.5,552.8 1080.4,552.4 1082.4,552.0 1084.3,551.5 1086.3,551.1 1088.2,550.7 1090.2,550.3 1092.2,549.9 1094.1,549.5 1096.1,549.1 1098.0,548.7 1100.0,548.3 1102.0,548.0 1103.9,547.6 1105.9,547.3 1107.9,546.9 1109.9,546.6 1111.8,546.2 1113.8,545.9 1115.8,545.5 1117.7,545.2 1119.7,544.8 1121.7,544.4 1123.6,544.1 1125.6,543.7 1127.5,543.2 1129.5,542.8 1131.4,542.4 1133.4,541.9 1135.3,541.4 1137.2,540.9 1139.1,540.4 1141.0,539.8 1142.9,539.2 1144.8,538.6 1146.7,537.9 1148.5,537.2 1150.4,536.4 1152.2,535.6 1153.9,534.7 1155.7,533.8 1157.4,532.9 1159.1,531.9 1160.8,530.8 1162.5,529.7 1164.1,528.6 1165.7,527.5 1167.3,526.3 1168.9,525.0 1170.4,523.8 1172.0,522.5 1173.5,521.2 1174.9,519.9 1176.4,518.5 1177.8,517.1 1179.3,515.7 1180.7,514.3 1182.1,512.9 1183.4,511.4 1184.8,509.9 1186.1,508.4 1187.4,506.9 1188.6,505.4 1189.9,503.8 1191.1,502.3 1192.3,500.7 1193.5,499.1 1194.7,497.5 1195.8,495.8 1196.9,494.2 1198.0,492.5 1199.1,490.8 1200.1,489.1 1201.2,487.4 1202.2,485.7 1203.1,483.9 1204.1,482.2 1205.0,480.4 1205.9,478.7 1206.8,476.9 1207.7,475.1 1208.5,473.3 1209.3,471.4 1210.1,469.6 1210.8,467.7 1211.6,465.9 1212.3,464.0 1212.9,462.1 1213.6,460.3 1214.2,458.4 1214.8,456.5 1215.4,454.6 1216.0,452.6 1216.6,450.7 1217.1,448.8 1217.6,446.9 1218.1,444.9 1218.6,443.0 1219.1,441.1 1219.6,439.1 1220.1,437.2 1220.5,435.2 1221.0,433.3 1221.4,431.3 1221.9,429.4 1222.3,427.4 1222.7,425.5 1223.1,423.5 1223.6,421.6 1224.0,419.6 1224.4,417.7 1224.8,415.7 1225.2,413.7 1225.6,411.8 1225.9,409.8 1226.3,407.9 1226.7,405.9 1227.1,403.9 1227.4,402.0 1227.8,400.0 1228.1,398.0 1228.5,396.1 1228.8,394.1 1229.1,392.1 1229.5,390.1 1229.8,388.2 1230.1,386.2 1230.4,384.2 1230.7,382.2 1231.0,380.3 1231.4,378.3 1231.6,376.3 1231.9,374.3 1232.2,372.3 1232.5,370.4 1232.8,368.4 1233.1,366.4 1233.4,364.4 1233.6,362.4 1233.9,360.5 1234.1,358.5 1234.4,356.5 1234.7,354.5 1234.9,352.5 1235.1,350.5 1235.4,348.6 1235.6,346.6 1235.9,344.6 1236.1,342.6 1236.3,340.6 1236.6,338.6 1236.8,336.6 1237.1,334.7 1237.3,332.7 1237.6,330.7 1237.8,328.7 1238.1,326.7 1238.3,324.7 1238.6,322.8 1238.9,320.8 1239.1,318.8 1239.4,316.8 1239.7,314.8 1240.0,312.9 1240.3,310.9 1240.6,308.9 1240.9,306.9 1241.2,305.0 1241.5,303.0 1241.8,301.0 1242.2,299.0 1242.5,297.1 1242.9,295.1 1243.2,293.1 1243.6,291.2 1244.0,289.2 1244.4,287.2 1244.8,285.3 1245.2,283.3 1245.6,281.4 1246.0,279.4 1246.4,277.5 1246.9,275.5 1247.3,273.6 1247.7,271.6 1248.2,269.7 1248.7,267.7 1249.1,265.8 1249.6,263.8 1250.1,261.9 1250.6,259.9 1251.1,258.0 1251.6,256.1 1252.2,254.2 1252.8,252.3 1253.5,250.4 1254.3,248.6 1255.3,247.2 1256.6,246.8 1257.8,247.7 1258.7,249.3 1259.4,251.1 1260.0,253.0 1260.5,255.0 1261.0,256.9 1261.4,258.9 1261.8,260.8 1262.2,262.8 1262.6,264.7 1263.0,266.7 1263.5,268.7 1263.8,270.6 1264.2,272.6 1264.6,274.5 1265.0,276.5 1265.3,278.5 1265.7,280.4 1266.1,282.4 1266.4,284.4 1266.8,286.4 1267.1,288.3 1267.4,290.3 1267.8,292.3 1268.1,294.2 1268.4,296.2 1268.7,298.2 1269.0,300.2 1269.3,302.1 1269.6,304.1 1269.9,306.1 1270.2,308.1 1270.5,310.1 1270.8,312.0 1271.1,314.0 1271.4,316.0 1271.7,318.0 1272.0,319.9 1272.3,321.9 1272.6,323.9 1272.8,325.9 1273.1,327.9 1273.4,329.8 1273.7,331.8 1274.0,333.8 1274.3,335.8 1274.5,337.8 1274.8,339.7 1275.1,341.7 1275.4,343.7 1275.6,345.7 1275.9,347.7 1276.2,349.6 1276.5,351.6 1276.7,353.6 1277.0,355.6 1277.3,357.6 1277.5,359.6 1277.8,361.5 1278.1,363.5 1278.4,365.5 1278.7,367.5 1279.0,369.5 1279.2,371.4 1279.5,373.4 1279.8,375.4 1280.1,377.4 1280.5,379.3 1280.8,381.3 1281.1,383.3 1281.4,385.3 1281.8,387.2 1282.1,389.2 1282.5,391.2 1282.8,393.1 1283.2,395.1 1283.5,397.1 1283.9,399.0 1284.3,401.0 1284.6,403.0 1285.0,404.9 1285.3,406.9 1285.7,408.9 1286.1,410.8 1286.5,412.8 1286.8,414.8 1287.2,416.7 1287.7,418.7 1288.1,420.6 1288.5,422.6 1289.0,424.5 1289.4,426.5 1289.9,428.4 1290.3,430.4 1290.8,432.3 1291.3,434.2 1291.8,436.2 1292.3,438.1 1292.7,440.1 1293.2,442.0 1293.7,443.9 1294.2,445.9 1294.7,447.8 1295.2,449.8 1295.7,451.7 1296.2,453.6 1296.7,455.6 1297.2,457.5 1297.7,459.4 1298.2,461.4 1298.7,463.3 1299.2,465.2 1299.8,467.2 1300.3,469.1 1300.9,471.0 1301.4,472.9 1302.0,474.8 1302.6,476.7 1303.2,478.6 1303.9,480.5 1304.6,482.4 1305.2,484.3 1306.0,486.1 1306.7,488.0 1307.5,489.8 1308.2,491.6 1309.1,493.5 1309.9,495.3 1310.7,497.1 1311.6,498.9 1312.5,500.7 1313.4,502.5 1314.3,504.3 1315.2,506.1 1316.1,507.8 1317.0,509.6 1317.9,511.4 1318.9,513.1 1319.8,514.9 1320.8,516.6 1321.8,518.3 1322.8,520.0 1323.9,521.7 1324.9,523.4 1326.1,525.0 1327.2,526.6 1328.4,528.1 1329.7,529.6 1331.0,531.0 1332.4,532.4 1333.8,533.7 1335.3,534.9 1336.9,536.1 1338.5,537.2 1340.1,538.3 1341.8,539.2 1343.5,540.1 1345.3,541.0 1347.1,541.8 1348.9,542.5 1350.8,543.2 1352.6,543.9 1354.5,544.5 1356.4,545.1 1358.3,545.7 1360.2,546.2 1362.2,546.7 1364.1,547.2 1366.0,547.7 1368.0,548.2 1369.9,548.7 1371.9,549.1 1373.8,549.6 1375.8,550.0 1377.7,550.4 1379.7,550.9 1381.6,551.3 1383.6,551.7 1385.5,552.1 1387.5,552.5 1389.5,552.9 1391.4,553.3 1393.4,553.7 1395.3,554.1 1397.3,554.4 1399.3,554.8 1401.2,555.2 1403.2,555.5 1405.2,555.8 1407.2,556.1 1409.1,556.4 1411.1,556.7 1413.1,557.0 1415.1,557.2 1417.1,557.5 1419.0,557.7 1421.0,557.9 1423.0,558.0 1425.0,558.2 1427.0,558.4 1429.0,558.5 1431.0,558.6 1433.0,558.8 1435.0,558.9 1437.0,559.0 1439.0,559.1 1441.0,559.2 1443.0,559.3 1445.0,559.4 1447.0,559.5 1449.0,559.6 1451.0,559.7 1453.0,559.8 1455.0,559.9 1457.0,560.0 1459.0,560.0 1461.0,560.1 1462.9,560.2 1464.9,560.3 1466.9,560.3 1468.9,560.4 1470.9,560.5 1472.9,560.5 1474.9,560.6 1476.9,560.7 1478.9,560.7 1480.9,560.8 1482.9,560.8 1484.9,560.9 1486.9,560.9 1488.9,561.0 1490.9,561.1 1492.9,561.1 1494.9,561.2 1496.9,561.2 1498.9,561.3 1500.9,561.3 1502.9,561.3 1504.9,561.4 1506.9,561.4 1508.9,561.5 1510.9,561.5 1512.9,561.6 1514.9,561.6 1516.9,561.6 1518.9,561.7 1520.9,561.7 1522.9,561.8 1524.9,561.8 1526.9,561.8 1528.9,561.9 1530.9,561.9 1532.9,561.9 1534.9,562.0 1536.9,562.0 1538.9,562.0 1540.9,562.1 1542.9,562.1 1544.9,562.1 1546.9,562.1 1548.9,562.2 1550.9,562.2 1552.9,562.2 1554.9,562.3 1556.9,562.3 1558.9,562.3 1560.9,562.3 1562.9,562.3 1564.9,562.4 1566.9,562.4 1568.9,562.4 1570.9,562.4 1572.9,562.5 1574.9,562.5 1576.9,562.5 1578.9,562.5 1580.9,562.5 1582.9,562.6 1584.9,562.6 1586.9,562.6 1588.9,562.6 1590.9,562.6 1592.9,562.7 1594.9,562.7 1596.9,562.7 1598.9,562.7 1600.9,562.7 1602.9,562.7 1604.9,562.8 1606.9,562.8 1608.9,562.8 1610.9,562.8 1612.9,562.8 1614.9,562.8 1616.9,562.9 1618.9,562.9 1620.9,562.9 1622.9,562.9 1624.9,562.9 1626.9,562.9 1628.9,563.0 1630.9,563.0 1632.9,563.0 1634.9,563.0 1636.9,563.0 1638.9,563.0 1640.9,563.0 1642.9,563.1 1644.9,563.1 1646.9,563.1 1648.9,563.1 1650.9,563.1 1652.9,563.1 1654.9,563.2 1656.9,563.2 1658.9,563.2 1660.9,563.2 1662.9,563.2 1664.9,563.2 1666.9,563.2 1668.9,563.3 1670.9,563.3 1672.9,563.3 1674.9,563.3 1676.9,563.3 1678.9,563.3 1680.9,563.3 1682.9,563.4 1684.9,563.4 1686.9,563.4 1688.9,563.4 1690.9,563.4 1692.9,563.4 1694.9,563.4 1696.9,563.5 1698.9,563.5 1700.9,563.5 1702.9,563.5 1704.9,563.5 1706.9,563.5 1708.9,563.5 1710.9,563.6 1712.9,563.6 1714.7,563.6 1715.4,563.6" stroke="#8000ff" stroke-width="2.4" fill="none" stroke-linejoin="round" stroke-linecap="round"/>
<path d="M968.3,563.5 967.1,563.6 967.2,563.3 968.8,562.3 970.7,562.1 972.7,562.4 974.7,562.3 976.7,562.6 978.7,562.9 980.7,562.7 982.7,562.4 984.7,561.6 986.7,562.3 988.7,562.3 990.7,562.0 992.7,562.1 994.7,561.8 996.7,561.6 998.7,561.5 1000.7,561.9 1002.7,561.9 1004.7,562.3 1006.7,562.9 1008.7,562.7 1010.7,562.4 1012.7,563.0 1014.7,563.3 1016.7,563.0 1018.7,562.9 1020.7,562.7 1022.7,562.6 1024.7,563.2 1026.7,563.2 1028.7,562.9 1030.7,562.8 1032.7,562.9 1034.7,563.2 1036.7,562.5 1038.7,561.8 1040.7,562.4 1042.7,562.7 1044.7,562.5 1046.7,561.8 1048.7,561.5 1050.7,562.2 1052.7,561.5 1054.6,561.3 1056.6,561.1 1058.6,560.7 1060.6,560.5 1062.6,560.1 1064.6,559.9 1066.6,560.0 1068.6,560.3 1070.6,560.7 1072.6,559.9 1074.6,559.9 1076.6,559.5 1078.5,558.9 1080.5,558.5 1082.5,558.6 1084.5,558.4 1086.5,558.4 1088.5,558.2 1090.5,557.9 1092.5,557.9 1094.5,557.7 1096.4,557.4 1098.4,557.2 1100.4,557.0 1102.4,556.8 1104.4,556.5 1106.4,556.2 1108.3,555.9 1110.3,555.6 1112.3,555.3 1114.3,554.9 1116.2,554.6 1118.2,554.2 1120.2,553.9 1122.1,553.5 1124.1,553.1 1126.0,552.7 1128.0,552.4 1130.0,552.0 1131.9,551.6 1133.9,551.3 1135.9,550.9 1137.8,550.5 1139.8,550.2 1141.8,549.8 1143.7,549.5 1145.7,549.1 1147.6,548.7 1149.6,548.3 1151.5,547.8 1153.5,547.4 1155.4,546.9 1157.3,546.4 1159.2,545.8 1161.1,545.3 1163.0,544.6 1164.9,544.0 1166.8,543.3 1168.6,542.6 1170.5,541.8 1172.3,541.1 1174.1,540.3 1175.9,539.4 1177.7,538.5 1179.5,537.6 1181.3,536.7 1183.0,535.8 1184.7,534.8 1186.4,533.7 1188.1,532.7 1189.8,531.6 1191.4,530.5 1193.1,529.3 1194.7,528.1 1196.2,526.9 1197.8,525.7 1199.3,524.4 1200.8,523.1 1202.3,521.8 1203.7,520.4 1205.2,519.0 1206.6,517.6 1207.9,516.2 1209.3,514.7 1210.6,513.2 1211.9,511.7 1213.2,510.2 1214.5,508.6 1215.7,507.1 1216.9,505.5 1218.1,503.9 1219.2,502.3 1220.4,500.6 1221.5,499.0 1222.5,497.3 1223.6,495.6 1224.6,493.9 1225.5,492.1 1226.5,490.4 1227.4,488.6 1228.3,486.8 1229.1,485.0 1230.0,483.2 1230.8,481.4 1231.6,479.6 1232.4,477.7 1233.1,475.9 1233.8,474.0 1234.6,472.1 1235.2,470.3 1235.9,468.4 1236.6,466.5 1237.2,464.6 1237.8,462.7 1238.4,460.8 1239.0,458.9 1239.5,457.0 1240.0,455.0 1240.5,453.1 1241.0,451.2 1241.5,449.2 1241.9,447.3 1242.3,445.3 1242.8,443.4 1243.2,441.4 1243.6,439.5 1244.0,437.5 1244.3,435.5 1244.7,433.6 1245.1,431.6 1245.5,429.7 1245.9,427.7 1246.3,425.7 1246.7,423.8 1247.1,421.8 1247.5,419.8 1247.9,417.9 1248.3,415.9 1248.7,414.0 1249.1,412.0 1249.5,410.1 1249.9,408.1 1250.3,406.1 1250.7,404.2 1251.2,402.2 1251.6,400.3 1252.0,398.3 1252.4,396.4 1252.9,394.4 1253.3,392.5 1253.7,390.5 1254.2,388.6 1254.6,386.6 1255.0,384.6 1255.4,382.7 1255.8,380.7 1256.2,378.8 1256.6,376.8 1257.0,374.9 1257.4,372.9 1257.8,370.9 1258.2,369.0 1258.6,367.0 1258.9,365.0 1259.3,363.1 1259.6,361.1 1260.0,359.1 1260.4,357.2 1260.7,355.2 1261.0,353.2 1261.4,351.3 1261.7,349.3 1262.1,347.3 1262.4,345.4 1262.8,343.4 1263.2,341.4 1263.5,339.5 1263.9,337.5 1264.3,335.5 1264.6,333.6 1265.0,331.6 1265.4,329.6 1265.8,327.7 1266.1,325.7 1266.5,323.7 1266.9,321.8 1267.3,319.8 1267.7,317.8 1268.1,315.9 1268.4,313.9 1268.8,312.0 1269.2,310.0 1269.6,308.0 1270.0,306.1 1270.4,304.1 1270.7,302.1 1271.1,300.2 1271.5,298.2 1271.9,296.3 1272.3,294.3 1272.7,292.3 1273.1,290.4 1273.5,288.4 1273.9,286.5 1274.3,284.5 1274.8,282.6 1275.2,280.6 1275.7,278.7 1276.1,276.7 1276.6,274.8 1277.1,272.8 1277.7,270.9 1278.3,269.0 1279.1,267.3 1280.2,266.2 1281.4,266.2 1282.4,267.4 1283.2,269.2 1283.7,271.1 1284.2,273.0 1284.7,275.0 1285.1,276.9 1285.4,278.9 1285.8,280.8 1286.2,282.8 1286.7,284.7 1287.2,286.7 1287.8,288.6 1288.3,290.5 1288.9,292.4 1289.4,294.3 1289.8,296.2 1290.3,298.2 1290.7,300.1 1291.1,302.0 1291.4,304.0 1291.8,305.9 1292.1,307.9 1292.4,309.9 1292.7,311.8 1293.0,313.8 1293.3,315.8 1293.5,317.8 1293.8,319.8 1294.0,321.7 1294.2,323.7 1294.5,325.7 1294.7,327.7 1294.9,329.7 1295.2,331.7 1295.4,333.7 1295.7,335.6 1295.9,337.6 1296.2,339.6 1296.4,341.6 1296.7,343.6 1297.0,345.6 1297.2,347.5 1297.5,349.5 1297.8,351.5 1298.1,353.5 1298.4,355.5 1298.7,357.4 1299.0,359.4 1299.2,361.4 1299.5,363.4 1299.9,365.3 1300.2,367.3 1300.5,369.3 1300.8,371.3 1301.1,373.2 1301.4,375.2 1301.8,377.2 1302.1,379.2 1302.5,381.1 1302.8,383.1 1303.2,385.1 1303.5,387.0 1303.9,389.0 1304.3,391.0 1304.6,392.9 1305.0,394.9 1305.4,396.9 1305.8,398.8 1306.1,400.8 1306.5,402.8 1306.8,404.7 1307.2,406.7 1307.5,408.7 1307.9,410.6 1308.2,412.6 1308.6,414.6 1309.0,416.5 1309.3,418.5 1309.7,420.5 1310.0,422.4 1310.4,424.4 1310.8,426.4 1311.2,428.3 1311.5,430.3 1311.9,432.2 1312.3,434.2 1312.7,436.2 1313.2,438.1 1313.6,440.1 1314.0,442.0 1314.5,444.0 1314.9,445.9 1315.4,447.9 1315.9,449.8 1316.4,451.7 1316.9,453.7 1317.4,455.6 1318.0,457.5 1318.5,459.4 1319.1,461.4 1319.6,463.3 1320.2,465.2 1320.8,467.1 1321.3,469.0 1321.9,470.9 1322.5,472.8 1323.1,474.8 1323.7,476.7 1324.3,478.6 1324.9,480.5 1325.5,482.4 1326.1,484.3 1326.7,486.2 1327.4,488.1 1328.0,490.0 1328.7,491.8 1329.4,493.7 1330.1,495.6 1330.9,497.4 1331.6,499.3 1332.4,501.1 1333.3,502.9 1334.1,504.7 1335.0,506.5 1335.9,508.2 1336.9,510.0 1337.9,511.7 1338.9,513.4 1339.9,515.1 1341.0,516.7 1342.2,518.4 1343.3,520.0 1344.5,521.5 1345.8,523.1 1347.1,524.6 1348.4,526.0 1349.8,527.5 1351.2,528.9 1352.6,530.2 1354.1,531.5 1355.6,532.8 1357.2,534.0 1358.8,535.2 1360.4,536.3 1362.0,537.4 1363.7,538.4 1365.4,539.4 1367.2,540.3 1368.9,541.3 1370.7,542.1 1372.5,543.0 1374.4,543.8 1376.2,544.5 1378.0,545.3 1379.9,546.0 1381.8,546.7 1383.6,547.4 1385.5,548.0 1387.4,548.6 1389.3,549.2 1391.3,549.7 1393.2,550.2 1395.1,550.7 1397.0,551.2 1399.0,551.6 1400.9,552.1 1402.9,552.5 1404.8,552.9 1406.8,553.3 1408.8,553.7 1410.7,554.0 1412.7,554.4 1414.7,554.7 1416.6,555.1 1418.6,555.4 1420.6,555.7 1422.6,556.0 1424.5,556.3 1426.5,556.5 1428.5,556.7 1430.5,557.0 1432.5,557.2 1434.5,557.4 1436.5,557.5 1438.4,557.7 1440.4,557.9 1442.4,558.0 1444.4,558.1 1446.4,558.3 1448.4,558.4 1450.4,558.5 1452.4,558.6 1454.4,558.8 1456.4,558.9 1458.4,559.0 1460.4,559.1 1462.4,559.2 1464.4,559.3 1466.4,559.4 1468.4,559.5 1470.4,559.6 1472.4,559.7 1474.4,559.8 1476.4,559.9 1478.4,560.0 1480.4,560.0 1482.4,560.1 1484.4,560.2 1486.4,560.3 1488.4,560.4 1490.4,560.4 1492.4,560.5 1494.4,560.6 1496.4,560.7 1498.4,560.7 1500.4,560.8 1502.4,560.9 1504.4,560.9 1506.4,561.0 1508.4,561.0 1510.4,561.1 1512.4,561.2 1514.4,561.2 1516.4,561.3 1518.4,561.3 1520.3,561.4 1522.3,561.4 1524.3,561.5 1526.3,561.5 1528.3,561.5 1530.3,561.6 1532.3,561.6 1534.3,561.7 1536.3,561.7 1538.3,561.7 1540.3,561.8 1542.3,561.8 1544.3,561.8 1546.3,561.9 1548.3,561.9 1550.3,561.9 1552.3,562.0 1554.3,562.0 1556.3,562.0 1558.3,562.0 1560.3,562.1 1562.3,562.1 1564.3,562.1 1566.3,562.1 1568.3,562.2 1570.3,562.2 1572.3,562.2 1574.3,562.2 1576.3,562.3 1578.3,562.3 1580.3,562.3 1582.3,562.3 1584.3,562.4 1586.3,562.4 1588.3,562.4 1590.3,562.4 1592.3,562.4 1594.3,562.5 1596.3,562.5 1598.3,562.5 1600.3,562.5 1602.3,562.5 1604.3,562.6 1606.3,562.6 1608.3,562.6 1610.3,562.6 1612.3,562.6 1614.3,562.7 1616.3,562.7 1618.3,562.7 1620.3,562.7 1622.3,562.7 1624.3,562.7 1626.3,562.8 1628.3,562.8 1630.3,562.8 1632.3,562.8 1634.3,562.8 1636.3,562.8 1638.3,562.9 1640.3,562.9 1642.3,562.9 1644.3,562.9 1646.3,562.9 1648.3,562.9 1650.3,563.0 1652.3,563.0 1654.3,563.0 1656.3,563.0 1658.3,563.0 1660.3,563.0 1662.3,563.1 1664.3,563.1 1666.3,563.1 1668.3,563.1 1670.3,563.1 1672.3,563.1 1674.3,563.2 1676.3,563.2 1678.3,563.2 1680.3,563.2 1682.3,563.2 1684.3,563.2 1686.3,563.2 1688.3,563.3 1690.3,563.3 1692.3,563.3 1694.3,563.3 1696.3,563.3 1698.3,563.3 1700.3,563.4 1702.3,563.4 1704.3,563.4 1706.3,563.4 1708.3,563.4 1710.3,563.4 1712.3,563.5 1714.1,563.5 1714.8,563.5" stroke="#ff8000" stroke-width="2.4" fill="none" stroke-linejoin="round" stroke-linecap="round"/>
<path d="M969.0,563.6 969.6,562.1 969.6,561.1 969.2,561.0 970.1,561.4 971.8,561.1 973.8,561.7 975.8,561.6 977.8,561.4 979.8,561.0 981.8,560.9 983.8,561.6 985.8,562.2 987.8,562.4 989.8,562.5 991.8,562.2 993.8,562.3 995.8,562.1 997.8,561.9 999.8,562.1 1001.8,562.3 1003.8,562.7 1005.8,562.6 1007.8,562.6 1009.8,563.0 1011.8,563.1 1013.8,562.8 1015.8,562.7 1017.8,563.0 1019.8,563.1 1021.8,562.5 1023.8,562.7 1025.8,563.9 1027.8,563.3 1029.8,562.6 1031.8,562.0 1033.8,562.3 1035.8,562.6 1037.8,562.5 1039.8,562.5 1041.8,562.6 1043.8,562.9 1045.8,562.8 1047.8,561.9 1049.8,561.8 1051.8,562.3 1053.7,562.2 1055.7,561.5 1057.7,561.1 1059.7,561.2 1061.7,561.6 1063.7,561.8 1065.7,561.9 1067.7,561.4 1069.7,560.8 1071.7,561.4 1073.7,561.0 1075.7,560.3 1077.6,560.1 1079.6,560.1 1081.6,559.5 1083.6,559.2 1085.6,559.3 1087.6,559.2 1089.6,558.5 1091.6,558.4 1093.5,557.7 1095.5,557.7 1097.5,557.8 1099.5,557.6 1101.5,557.2 1103.5,557.1 1105.5,556.9 1107.4,556.6 1109.4,556.3 1111.4,556.1 1113.4,555.8 1115.4,555.6 1117.4,555.3 1119.3,555.1 1121.3,554.8 1123.3,554.6 1125.3,554.3 1127.3,554.1 1129.3,553.8 1131.2,553.5 1133.2,553.3 1135.2,553.0 1137.2,552.8 1139.2,552.5 1141.2,552.2 1143.1,552.0 1145.1,551.7 1147.1,551.4 1149.1,551.1 1151.1,550.8 1153.0,550.5 1155.0,550.2 1157.0,549.9 1159.0,549.6 1160.9,549.2 1162.9,548.9 1164.8,548.5 1166.8,548.1 1168.8,547.7 1170.7,547.3 1172.7,546.8 1174.6,546.4 1176.6,545.9 1178.5,545.5 1180.4,545.0 1182.4,544.5 1184.3,544.0 1186.2,543.4 1188.2,542.9 1190.1,542.3 1192.0,541.7 1193.9,541.1 1195.8,540.5 1197.7,539.9 1199.5,539.2 1201.4,538.5 1203.3,537.8 1205.1,537.0 1206.9,536.2 1208.7,535.4 1210.5,534.5 1212.3,533.6 1214.0,532.7 1215.8,531.7 1217.5,530.7 1219.2,529.7 1220.9,528.6 1222.5,527.5 1224.1,526.3 1225.7,525.1 1227.3,523.9 1228.8,522.6 1230.3,521.3 1231.7,520.0 1233.1,518.6 1234.5,517.2 1235.8,515.7 1237.1,514.2 1238.4,512.7 1239.5,511.1 1240.7,509.5 1241.8,507.9 1242.9,506.2 1243.9,504.5 1244.9,502.8 1245.8,501.1 1246.8,499.3 1247.7,497.5 1248.6,495.7 1249.4,493.9 1250.2,492.1 1251.1,490.3 1251.9,488.5 1252.7,486.6 1253.4,484.8 1254.2,482.9 1254.9,481.1 1255.7,479.2 1256.4,477.4 1257.1,475.5 1257.7,473.6 1258.4,471.7 1259.1,469.8 1259.7,467.9 1260.4,466.0 1261.0,464.2 1261.6,462.2 1262.2,460.3 1262.8,458.4 1263.4,456.5 1264.0,454.6 1264.5,452.7 1265.1,450.8 1265.6,448.8 1266.2,446.9 1266.7,445.0 1267.2,443.1 1267.7,441.1 1268.2,439.2 1268.7,437.3 1269.2,435.3 1269.7,433.4 1270.1,431.4 1270.6,429.5 1271.1,427.5 1271.5,425.6 1271.9,423.6 1272.4,421.7 1272.8,419.7 1273.2,417.8 1273.7,415.8 1274.1,413.9 1274.5,411.9 1274.9,410.0 1275.3,408.0 1275.7,406.0 1276.1,404.1 1276.5,402.1 1276.9,400.2 1277.3,398.2 1277.7,396.2 1278.1,394.3 1278.4,392.3 1278.8,390.3 1279.2,388.4 1279.5,386.4 1279.9,384.4 1280.2,382.5 1280.6,380.5 1280.9,378.5 1281.3,376.6 1281.6,374.6 1281.9,372.6 1282.2,370.6 1282.5,368.7 1282.8,366.7 1283.1,364.7 1283.4,362.7 1283.8,360.8 1284.1,358.8 1284.4,356.8 1284.7,354.8 1285.0,352.9 1285.4,350.9 1285.7,348.9 1286.1,347.0 1286.4,345.0 1286.8,343.0 1287.2,341.1 1287.6,339.1 1288.0,337.1 1288.4,335.2 1288.8,333.2 1289.3,331.3 1289.7,329.3 1290.2,327.4 1290.6,325.4 1291.1,323.5 1291.6,321.6 1292.1,319.6 1292.6,317.7 1293.1,315.8 1293.6,313.8 1294.1,311.9 1294.6,309.9 1295.1,308.0 1295.6,306.1 1296.2,304.2 1296.7,302.2 1297.3,300.3 1297.9,298.4 1298.5,296.5 1299.1,294.6 1299.8,292.7 1300.6,290.9 1301.6,289.3 1302.8,288.3 1304.1,288.6 1305.2,289.8 1306.1,291.6 1306.7,293.5 1307.2,295.4 1307.8,297.3 1308.3,299.2 1308.7,301.2 1309.1,303.1 1309.5,305.1 1309.8,307.1 1310.1,309.1 1310.4,311.0 1310.7,313.0 1311.0,315.0 1311.2,317.0 1311.5,319.0 1311.8,320.9 1312.1,322.9 1312.3,324.9 1312.6,326.9 1312.9,328.9 1313.2,330.8 1313.5,332.8 1313.8,334.8 1314.1,336.8 1314.3,338.8 1314.6,340.7 1314.9,342.7 1315.2,344.7 1315.5,346.7 1315.8,348.6 1316.2,350.6 1316.5,352.6 1316.8,354.6 1317.1,356.5 1317.4,358.5 1317.7,360.5 1318.1,362.5 1318.4,364.4 1318.7,366.4 1319.1,368.4 1319.4,370.3 1319.8,372.3 1320.2,374.3 1320.5,376.2 1320.9,378.2 1321.3,380.2 1321.6,382.1 1322.0,384.1 1322.4,386.1 1322.8,388.0 1323.1,390.0 1323.5,392.0 1323.9,393.9 1324.3,395.9 1324.7,397.9 1325.0,399.8 1325.4,401.8 1325.8,403.7 1326.2,405.7 1326.5,407.7 1326.9,409.6 1327.3,411.6 1327.7,413.6 1328.1,415.5 1328.4,417.5 1328.8,419.5 1329.2,421.4 1329.6,423.4 1330.0,425.3 1330.3,427.3 1330.7,429.3 1331.1,431.2 1331.5,433.2 1331.9,435.2 1332.3,437.1 1332.8,439.1 1333.2,441.0 1333.6,443.0 1334.1,444.9 1334.5,446.9 1335.0,448.8 1335.4,450.8 1335.9,452.7 1336.4,454.6 1336.9,456.6 1337.4,458.5 1337.9,460.4 1338.4,462.4 1338.9,464.3 1339.5,466.2 1340.0,468.2 1340.6,470.1 1341.1,472.0 1341.7,473.9 1342.3,475.8 1342.8,477.7 1343.4,479.7 1344.0,481.6 1344.7,483.5 1345.3,485.4 1345.9,487.2 1346.6,489.1 1347.3,491.0 1348.0,492.9 1348.7,494.7 1349.5,496.6 1350.2,498.4 1351.0,500.2 1351.9,502.0 1352.8,503.8 1353.7,505.6 1354.6,507.3 1355.6,509.0 1356.7,510.7 1357.7,512.4 1358.8,514.0 1360.0,515.6 1361.2,517.2 1362.4,518.8 1363.6,520.4 1364.9,521.9 1366.2,523.4 1367.6,524.9 1368.9,526.3 1370.3,527.7 1371.7,529.1 1373.2,530.5 1374.6,531.8 1376.1,533.1 1377.6,534.4 1379.2,535.7 1380.8,536.8 1382.4,538.0 1384.0,539.1 1385.7,540.2 1387.4,541.2 1389.1,542.1 1390.9,543.1 1392.6,543.9 1394.4,544.7 1396.3,545.5 1398.1,546.3 1400.0,547.0 1401.8,547.6 1403.7,548.3 1405.6,548.9 1407.5,549.4 1409.4,550.0 1411.4,550.5 1413.3,551.0 1415.2,551.5 1417.2,552.0 1419.1,552.4 1421.1,552.8 1423.0,553.2 1425.0,553.6 1427.0,554.0 1428.9,554.3 1430.9,554.6 1432.9,554.9 1434.8,555.2 1436.8,555.5 1438.8,555.7 1440.8,556.0 1442.8,556.2 1444.8,556.5 1446.7,556.7 1448.7,556.9 1450.7,557.1 1452.7,557.3 1454.7,557.5 1456.7,557.6 1458.7,557.8 1460.7,558.0 1462.7,558.1 1464.7,558.3 1466.7,558.4 1468.7,558.6 1470.7,558.7 1472.7,558.8 1474.6,559.0 1476.6,559.1 1478.6,559.3 1480.6,559.4 1482.6,559.5 1484.6,559.6 1486.6,559.8 1488.6,559.9 1490.6,560.0 1492.6,560.1 1494.6,560.2 1496.6,560.3 1498.6,560.4 1500.6,560.5 1502.6,560.6 1504.6,560.7 1506.6,560.8 1508.6,560.8 1510.6,560.9 1512.6,561.0 1514.6,561.0 1516.6,561.1 1518.6,561.1 1520.6,561.2 1522.6,561.2 1524.6,561.3 1526.6,561.3 1528.6,561.4 1530.6,561.4 1532.6,561.4 1534.6,561.5 1536.6,561.5 1538.6,561.5 1540.6,561.6 1542.6,561.6 1544.6,561.6 1546.6,561.7 1548.6,561.7 1550.6,561.7 1552.6,561.7 1554.6,561.8 1556.6,561.8 1558.6,561.8 1560.6,561.8 1562.6,561.9 1564.6,561.9 1566.6,561.9 1568.6,561.9 1570.6,562.0 1572.6,562.0 1574.6,562.0 1576.6,562.0 1578.6,562.1 1580.6,562.1 1582.6,562.1 1584.6,562.1 1586.6,562.2 1588.6,562.2 1590.6,562.2 1592.6,562.2 1594.6,562.3 1596.6,562.3 1598.6,562.3 1600.6,562.3 1602.6,562.3 1604.6,562.4 1606.6,562.4 1608.6,562.4 1610.6,562.4 1612.6,562.4 1614.6,562.5 1616.6,562.5 1618.6,562.5 1620.6,562.5 1622.6,562.6 1624.6,562.6 1626.6,562.6 1628.6,562.6 1630.6,562.6 1632.6,562.7 1634.6,562.7 1636.6,562.7 1638.6,562.7 1640.6,562.7 1642.6,562.8 1644.6,562.8 1646.6,562.8 1648.6,562.8 1650.6,562.8 1652.6,562.9 1654.6,562.9 1656.6,562.9 1658.6,562.9 1660.6,562.9 1662.6,563.0 1664.6,563.0 1666.6,563.0 1668.6,563.0 1670.6,563.0 1672.6,563.1 1674.6,563.1 1676.6,563.1 1678.6,563.1 1680.6,563.1 1682.6,563.2 1684.6,563.2 1686.6,563.2 1688.6,563.2 1690.6,563.2 1692.6,563.3 1694.6,563.3 1696.6,563.3 1698.6,563.3 1700.6,563.3 1702.6,563.4 1704.6,563.4 1706.6,563.4 1708.6,563.4 1710.6,563.4 1712.5,563.5 1714.4,563.5 1715.1,563.5" stroke="#404040" stroke-width="2.4" fill="none" stroke-linejoin="round" stroke-linecap="round"/>
<path d="M968.9,562.9 969.4,560.8 970.0,559.8 971.2,559.7 972.6,559.3 973.6,559.8 974.2,560.3 975.0,561.3 976.4,561.2 978.2,561.4 980.2,562.4 982.2,562.5 984.2,561.6 986.2,560.8 988.2,561.1 990.2,562.1 992.2,562.3 994.2,562.0 996.2,562.8 998.2,562.8 1000.2,562.3 1002.2,562.5 1004.2,562.6 1006.2,562.6 1008.2,562.9 1010.2,562.8 1012.2,562.9 1014.2,563.3 1016.2,563.0 1018.2,562.3 1020.2,562.5 1022.2,562.5 1024.2,562.9 1026.2,562.9 1028.1,562.6 1030.1,563.4 1032.1,563.8 1034.1,563.1 1036.1,562.3 1038.1,562.5 1040.1,562.8 1042.1,562.9 1044.1,562.7 1046.1,562.2 1048.1,562.2 1050.1,563.0 1052.1,563.6 1054.1,562.7 1056.1,562.2 1058.1,562.4 1060.1,562.6 1062.1,561.6 1064.1,560.5 1066.1,560.8 1068.1,560.8 1070.1,560.5 1072.1,560.2 1074.1,560.8 1076.1,561.9 1078.1,561.4 1080.1,560.6 1082.1,559.9 1084.1,560.0 1086.1,560.3 1088.1,560.1 1090.1,560.1 1092.1,560.7 1094.1,560.5 1096.1,559.7 1098.0,558.9 1100.0,559.0 1102.0,558.7 1104.0,558.6 1106.0,558.7 1108.0,558.8 1110.0,558.5 1112.0,558.4 1114.0,558.2 1116.0,558.0 1118.0,557.9 1120.0,557.7 1122.0,557.5 1124.0,557.3 1126.0,557.2 1128.0,557.0 1129.9,556.8 1131.9,556.7 1133.9,556.5 1135.9,556.3 1137.9,556.2 1139.9,556.0 1141.9,555.8 1143.9,555.7 1145.9,555.5 1147.9,555.3 1149.9,555.1 1151.9,554.9 1153.8,554.7 1155.8,554.5 1157.8,554.3 1159.8,554.0 1161.8,553.8 1163.8,553.5 1165.7,553.2 1167.7,552.9 1169.7,552.6 1171.7,552.3 1173.6,552.0 1175.6,551.6 1177.6,551.3 1179.5,550.9 1181.5,550.5 1183.5,550.1 1185.4,549.7 1187.4,549.2 1189.3,548.8 1191.3,548.4 1193.2,547.9 1195.1,547.4 1197.1,546.9 1199.0,546.4 1200.9,545.9 1202.9,545.4 1204.8,544.8 1206.7,544.3 1208.6,543.7 1210.5,543.1 1212.5,542.5 1214.4,541.9 1216.2,541.3 1218.1,540.7 1220.0,540.0 1221.9,539.3 1223.8,538.6 1225.6,537.9 1227.5,537.2 1229.3,536.4 1231.2,535.7 1233.0,534.9 1234.8,534.0 1236.6,533.2 1238.3,532.3 1240.1,531.3 1241.8,530.4 1243.5,529.3 1245.1,528.2 1246.7,527.1 1248.3,525.9 1249.8,524.7 1251.4,523.4 1252.8,522.1 1254.3,520.8 1255.7,519.4 1257.1,518.0 1258.5,516.6 1259.9,515.1 1261.2,513.7 1262.5,512.2 1263.8,510.7 1265.1,509.1 1266.3,507.6 1267.5,506.0 1268.7,504.4 1269.8,502.8 1271.0,501.1 1272.0,499.4 1273.1,497.7 1274.0,496.0 1275.0,494.3 1275.9,492.5 1276.7,490.7 1277.6,488.9 1278.3,487.1 1279.1,485.3 1279.8,483.4 1280.4,481.5 1281.1,479.6 1281.7,477.7 1282.3,475.8 1282.9,473.9 1283.4,472.0 1284.0,470.1 1284.6,468.2 1285.1,466.3 1285.7,464.3 1286.2,462.4 1286.8,460.5 1287.4,458.6 1287.9,456.7 1288.5,454.7 1289.1,452.8 1289.6,450.9 1290.2,449.0 1290.7,447.1 1291.3,445.1 1291.8,443.2 1292.3,441.3 1292.9,439.4 1293.4,437.4 1293.9,435.5 1294.4,433.6 1294.8,431.6 1295.3,429.7 1295.7,427.7 1296.2,425.8 1296.6,423.8 1297.0,421.9 1297.4,419.9 1297.8,417.9 1298.2,416.0 1298.5,414.0 1298.9,412.0 1299.3,410.1 1299.6,408.1 1300.0,406.1 1300.3,404.2 1300.7,402.2 1301.1,400.3 1301.4,398.3 1301.8,396.3 1302.2,394.4 1302.5,392.4 1302.9,390.4 1303.3,388.5 1303.6,386.5 1304.0,384.5 1304.3,382.6 1304.7,380.6 1305.0,378.6 1305.3,376.6 1305.7,374.7 1306.0,372.7 1306.3,370.7 1306.6,368.7 1306.9,366.8 1307.2,364.8 1307.6,362.8 1307.9,360.8 1308.2,358.9 1308.5,356.9 1308.8,354.9 1309.1,352.9 1309.5,351.0 1309.8,349.0 1310.2,347.0 1310.5,345.1 1310.9,343.1 1311.3,341.1 1311.6,339.2 1312.1,337.2 1312.5,335.3 1312.9,333.3 1313.3,331.4 1313.8,329.4 1314.2,327.5 1314.7,325.5 1315.3,323.6 1315.8,321.7 1316.4,319.8 1316.9,317.9 1317.5,316.0 1318.1,314.0 1318.8,312.2 1319.5,310.3 1320.2,308.4 1321.0,306.6 1321.9,304.8 1323.1,303.4 1324.5,302.9 1325.8,303.5 1326.9,305.0 1327.8,306.7 1328.5,308.6 1329.2,310.5 1329.8,312.4 1330.4,314.3 1331.0,316.2 1331.6,318.1 1332.1,320.0 1332.6,322.0 1333.1,323.9 1333.5,325.9 1334.0,327.8 1334.4,329.8 1334.8,331.7 1335.2,333.7 1335.5,335.7 1335.9,337.6 1336.3,339.6 1336.7,341.5 1337.1,343.5 1337.4,345.5 1337.8,347.4 1338.1,349.4 1338.5,351.4 1338.8,353.3 1339.2,355.3 1339.5,357.3 1339.9,359.3 1340.2,361.2 1340.5,363.2 1340.8,365.2 1341.2,367.1 1341.5,369.1 1341.8,371.1 1342.1,373.1 1342.4,375.0 1342.7,377.0 1343.0,379.0 1343.4,381.0 1343.6,383.0 1343.9,384.9 1344.2,386.9 1344.5,388.9 1344.8,390.9 1345.1,392.9 1345.4,394.8 1345.6,396.8 1345.9,398.8 1346.2,400.8 1346.5,402.8 1346.7,404.7 1347.0,406.7 1347.3,408.7 1347.6,410.7 1347.8,412.7 1348.1,414.6 1348.4,416.6 1348.8,418.6 1349.1,420.6 1349.4,422.5 1349.7,424.5 1350.1,426.5 1350.5,428.4 1350.8,430.4 1351.2,432.4 1351.6,434.3 1352.0,436.3 1352.4,438.2 1352.9,440.2 1353.3,442.1 1353.8,444.1 1354.2,446.0 1354.7,448.0 1355.2,449.9 1355.6,451.9 1356.1,453.8 1356.6,455.7 1357.1,457.7 1357.6,459.6 1358.1,461.5 1358.7,463.5 1359.2,465.4 1359.7,467.3 1360.3,469.2 1360.8,471.2 1361.4,473.1 1362.0,475.0 1362.5,476.9 1363.1,478.8 1363.7,480.7 1364.3,482.6 1365.0,484.5 1365.6,486.4 1366.3,488.3 1366.9,490.2 1367.6,492.1 1368.3,493.9 1369.1,495.8 1369.8,497.6 1370.6,499.5 1371.4,501.3 1372.2,503.1 1373.1,504.9 1374.0,506.7 1374.9,508.4 1375.9,510.2 1376.8,511.9 1377.8,513.7 1378.8,515.4 1379.9,517.1 1381.0,518.7 1382.1,520.4 1383.2,522.0 1384.3,523.7 1385.5,525.3 1386.7,526.8 1387.9,528.3 1389.2,529.8 1390.6,531.3 1391.9,532.7 1393.4,534.0 1394.8,535.3 1396.3,536.5 1397.9,537.7 1399.5,538.9 1401.1,539.9 1402.8,540.9 1404.6,541.9 1406.3,542.8 1408.1,543.6 1409.9,544.4 1411.7,545.2 1413.6,545.9 1415.4,546.6 1417.3,547.3 1419.2,547.9 1421.1,548.5 1423.0,549.0 1424.9,549.6 1426.9,550.1 1428.8,550.5 1430.7,551.0 1432.7,551.4 1434.6,551.9 1436.6,552.3 1438.6,552.6 1440.5,553.0 1442.5,553.4 1444.5,553.7 1446.4,554.0 1448.4,554.4 1450.4,554.7 1452.4,555.0 1454.3,555.3 1456.3,555.5 1458.3,555.8 1460.3,556.1 1462.3,556.3 1464.2,556.6 1466.2,556.8 1468.2,557.1 1470.2,557.3 1472.2,557.5 1474.2,557.7 1476.2,557.9 1478.2,558.1 1480.1,558.3 1482.1,558.5 1484.1,558.7 1486.1,558.9 1488.1,559.0 1490.1,559.2 1492.1,559.3 1494.1,559.5 1496.1,559.6 1498.1,559.8 1500.1,559.9 1502.1,560.0 1504.1,560.1 1506.1,560.2 1508.1,560.3 1510.1,560.4 1512.1,560.5 1514.1,560.6 1516.1,560.6 1518.1,560.7 1520.1,560.7 1522.1,560.8 1524.0,560.8 1526.0,560.9 1528.0,560.9 1530.0,561.0 1532.0,561.0 1534.0,561.1 1536.0,561.1 1538.0,561.1 1540.0,561.2 1542.0,561.2 1544.0,561.2 1546.0,561.3 1548.0,561.3 1550.0,561.3 1552.0,561.4 1554.0,561.4 1556.0,561.4 1558.0,561.5 1560.0,561.5 1562.0,561.5 1564.0,561.5 1566.0,561.6 1568.0,561.6 1570.0,561.6 1572.0,561.7 1574.0,561.7 1576.0,561.7 1578.0,561.7 1580.0,561.8 1582.0,561.8 1584.0,561.8 1586.0,561.9 1588.0,561.9 1590.0,561.9 1592.0,561.9 1594.0,562.0 1596.0,562.0 1598.0,562.0 1600.0,562.0 1602.0,562.1 1604.0,562.1 1606.0,562.1 1608.0,562.1 1610.0,562.2 1612.0,562.2 1614.0,562.2 1616.0,562.2 1618.0,562.3 1620.0,562.3 1622.0,562.3 1624.0,562.3 1626.0,562.4 1628.0,562.4 1630.0,562.4 1632.0,562.4 1634.0,562.5 1636.0,562.5 1638.0,562.5 1640.0,562.6 1642.0,562.6 1644.0,562.6 1646.0,562.6 1648.0,562.7 1650.0,562.7 1652.0,562.7 1654.0,562.7 1656.0,562.8 1658.0,562.8 1660.0,562.8 1662.0,562.8 1664.0,562.8 1666.0,562.9 1668.0,562.9 1670.0,562.9 1672.0,562.9 1674.0,563.0 1676.0,563.0 1678.0,563.0 1680.0,563.0 1682.0,563.1 1684.0,563.1 1686.0,563.1 1688.0,563.1 1690.0,563.2 1692.0,563.2 1694.0,563.2 1696.0,563.2 1698.0,563.3 1700.0,563.3 1702.0,563.3 1704.0,563.3 1706.0,563.4 1708.0,563.4 1710.0,563.4 1712.0,563.4 1713.8,563.5 1714.5,563.5" stroke="#008080" stroke-width="2.4" fill="none" stroke-linejoin="round" stroke-linecap="round"/>
<path d="M968.9,564.5 969.4,562.2 970.0,560.4 971.2,559.2 972.6,559.7 973.6,560.0 974.2,559.7 975.0,560.6 976.4,561.8 978.2,562.4 980.2,561.9 982.2,562.0 984.2,561.9 986.2,562.6 988.2,563.3 990.2,562.8 992.2,561.7 994.2,561.4 996.2,561.5 998.2,561.8 1000.2,562.1 1002.2,563.2 1004.2,563.3 1006.2,563.6 1008.2,563.1 1010.2,562.8 1012.2,562.8 1014.2,563.0 1016.2,563.2 1018.2,563.0 1020.2,562.6 1022.2,562.5 1024.2,563.0 1026.2,563.4 1028.2,563.2 1030.2,562.8 1032.2,563.1 1034.2,562.6 1036.2,562.2 1038.2,562.4 1040.2,562.4 1042.2,563.1 1044.1,562.9 1046.1,562.3 1048.1,562.3 1050.1,562.4 1052.1,562.2 1054.1,562.3 1056.1,562.9 1058.1,562.3 1060.1,561.7 1062.1,561.4 1064.1,562.1 1066.1,562.3 1068.1,562.1 1070.1,561.8 1072.1,562.1 1074.1,561.3 1076.1,561.0 1078.1,561.3 1080.1,561.5 1082.1,562.0 1084.1,562.5 1086.1,561.9 1088.1,561.9 1090.1,561.5 1092.1,560.7 1094.1,560.2 1096.1,560.4 1098.1,560.2 1100.1,560.3 1102.1,560.6 1104.1,560.5 1106.1,560.5 1108.1,559.6 1110.1,560.4 1112.1,560.3 1114.1,560.2 1116.1,560.1 1118.1,560.1 1120.1,560.0 1122.1,559.9 1124.1,559.8 1126.1,559.7 1128.1,559.6 1130.1,559.6 1132.1,559.5 1134.1,559.4 1136.1,559.2 1138.1,559.1 1140.1,559.0 1142.1,558.9 1144.1,558.8 1146.1,558.7 1148.1,558.5 1150.1,558.4 1152.0,558.3 1154.0,558.1 1156.0,557.9 1158.0,557.8 1160.0,557.6 1162.0,557.4 1164.0,557.2 1166.0,557.0 1168.0,556.8 1170.0,556.6 1172.0,556.4 1173.9,556.1 1175.9,555.9 1177.9,555.6 1179.9,555.4 1181.9,555.1 1183.8,554.8 1185.8,554.5 1187.8,554.2 1189.8,553.9 1191.8,553.6 1193.7,553.3 1195.7,552.9 1197.7,552.6 1199.6,552.2 1201.6,551.9 1203.6,551.5 1205.5,551.1 1207.5,550.7 1209.4,550.3 1211.4,549.9 1213.4,549.5 1215.3,549.1 1217.3,548.7 1219.2,548.3 1221.2,547.8 1223.1,547.4 1225.1,546.9 1227.0,546.4 1229.0,546.0 1230.9,545.5 1232.8,545.0 1234.7,544.4 1236.7,543.9 1238.6,543.3 1240.5,542.7 1242.4,542.1 1244.2,541.4 1246.1,540.7 1247.9,540.0 1249.8,539.2 1251.6,538.4 1253.4,537.5 1255.1,536.7 1256.9,535.7 1258.6,534.7 1260.3,533.7 1262.0,532.7 1263.7,531.6 1265.3,530.5 1267.0,529.3 1268.6,528.2 1270.2,527.0 1271.7,525.7 1273.3,524.5 1274.8,523.2 1276.3,521.9 1277.8,520.6 1279.3,519.3 1280.7,517.9 1282.1,516.5 1283.4,515.0 1284.8,513.6 1286.0,512.0 1287.3,510.5 1288.5,508.9 1289.6,507.3 1290.7,505.7 1291.8,504.0 1292.8,502.3 1293.7,500.6 1294.7,498.8 1295.6,497.1 1296.4,495.3 1297.3,493.5 1298.1,491.6 1298.8,489.8 1299.6,487.9 1300.3,486.1 1301.0,484.2 1301.7,482.3 1302.3,480.5 1303.0,478.6 1303.6,476.7 1304.2,474.8 1304.8,472.9 1305.4,470.9 1305.9,469.0 1306.5,467.1 1307.0,465.2 1307.5,463.2 1308.1,461.3 1308.6,459.4 1309.1,457.4 1309.6,455.5 1310.0,453.6 1310.5,451.6 1311.0,449.7 1311.5,447.7 1312.0,445.8 1312.4,443.9 1312.9,441.9 1313.4,440.0 1313.8,438.0 1314.3,436.1 1314.8,434.1 1315.2,432.2 1315.7,430.2 1316.1,428.3 1316.6,426.3 1317.0,424.4 1317.5,422.4 1317.9,420.5 1318.3,418.5 1318.8,416.6 1319.2,414.6 1319.7,412.7 1320.1,410.7 1320.6,408.8 1321.0,406.8 1321.4,404.9 1321.9,402.9 1322.3,401.0 1322.8,399.0 1323.2,397.1 1323.7,395.1 1324.1,393.2 1324.6,391.2 1325.0,389.3 1325.5,387.3 1326.0,385.4 1326.4,383.5 1326.9,381.5 1327.3,379.6 1327.8,377.6 1328.2,375.7 1328.6,373.7 1329.1,371.8 1329.5,369.8 1330.0,367.9 1330.4,365.9 1330.8,364.0 1331.3,362.0 1331.7,360.0 1332.1,358.1 1332.6,356.1 1333.0,354.2 1333.4,352.2 1333.9,350.3 1334.3,348.3 1334.7,346.4 1335.2,344.4 1335.7,342.5 1336.1,340.5 1336.6,338.6 1337.1,336.7 1337.7,334.7 1338.2,332.8 1338.8,330.9 1339.4,329.0 1340.0,327.1 1340.7,325.3 1341.7,323.6 1342.9,322.5 1344.3,322.4 1345.7,323.4 1346.7,325.0 1347.6,326.8 1348.4,328.7 1349.1,330.5 1349.8,332.4 1350.4,334.3 1351.0,336.2 1351.5,338.1 1352.0,340.1 1352.5,342.0 1352.9,344.0 1353.3,345.9 1353.7,347.9 1354.1,349.9 1354.5,351.8 1354.8,353.8 1355.2,355.7 1355.6,357.7 1355.9,359.7 1356.3,361.6 1356.6,363.6 1357.0,365.6 1357.4,367.5 1357.7,369.5 1358.1,371.5 1358.4,373.5 1358.7,375.4 1359.1,377.4 1359.4,379.4 1359.8,381.3 1360.1,383.3 1360.5,385.3 1360.8,387.2 1361.1,389.2 1361.5,391.2 1361.8,393.2 1362.2,395.1 1362.5,397.1 1362.8,399.1 1363.2,401.0 1363.5,403.0 1363.9,405.0 1364.2,407.0 1364.6,408.9 1364.9,410.9 1365.3,412.9 1365.6,414.8 1366.0,416.8 1366.3,418.8 1366.7,420.7 1367.1,422.7 1367.4,424.7 1367.8,426.6 1368.2,428.6 1368.6,430.5 1369.0,432.5 1369.4,434.5 1369.8,436.4 1370.3,438.4 1370.7,440.3 1371.1,442.3 1371.6,444.2 1372.0,446.2 1372.5,448.1 1372.9,450.1 1373.4,452.0 1373.9,453.9 1374.4,455.9 1374.9,457.8 1375.4,459.8 1375.9,461.7 1376.4,463.6 1377.0,465.5 1377.5,467.5 1378.1,469.4 1378.6,471.3 1379.2,473.2 1379.8,475.1 1380.4,477.0 1381.0,479.0 1381.6,480.9 1382.2,482.8 1382.8,484.6 1383.5,486.5 1384.2,488.4 1384.8,490.3 1385.5,492.2 1386.2,494.0 1387.0,495.9 1387.7,497.8 1388.4,499.6 1389.2,501.5 1389.9,503.3 1390.7,505.2 1391.5,507.0 1392.3,508.8 1393.1,510.6 1394.0,512.5 1394.8,514.2 1395.7,516.0 1396.7,517.8 1397.6,519.5 1398.6,521.2 1399.6,522.9 1400.7,524.6 1401.8,526.2 1403.0,527.8 1404.2,529.3 1405.5,530.8 1406.8,532.3 1408.2,533.7 1409.6,535.0 1411.1,536.3 1412.6,537.6 1414.1,538.8 1415.7,539.9 1417.4,541.0 1419.0,542.0 1420.7,543.0 1422.5,544.0 1424.2,544.8 1426.0,545.7 1427.9,546.5 1429.7,547.3 1431.5,548.0 1433.4,548.7 1435.3,549.3 1437.2,550.0 1439.1,550.6 1441.0,551.1 1442.9,551.7 1444.8,552.2 1446.8,552.7 1448.7,553.1 1450.6,553.5 1452.6,553.9 1454.6,554.3 1456.5,554.7 1458.5,555.0 1460.5,555.3 1462.4,555.6 1464.4,555.9 1466.4,556.1 1468.4,556.4 1470.4,556.6 1472.4,556.8 1474.3,557.0 1476.3,557.3 1478.3,557.4 1480.3,557.6 1482.3,557.8 1484.3,558.0 1486.3,558.2 1488.3,558.3 1490.3,558.5 1492.3,558.6 1494.3,558.8 1496.3,558.9 1498.3,559.0 1500.3,559.1 1502.3,559.2 1504.2,559.3 1506.2,559.4 1508.2,559.5 1510.2,559.6 1512.2,559.7 1514.2,559.8 1516.2,559.9 1518.2,560.0 1520.2,560.0 1522.2,560.1 1524.2,560.2 1526.2,560.3 1528.2,560.3 1530.2,560.4 1532.2,560.4 1534.2,560.5 1536.2,560.5 1538.2,560.6 1540.2,560.6 1542.2,560.7 1544.2,560.7 1546.2,560.8 1548.2,560.8 1550.2,560.9 1552.2,560.9 1554.2,560.9 1556.2,561.0 1558.2,561.0 1560.2,561.1 1562.2,561.1 1564.2,561.2 1566.2,561.2 1568.2,561.2 1570.2,561.3 1572.2,561.3 1574.2,561.4 1576.2,561.4 1578.2,561.4 1580.2,561.5 1582.2,561.5 1584.2,561.5 1586.2,561.6 1588.2,561.6 1590.2,561.6 1592.2,561.7 1594.2,561.7 1596.2,561.7 1598.2,561.8 1600.2,561.8 1602.2,561.8 1604.2,561.9 1606.2,561.9 1608.2,561.9 1610.2,561.9 1612.2,562.0 1614.2,562.0 1616.2,562.0 1618.2,562.0 1620.2,562.1 1622.2,562.1 1624.2,562.1 1626.2,562.2 1628.2,562.2 1630.2,562.2 1632.2,562.2 1634.2,562.3 1636.2,562.3 1638.2,562.3 1640.2,562.3 1642.2,562.3 1644.2,562.4 1646.2,562.4 1648.2,562.4 1650.2,562.4 1652.2,562.5 1654.2,562.5 1656.2,562.5 1658.2,562.5 1660.2,562.6 1662.2,562.6 1664.2,562.6 1666.2,562.6 1668.2,562.7 1670.2,562.7 1672.2,562.7 1674.2,562.7 1676.2,562.7 1678.2,562.8 1680.2,562.8 1682.2,562.8 1684.2,562.8 1686.2,562.9 1688.2,562.9 1690.2,562.9 1692.2,562.9 1694.2,562.9 1696.2,563.0 1698.2,563.0 1700.2,563.0 1702.2,563.0 1704.2,563.1 1706.2,563.1 1708.2,563.1 1710.2,563.1 1712.2,563.2 1714.0,563.2 1714.7,563.2" stroke="#ff00ff" stroke-width="2.4" fill="none" stroke-linejoin="round" stroke-linecap="round"/>
<rect x="960.1" y="2.7" width="756.9" height="563.2" fill="none" stroke="#000" stroke-width="2.1"/>
<line x1="960.1" y1="39.5" x2="967.6" y2="39.5" stroke="#000" stroke-width="2.2"/>
<text x="951.2" y="47.7" text-anchor="end" font-size="26" >560</text>
<line x1="960.1" y1="170.6" x2="967.6" y2="170.6" stroke="#000" stroke-width="2.2"/>
<text x="951.2" y="178.8" text-anchor="end" font-size="26" >420</text>
<line x1="960.1" y1="301.7" x2="967.6" y2="301.7" stroke="#000" stroke-width="2.2"/>
<text x="951.2" y="309.9" text-anchor="end" font-size="26" >280</text>
<line x1="960.1" y1="432.8" x2="967.6" y2="432.8" stroke="#000" stroke-width="2.2"/>
<text x="951.2" y="441.0" text-anchor="end" font-size="26" >140</text>
<line x1="960.1" y1="563.9" x2="967.6" y2="563.9" stroke="#000" stroke-width="2.2"/>
<text x="951.2" y="572.1" text-anchor="end" font-size="26" >0</text>
<line x1="960.1" y1="105.1" x2="964.1" y2="105.1" stroke="#000" stroke-width="2.2"/>
<line x1="960.1" y1="236.2" x2="964.1" y2="236.2" stroke="#000" stroke-width="2.2"/>
<line x1="960.1" y1="367.3" x2="964.1" y2="367.3" stroke="#000" stroke-width="2.2"/>
<line x1="960.1" y1="498.4" x2="964.1" y2="498.4" stroke="#000" stroke-width="2.2"/>
<line x1="960.4" y1="565.9" x2="960.4" y2="559.4" stroke="#000" stroke-width="2.2"/>
<text x="960.4" y="595.0" text-anchor="middle" font-size="26" >0</text>
<line x1="1128.6" y1="565.9" x2="1128.6" y2="559.4" stroke="#000" stroke-width="2.2"/>
<text x="1128.6" y="595.0" text-anchor="middle" font-size="26" >2</text>
<line x1="1296.7" y1="565.9" x2="1296.7" y2="559.4" stroke="#000" stroke-width="2.2"/>
<text x="1296.7" y="595.0" text-anchor="middle" font-size="26" >4</text>
<line x1="1464.9" y1="565.9" x2="1464.9" y2="559.4" stroke="#000" stroke-width="2.2"/>
<text x="1464.9" y="595.0" text-anchor="middle" font-size="26" >6</text>
<line x1="1633.0" y1="565.9" x2="1633.0" y2="559.4" stroke="#000" stroke-width="2.2"/>
<text x="1633.0" y="595.0" text-anchor="middle" font-size="26" >8</text>
<line x1="1044.5" y1="565.9" x2="1044.5" y2="562.4" stroke="#000" stroke-width="2.2"/>
<line x1="1212.6" y1="565.9" x2="1212.6" y2="562.4" stroke="#000" stroke-width="2.2"/>
<line x1="1380.8" y1="565.9" x2="1380.8" y2="562.4" stroke="#000" stroke-width="2.2"/>
<line x1="1549.0" y1="565.9" x2="1549.0" y2="562.4" stroke="#000" stroke-width="2.2"/>
<text x="985.0" y="44.4" text-anchor="start" font-size="34.5" >(b)</text>
<text x="1258.6" y="625.4" font-size="27.3"><tspan font-family="'Liberation Serif', serif" font-size="28.5" style="stroke-width:0.9px">ω</tspan>/2<tspan font-family="'Liberation Serif', serif" font-style="italic" font-size="28" style="stroke-width:0.7px">π</tspan> (GHz)</text>
<text transform="translate(882.3,285.3) rotate(-90)" font-size="26">χ<tspan font-size="33" dx="1.5" dy="2.2">″</tspan></text>
<path d="M1146.6,65.5 1150.2,71.7 1153.7,77.8 1157.3,83.8 1160.8,89.7 1164.4,95.5 1167.9,101.2 1171.5,106.8 1175.1,112.3 1178.6,117.7 1182.2,123.0 1185.7,128.3 1189.3,133.4 1192.8,138.5 1196.4,143.5 1200.0,148.4 1203.5,153.2 1207.1,158.0 1210.6,162.7 1214.2,167.3 1217.8,171.8 1221.3,176.2 1224.9,180.6 1228.4,185.0 1232.0,189.2 1235.5,193.4 1239.1,197.5 1242.7,201.6 1246.2,205.6 1249.8,209.6 1253.3,213.5 1256.9,217.4 1260.4,221.2 1264.0,225.0 1267.6,228.7 1271.1,232.4 1274.7,236.0 1278.2,239.6 1281.8,243.1 1285.3,246.6 1288.9,250.1 1292.5,253.6 1296.0,257.0 1299.6,260.4 1303.1,263.8 1306.7,267.1 1310.3,270.4 1313.8,273.7 1317.4,277.0 1320.9,280.2 1324.5,283.5 1328.0,286.7 1331.6,289.9 1335.2,293.1 1338.7,296.3 1342.3,299.5 1345.8,302.7 1349.4,305.9 1352.9,309.0 1356.5,312.2" stroke="#000" stroke-width="2.3" fill="none"/>
<polygon points="1361.8,318.1 1351.6,315.6 1356.6,314.1 1356.9,308.9" fill="#000" stroke="#000" stroke-width="1.6" stroke-linejoin="round"/>
<polyline points="1379.0,240.6 1384.1,235.8 1389.2,231.1 1394.3,226.6 1399.4,222.2 1404.5,217.9 1409.6,213.7 1414.7,209.6 1419.8,205.6 1424.9,201.6 1430.0,197.8 1435.1,194.0 1440.2,190.3 1445.3,186.6 1450.4,183.0 1455.5,179.5 1460.6,176.0 1465.7,172.6 1470.8,169.2 1475.9,165.9 1481.0,162.6 1486.1,159.3 1491.2,156.1 1496.3,152.9 1501.4,149.8 1506.5,146.7 1511.6,143.7 1516.7,140.7 1521.8,137.7 1526.9,134.7 1531.9,131.8 1537.0,128.9 1542.1,126.0 1547.2,123.2 1552.3,120.3 1557.4,117.5 1562.5,114.8 1567.6,112.0 1572.7,109.3 1577.8,106.6 1582.9,103.9 1588.0,101.3 1593.1,98.6 1598.2,96.0 1603.3,93.4 1608.4,90.9 1613.5,88.3 1618.6,85.8 1623.7,83.2 1628.8,80.7 1633.9,78.3 1639.0,75.8 1644.1,73.3 1649.2,70.9 1654.3,68.5 1659.4,66.1 1664.5,63.7 1669.6,61.3 1674.7,58.9 1679.8,56.6" fill="none" stroke="#000" stroke-width="3"/>
<circle cx="1379.0" cy="240.6" r="6.3" fill="none" stroke="#0000ff" stroke-width="2.9"/>
<circle cx="1417.0" cy="207.7" r="6.3" fill="none" stroke="#0000ff" stroke-width="2.9"/>
<circle cx="1454.9" cy="179.3" r="6.3" fill="none" stroke="#0000ff" stroke-width="2.9"/>
<circle cx="1492.6" cy="155.0" r="6.3" fill="none" stroke="#0000ff" stroke-width="2.9"/>
<circle cx="1530.3" cy="131.7" r="6.3" fill="none" stroke="#0000ff" stroke-width="2.9"/>
<circle cx="1567.4" cy="111.2" r="6.3" fill="none" stroke="#0000ff" stroke-width="2.9"/>
<circle cx="1605.6" cy="92.2" r="6.3" fill="none" stroke="#0000ff" stroke-width="2.9"/>
<circle cx="1642.8" cy="74.5" r="6.3" fill="none" stroke="#0000ff" stroke-width="2.9"/>
<circle cx="1679.8" cy="56.5" r="6.3" fill="none" stroke="#0000ff" stroke-width="2.9"/>
<rect x="1368.5" y="25.2" width="331.9" height="230.2" fill="none" stroke="#000" stroke-width="3"/>
<line x1="1368.5" y1="240.6" x2="1373.5" y2="240.6" stroke="#000" stroke-width="2.5"/>
<text x="1362.3" y="248.9" text-anchor="end" font-size="26.5" >2</text>
<line x1="1368.5" y1="168.7" x2="1373.5" y2="168.7" stroke="#000" stroke-width="2.5"/>
<text x="1362.3" y="177.0" text-anchor="end" font-size="26.5" >3</text>
<line x1="1368.5" y1="96.8" x2="1373.5" y2="96.8" stroke="#000" stroke-width="2.5"/>
<text x="1362.3" y="105.1" text-anchor="end" font-size="26.5" >4</text>
<line x1="1368.5" y1="24.9" x2="1373.5" y2="24.9" stroke="#000" stroke-width="2.5"/>
<text x="1362.3" y="33.2" text-anchor="end" font-size="26.5" >5</text>
<line x1="1368.5" y1="204.6" x2="1372.0" y2="204.6" stroke="#000" stroke-width="2.5"/>
<line x1="1368.5" y1="132.8" x2="1372.0" y2="132.8" stroke="#000" stroke-width="2.5"/>
<line x1="1368.5" y1="60.8" x2="1372.0" y2="60.8" stroke="#000" stroke-width="2.5"/>
<line x1="1376.4" y1="255.4" x2="1376.4" y2="250.4" stroke="#000" stroke-width="2.5"/>
<text x="1376.4" y="281.3" text-anchor="middle" font-size="27.2" >45</text>
<line x1="1451.2" y1="255.4" x2="1451.2" y2="250.4" stroke="#000" stroke-width="2.5"/>
<text x="1451.2" y="281.3" text-anchor="middle" font-size="27.2" >90</text>
<line x1="1526.0" y1="255.4" x2="1526.0" y2="250.4" stroke="#000" stroke-width="2.5"/>
<text x="1526.0" y="281.3" text-anchor="middle" font-size="27.2" >135</text>
<line x1="1600.8" y1="255.4" x2="1600.8" y2="250.4" stroke="#000" stroke-width="2.5"/>
<text x="1600.8" y="281.3" text-anchor="middle" font-size="27.2" >180</text>
<line x1="1675.6" y1="255.4" x2="1675.6" y2="250.4" stroke="#000" stroke-width="2.5"/>
<text x="1675.6" y="281.3" text-anchor="middle" font-size="27.2" >225</text>
<line x1="1413.8" y1="255.4" x2="1413.8" y2="252.4" stroke="#000" stroke-width="2.5"/>
<line x1="1488.6" y1="255.4" x2="1488.6" y2="252.4" stroke="#000" stroke-width="2.5"/>
<line x1="1563.4" y1="255.4" x2="1563.4" y2="252.4" stroke="#000" stroke-width="2.5"/>
<line x1="1638.2" y1="255.4" x2="1638.2" y2="252.4" stroke="#000" stroke-width="2.5"/>
<text x="1489" y="304" font-size="27.3"><tspan font-style="italic">H</tspan> (Oe)</text>
<text transform="translate(1330.7,223.6) rotate(-90)" font-size="27.3"><tspan font-family="'Liberation Serif', serif" font-size="44" style="stroke-width:0.6px">ω</tspan><tspan dy="6">r</tspan><tspan dy="-6">/2</tspan><tspan font-family="'Liberation Serif', serif" font-style="italic" font-size="28" style="stroke-width:0.7px">π</tspan> (GHz)</text>
</svg>
</body></html>
